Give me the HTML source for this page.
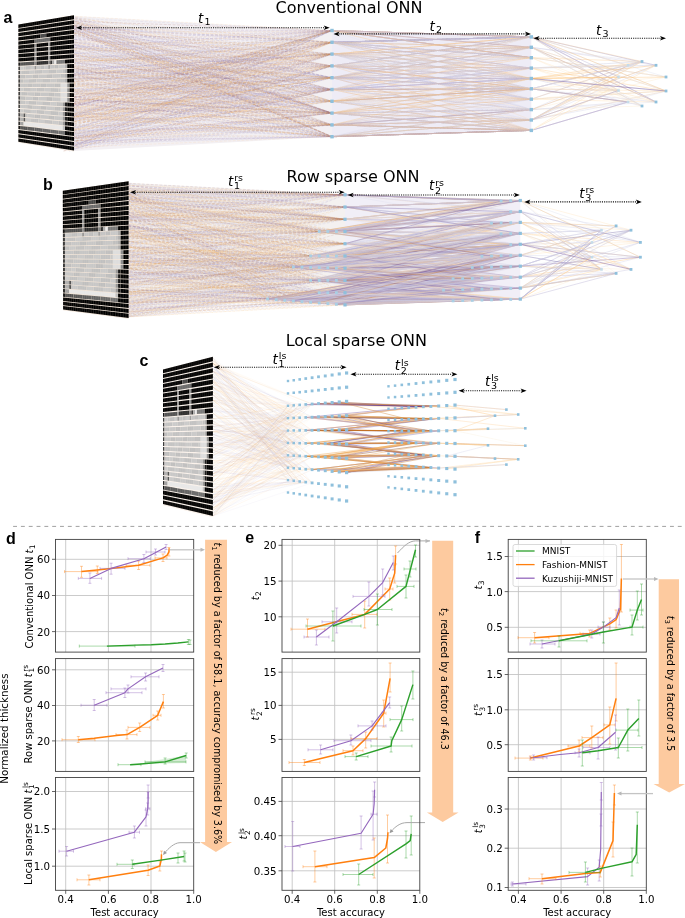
<!DOCTYPE html><html><head><meta charset="utf-8"><style>html,body{margin:0;padding:0;background:#fff;}svg{display:block}</style></head><body>
<svg width="685" height="918" viewBox="0 0 685 918" font-family="DejaVu Sans, sans-serif">
<rect width="685" height="918" fill="#fff"/>
<text x="3.5" y="22.6" font-family="Liberation Sans, sans-serif" font-weight="bold" font-size="16">a</text>
<text x="349" y="13.2" font-size="16" text-anchor="middle">Conventional ONN</text>
<polygon points="73.5,16 332,30.5 332,136.7 73.5,151" fill="#f3f0f3"/>
<polygon points="332,30.5 531.3,36.9 531.3,130.4 332,136.7" fill="#eeecf6"/>
<g stroke-width="0.55" fill="none" stroke-dasharray="3,1.4"><path d="M72.3 139.2L332 77.7M61.7 22.8L332 136.7M65.6 118.9L332 124.9M62.8 71.7L332 54.1M66 97L332 89.5M70 27.8L332 54.1M66.1 120.6L332 113.1M69.1 130.8L332 124.9M72.8 91.9L332 113.1M68.9 113.9L332 89.5M67.2 44.7L332 89.5M70.5 46.4L332 113.1M66.7 19.4L332 77.7M69.4 78.4L332 77.7M63.8 122.3L332 30.5M73.6 103.8L332 89.5M73.6 103.8L332 124.9M68.2 24.4L332 101.3M63.7 21.1L332 65.9M73.1 90.2L332 77.7M73.7 70L332 54.1M61.5 134.1L332 124.9M68.1 105.4L332 101.3M67 108.8L332 30.5M68.3 144.2L332 89.5M69.1 58.2L332 77.7" stroke="#7560a3" stroke-opacity="0.2"/><path d="M70 27.8L332 42.3M74 39.6L332 54.1" stroke="#40146a" stroke-opacity="0.2"/><path d="M67.1 58.2L332 136.7M71.1 32.9L332 42.3M60.1 112.2L332 124.9M70.6 91.9L332 42.3M65.3 132.4L332 136.7M70.9 86.9L332 89.5M61 139.2L332 113.1M62.1 68.3L332 77.7M60.3 41.3L332 89.5M65.1 49.8L332 54.1M63.2 81.8L332 30.5M60.5 64.9L332 42.3M61.1 39.6L332 65.9M63.3 83.5L332 124.9M64.2 32.9L332 30.5" stroke="#fdc278" stroke-opacity="0.2"/><path d="M66.8 36.2L332 124.9M62.7 91.9L332 113.1M62.2 145.9L332 30.5M63.5 110.5L332 30.5M62.2 61.6L332 30.5M70.9 86.9L332 30.5M69 124L332 30.5M72.1 117.2L332 136.7M65.9 26.1L332 136.7M70.6 102.1L332 101.3M70.3 115.6L332 54.1M63.1 34.6L332 136.7M70.6 127.4L332 113.1M63.5 110.5L332 89.5M61.5 134.1L332 42.3M66.1 120.6L332 54.1M65.4 17.7L332 65.9M63.1 132.4L332 42.3M66.7 19.4L332 42.3M64.2 75.1L332 54.1M73.5 53.1L332 54.1M65.5 125.7L332 136.7M71.4 31.2L332 54.1M61 139.2L332 77.7M65.2 48.1L332 30.5M60.8 59.9L332 77.7M64.2 75.1L332 65.9M69.6 118.9L332 42.3M72.4 46.4L332 136.7M67.1 58.2L332 124.9M60.5 64.9L332 42.3M65.2 26.1L332 42.3M69.9 24.4L332 113.1M62.6 90.2L332 30.5M61.2 51.4L332 77.7M64.2 32.9L332 30.5M62.6 49.8L332 113.1M62.8 70L332 136.7M72.8 78.4L332 65.9M66.3 43L332 89.5M73.7 32.9L332 124.9M73.7 34.6L332 42.3M73.7 32.9L332 113.1M62.8 70L332 77.7M72.4 66.6L332 42.3M66.9 135.8L332 77.7M73.7 34.6L332 42.3M70.3 27.8L332 89.5M73.1 90.2L332 101.3M72.4 61.6L332 113.1M60 120.6L332 136.7M70.1 130.8L332 124.9M72.8 78.4L332 77.7M61.7 22.8L332 89.5M68.8 85.2L332 77.7M72.1 117.2L332 42.3M68.8 85.2L332 42.3M67.6 105.4L332 101.3M69.3 151L332 65.9M62.6 48.1L332 42.3M67.1 58.2L332 124.9M63.2 81.8L332 42.3M69.4 29.5L332 113.1M60.2 137.5L332 65.9M65.9 26.1L332 42.3M71.3 93.6L332 54.1M71.1 32.9L332 30.5M69.8 117.2L332 30.5M71.6 135.8L332 30.5M68.3 144.2L332 113.1M67.8 22.8L332 113.1M68.3 144.2L332 136.7M63.5 140.9L332 42.3M72.4 61.6L332 124.9" stroke="#a69dc8" stroke-opacity="0.2"/><path d="M64.8 98.7L332 113.1M65.2 48.1L332 30.5M65 36.2L332 77.7M63.5 140.9L332 136.7M69.4 29.5L332 30.5M68.9 103.8L332 77.7M68.9 103.8L332 30.5M61.5 105.4L332 89.5M63.3 83.5L332 42.3" stroke="#542788" stroke-opacity="0.2"/><path d="M66.3 120.6L332 77.7M63.5 110.5L332 136.7M65.5 125.7L332 65.9M66.1 48.1L332 124.9M60.2 71.7L332 136.7M67.4 102.1L332 30.5M68.8 85.2L332 113.1M66.4 103.8L332 54.1M61.8 39.6L332 101.3M61.2 95.3L332 113.1M64.1 83.5L332 89.5M61.7 22.8L332 113.1M67.3 115.6L332 136.7M62.5 51.4L332 113.1M62.2 61.6L332 54.1M60 120.6L332 113.1M65.8 124L332 42.3M72.7 51.4L332 42.3" stroke="#e08214" stroke-opacity="0.2"/><path d="M60 120.6L332 89.5M72 29.5L332 65.9" stroke="#4a1d79" stroke-opacity="0.2"/><path d="M63.7 145.9L332 42.3M70 27.8L332 136.7M63.8 122.3L332 30.5M69.1 130.8L332 101.3M72.1 117.2L332 30.5M73.6 103.8L332 113.1M71 108.8L332 65.9M71.4 21.1L332 30.5M72.5 100.4L332 89.5M65 36.2L332 30.5M71.6 93.6L332 124.9M63.3 83.5L332 30.5M65.8 124L332 89.5M65.4 17.7L332 136.7M70.3 115.6L332 54.1M70.9 112.2L332 30.5M61.8 16L332 77.7M73.8 64.9L332 101.3M68.7 149.3L332 42.3M67.6 105.4L332 54.1M67.1 58.2L332 89.5M65 135.8L332 136.7M67.3 66.6L332 124.9M70.4 27.8L332 124.9M68.1 113.9L332 136.7M62.4 98.7L332 54.1M68.2 71.7L332 42.3M63.1 132.4L332 65.9M67.7 73.4L332 113.1M60.8 59.9L332 65.9M73.6 103.8L332 124.9M63.7 21.1L332 65.9M63.1 132.4L332 124.9M60.2 37.9L332 113.1M63.3 19.4L332 89.5M67.6 105.4L332 113.1M61.5 80.1L332 101.3M69.7 125.7L332 65.9M70.9 86.9L332 65.9M69.4 75.1L332 101.3M70.9 16L332 30.5M72.1 117.2L332 89.5M71.3 142.6L332 54.1M61 139.2L332 124.9M65.6 147.6L332 136.7M71.1 16L332 113.1M63.2 43L332 30.5M69.1 127.4L332 89.5M60.5 81.8L332 101.3M73.3 54.8L332 30.5M61.4 78.4L332 42.3M73.8 129.1L332 30.5M63.2 81.8L332 65.9M62.6 93.6L332 77.7M63.6 151L332 113.1M63.5 110.5L332 113.1M67 108.8L332 113.1M68.9 103.8L332 101.3" stroke="#fdb863" stroke-opacity="0.2"/><path d="M66.4 115.6L332 77.7M61.1 17.7L332 30.5M62.8 70L332 113.1M65.4 17.7L332 101.3M65.8 59.9L332 42.3M72.4 46.4L332 113.1M66 97L332 54.1M68 112.2L332 30.5M63.8 134.1L332 30.5M72.6 63.2L332 42.3M62.6 48.1L332 124.9M67.2 17.7L332 77.7M61.5 134.1L332 101.3M61.3 140.9L332 65.9M64.5 118.9L332 30.5M65.4 17.7L332 136.7M62.8 71.7L332 77.7M66.7 19.4L332 136.7M71.3 142.6L332 124.9M60.3 41.3L332 101.3M71.1 16L332 136.7M69.1 130.8L332 65.9M68.7 149.3L332 30.5M61.2 95.3L332 136.7M73.6 44.7L332 65.9M68.4 41.3L332 124.9M65 137.5L332 136.7M65.5 110.5L332 136.7M60.6 76.8L332 136.7M71.8 144.2L332 124.9M65.5 125.7L332 124.9M62.8 71.7L332 89.5M62.7 95.3L332 77.7M61.4 78.4L332 136.7M73.6 103.8L332 124.9M63.2 43L332 89.5M63.2 81.8L332 101.3M69.4 78.4L332 136.7M60.6 76.8L332 89.5M67 149.3L332 65.9M72.4 66.6L332 136.7M60.8 59.9L332 54.1" stroke="#8c81b6" stroke-opacity="0.2"/><path d="M72 29.5L332 113.1" stroke="#370a5a" stroke-opacity="0.2"/><path d="M65.2 48.1L332 65.9M63.8 134.1L332 136.7M65.7 130.8L332 30.5M72.8 78.4L332 113.1M69.3 151L332 30.5M66.9 63.2L332 113.1M67.8 22.8L332 54.1M62.9 56.5L332 54.1M71.3 142.6L332 30.5M68.9 113.9L332 65.9M61.7 22.8L332 77.7M65.9 34.6L332 77.7M61.2 95.3L332 124.9M65 137.5L332 65.9M63.2 81.8L332 65.9M73 127.4L332 89.5M70.9 112.2L332 136.7M66.1 120.6L332 89.5M61.4 78.4L332 89.5M68.9 56.5L332 65.9M70.9 16L332 113.1M69 124L332 136.7M64.7 80.1L332 136.7M72.8 44.7L332 101.3M63.6 151L332 30.5M63.1 34.6L332 54.1M65 135.8L332 89.5M60.5 64.9L332 101.3M73.7 32.9L332 77.7M68.8 64.9L332 101.3M72.6 63.2L332 101.3M65.9 26.1L332 42.3M61.1 39.6L332 77.7M71.3 142.6L332 77.7M67.3 115.6L332 54.1M66.6 107.1L332 113.1M62.9 54.8L332 77.7M69.6 118.9L332 101.3M71.4 31.2L332 113.1M66 70L332 124.9M62.2 61.6L332 89.5M65.2 48.1L332 113.1M63.3 83.5L332 89.5M68.9 53.1L332 136.7M73.6 44.7L332 89.5M60 120.6L332 136.7M62.7 95.3L332 77.7M62.7 91.9L332 65.9M73.5 53.1L332 124.9M65.8 147.6L332 54.1M73.2 73.4L332 113.1M65.7 95.3L332 124.9M66.4 103.8L332 89.5M71.3 73.4L332 30.5M60.4 85.2L332 101.3M66.4 103.8L332 30.5M63.2 137.5L332 77.7M69.7 125.7L332 30.5M69.8 151L332 54.1M72.3 139.2L332 101.3M66.6 107.1L332 30.5M67.7 73.4L332 89.5M70.2 24.4L332 89.5M63.5 110.5L332 136.7M61.2 95.3L332 42.3M62.8 71.7L332 77.7M61 139.2L332 89.5M61.1 17.7L332 89.5M67.7 73.4L332 30.5" stroke="#998fbf" stroke-opacity="0.2"/><path d="M66 97L332 77.7M63.2 43L332 77.7M62.5 51.4L332 77.7M72.3 139.2L332 113.1M70.3 90.2L332 42.3M64.8 98.7L332 113.1M73.7 34.6L332 77.7M65.8 147.6L332 89.5M69.4 75.1L332 136.7M71.1 16L332 89.5M60.3 41.3L332 113.1M66.4 115.6L332 77.7M70.3 90.2L332 30.5M63.1 34.6L332 77.7M68.8 85.2L332 65.9M73.2 129.1L332 54.1M70.9 16L332 89.5M67.4 102.1L332 30.5M67.7 88.6L332 54.1M60.3 41.3L332 65.9M63.2 137.5L332 89.5M66.3 43L332 42.3M67.1 58.2L332 89.5M72.5 100.4L332 77.7M61.1 39.6L332 89.5M65.8 147.6L332 89.5M73.7 70L332 101.3M72.9 21.1L332 124.9M62.6 49.8L332 113.1M66 70L332 113.1M67.7 88.6L332 101.3M72.1 117.2L332 124.9M62 66.6L332 65.9M63.8 122.3L332 65.9M72.3 139.2L332 113.1M65.9 100.4L332 136.7M68.2 71.7L332 77.7M65.5 110.5L332 89.5M63.5 140.9L332 77.7M72.7 51.4L332 77.7M69.1 130.8L332 89.5M60.1 112.2L332 30.5M67.7 73.4L332 89.5M69 75.1L332 101.3M69.5 113.9L332 113.1M73.3 54.8L332 89.5M64.2 32.9L332 89.5M70.9 112.2L332 89.5M61.1 17.7L332 136.7M72.1 117.2L332 77.7M63 108.8L332 89.5M67.3 66.6L332 30.5M71.3 142.6L332 77.7M64.2 75.1L332 101.3M74 144.2L332 136.7M61.2 95.3L332 30.5M62.2 61.6L332 30.5M65.9 100.4L332 113.1M67.8 22.8L332 101.3M73.6 44.7L332 136.7M63.4 81.8L332 30.5M60.2 100.4L332 113.1M65 36.2L332 65.9M69.1 58.2L332 42.3M67.2 44.7L332 30.5M63.1 34.6L332 77.7M62.8 70L332 30.5M65.5 110.5L332 101.3M71.8 132.4L332 65.9M63.2 147.6L332 65.9M73.5 53.1L332 65.9M69 75.1L332 113.1M69.5 113.9L332 42.3M71.8 144.2L332 124.9M63.2 43L332 30.5M62.6 93.6L332 101.3M67.3 66.6L332 54.1M63.5 140.9L332 89.5" stroke="#b2abd2" stroke-opacity="0.2"/><path d="M63.5 110.5L332 30.5" stroke="#8c4207" stroke-opacity="0.2"/><path d="M65.7 95.3L332 77.7M60.5 107.1L332 124.9M70.3 27.8L332 136.7M62.6 142.6L332 113.1M60.5 107.1L332 42.3M65.8 124L332 54.1M63.4 81.8L332 124.9M69.9 24.4L332 101.3M69.8 98.7L332 77.7M61.1 17.7L332 42.3M67.3 115.6L332 136.7M72.1 117.2L332 42.3M72.8 91.9L332 136.7M71.3 142.6L332 65.9M70.6 102.1L332 65.9M66.4 115.6L332 124.9" stroke="#d57811" stroke-opacity="0.2"/><path d="M67.3 115.6L332 42.3M73.7 32.9L332 113.1M65.4 17.7L332 113.1M73.7 34.6L332 113.1" stroke="#b35806" stroke-opacity="0.2"/><path d="M73 127.4L332 65.9M69.8 117.2L332 77.7M71.7 29.5L332 124.9M70.3 115.6L332 30.5M70 27.8L332 54.1M62.8 70L332 89.5M73.1 90.2L332 42.3M67.7 68.3L332 30.5M65.8 147.6L332 65.9M70.4 27.8L332 89.5M62.7 91.9L332 77.7M66.6 80.1L332 65.9M62.2 61.6L332 54.1" stroke="#ca6d0d" stroke-opacity="0.2"/><path d="M65.2 48.1L332 65.9M62.6 142.6L332 113.1M62.6 142.6L332 42.3M73.2 97L332 65.9M60.2 137.5L332 113.1M66.6 107.1L332 30.5M60.2 100.4L332 42.3M60.6 76.8L332 113.1M69.6 118.9L332 42.3M67.1 58.2L332 65.9M64.2 83.5L332 101.3M68.6 63.2L332 42.3M72.8 78.4L332 30.5M73.2 73.4L332 124.9M61.2 51.4L332 113.1M60.6 76.8L332 54.1M71.5 139.2L332 89.5M60.5 107.1L332 113.1M64.2 83.5L332 54.1M67 149.3L332 89.5M67.8 22.8L332 136.7M61.5 134.1L332 54.1M68.6 63.2L332 77.7M69.9 24.4L332 42.3M68.9 86.9L332 54.1M67.7 68.3L332 89.5M69.9 24.4L332 89.5M63.3 83.5L332 42.3M64.7 80.1L332 54.1M71.4 21.1L332 101.3M69.5 113.9L332 136.7" stroke="#e79028" stroke-opacity="0.2"/><path d="M72.8 85.2L332 77.7M65.5 124L332 136.7M70.3 27.8L332 124.9M69.4 29.5L332 42.3M69.8 98.7L332 65.9M71.8 22.8L332 77.7M68.3 144.2L332 42.3M65.6 118.9L332 30.5M69.3 151L332 65.9M71.4 21.1L332 113.1M65 122.3L332 113.1M62.4 98.7L332 77.7M62.2 145.9L332 65.9M60.2 100.4L332 42.3M60.8 59.9L332 136.7M65.6 26.1L332 136.7M68.6 63.2L332 113.1M72.8 91.9L332 42.3M62.7 88.6L332 124.9M61 49.8L332 136.7M62.6 142.6L332 30.5M72.8 78.4L332 42.3M60.5 64.9L332 124.9M64.2 75.1L332 65.9M67 134.1L332 54.1M66.1 48.1L332 124.9M60.2 71.7L332 30.5M70.4 27.8L332 89.5M61 139.2L332 65.9M64.5 118.9L332 136.7M68.8 64.9L332 136.7M71.3 73.4L332 124.9M63.4 140.9L332 101.3" stroke="#bcb7d8" stroke-opacity="0.2"/><path d="M71.7 129.1L332 54.1M67 149.3L332 30.5M60.6 76.8L332 30.5M67.3 66.6L332 113.1M62.2 61.6L332 89.5M71.3 142.6L332 136.7M61.8 39.6L332 89.5M65.7 95.3L332 136.7M65.8 147.6L332 89.5M69.4 29.5L332 136.7M63.2 137.5L332 113.1M60.6 76.8L332 54.1M61.7 22.8L332 65.9M71.4 21.1L332 30.5M65.1 107.1L332 54.1M63 108.8L332 42.3M73.2 73.4L332 65.9M61 139.2L332 113.1M69.8 98.7L332 42.3M68.2 24.4L332 113.1M65.3 132.4L332 89.5" stroke="#5f3a91" stroke-opacity="0.2"/><path d="M67.2 44.7L332 124.9M65 137.5L332 124.9" stroke="#a65107" stroke-opacity="0.2"/><path d="M73.2 97L332 65.9M68.3 144.2L332 113.1M60.2 137.5L332 54.1M71.7 145.9L332 65.9M71.6 135.8L332 124.9M74 39.6L332 30.5M70 27.8L332 113.1M63.6 151L332 89.5M63.2 147.6L332 124.9M67.7 88.6L332 89.5M62.9 54.8L332 65.9M60.2 100.4L332 136.7M66.4 115.6L332 101.3M69.2 61.6L332 89.5M71 108.8L332 113.1M66.3 43L332 113.1M62.9 54.8L332 30.5" stroke="#6a4d9a" stroke-opacity="0.2"/><path d="M62.7 95.3L332 42.3M69.4 29.5L332 136.7M60.5 97L332 42.3M70.3 115.6L332 101.3M73.7 70L332 54.1M69 75.1L332 113.1M65.6 26.1L332 77.7M61.7 22.8L332 77.7M71.4 54.8L332 136.7M61.4 78.4L332 77.7M67.7 68.3L332 113.1M60.8 59.9L332 77.7M68.9 86.9L332 136.7M67.7 73.4L332 124.9M66.1 48.1L332 54.1M65.3 132.4L332 124.9M61.2 51.4L332 30.5M65 135.8L332 89.5M72.3 139.2L332 54.1M67 149.3L332 124.9M62.8 70L332 54.1M61.3 140.9L332 136.7M65.6 118.9L332 30.5M61.7 22.8L332 113.1M65.5 110.5L332 113.1M66.8 36.2L332 113.1M70.6 91.9L332 77.7M70.6 127.4L332 30.5M72.3 139.2L332 124.9M69 75.1L332 54.1M71.4 31.2L332 65.9M62.4 98.7L332 113.1M65.6 147.6L332 113.1" stroke="#8073ac" stroke-opacity="0.2"/><path d="M63.6 151L332 77.7M65.7 95.3L332 65.9M64.9 102.1L332 101.3M71.5 139.2L332 101.3M62.2 145.9L332 124.9M63.8 122.3L332 89.5M64.2 83.5L332 77.7M64.8 98.7L332 101.3M68.9 53.1L332 77.7M73.7 32.9L332 65.9M63.8 134.1L332 124.9M69.6 118.9L332 77.7M64.9 102.1L332 54.1M65.7 130.8L332 101.3M71.6 135.8L332 42.3M61 49.8L332 42.3M65.8 124L332 65.9M60.8 59.9L332 54.1M70.2 24.4L332 54.1M63 108.8L332 136.7M63.3 19.4L332 65.9M72 29.5L332 136.7M71 108.8L332 124.9M71.3 73.4L332 54.1M72.1 117.2L332 77.7M63.3 83.5L332 54.1M62.6 49.8L332 30.5M73.2 97L332 42.3M65.8 147.6L332 42.3M71.7 129.1L332 101.3M61.8 39.6L332 54.1M65.9 100.4L332 113.1M62.6 90.2L332 30.5M69.2 61.6L332 42.3M65.3 132.4L332 124.9M71.3 73.4L332 136.7M70.6 91.9L332 77.7M68.8 64.9L332 136.7M66.6 80.1L332 42.3M70.6 56.5L332 77.7M73.6 44.7L332 42.3M67.8 22.8L332 136.7" stroke="#f6aa4f" stroke-opacity="0.2"/><path d="M62.4 98.7L332 113.1" stroke="#994a07" stroke-opacity="0.2"/><path d="M68.1 105.4L332 30.5M60.5 64.9L332 124.9M65.5 125.7L332 77.7M71.6 93.6L332 89.5" stroke="#be630a" stroke-opacity="0.2"/><path d="M69.1 58.2L332 77.7M73.1 90.2L332 124.9M62.6 43L332 101.3M69.1 130.8L332 101.3M67.7 88.6L332 124.9M64.1 83.5L332 113.1M65.5 110.5L332 54.1M70.3 90.2L332 136.7M60.5 97L332 113.1M64.5 118.9L332 77.7M64.9 102.1L332 77.7M70.6 127.4L332 30.5M62.9 56.5L332 54.1M67.6 105.4L332 124.9M73.7 32.9L332 113.1M67.8 22.8L332 42.3M67.3 66.6L332 77.7M66.4 115.6L332 65.9M70.9 16L332 65.9M60.5 107.1L332 101.3M71.3 73.4L332 89.5M73.2 129.1L332 89.5M60.5 64.9L332 101.3M70.3 90.2L332 65.9M65.4 122.3L332 113.1M66.4 115.6L332 30.5M73.8 64.9L332 113.1M71.8 22.8L332 101.3M65.2 48.1L332 54.1M65.8 124L332 54.1M62.9 54.8L332 77.7M66.3 43L332 42.3M60.2 71.7L332 65.9M63.4 140.9L332 124.9M62 66.6L332 101.3M63.5 140.9L332 89.5M63.8 134.1L332 54.1M71.4 31.2L332 136.7" stroke="#ee9d3c" stroke-opacity="0.2"/></g>
<g stroke-width="0.45" fill="none"><path d="M332 124.9L531.3 78.5M332 30.5L531.3 36.9M332 136.7L531.3 130.4M332 42.3L531.3 47.3M332 124.9L531.3 120M332 54.1L531.3 36.9M332 42.3L531.3 47.3M332 136.7L531.3 109.6M332 77.7L531.3 88.8M332 65.9L531.3 88.8M332 101.3L531.3 99.2M332 30.5L531.3 36.9" stroke="#fee0b6" stroke-opacity="0.4"/><path d="M332 42.3L531.3 36.9M332 30.5L531.3 57.7M332 124.9L531.3 109.6M332 42.3L531.3 47.3M332 136.7L531.3 130.4M332 30.5L531.3 57.7M332 89.5L531.3 78.5M332 77.7L531.3 88.8M332 77.7L531.3 47.3M332 42.3L531.3 78.5" stroke="#a69dc8" stroke-opacity="0.4"/><path d="M332 42.3L531.3 57.7M332 89.5L531.3 88.8M332 42.3L531.3 88.8M332 54.1L531.3 68.1M332 113.1L531.3 109.6M332 113.1L531.3 130.4M332 89.5L531.3 47.3M332 89.5L531.3 109.6M332 54.1L531.3 47.3M332 113.1L531.3 109.6M332 54.1L531.3 88.8M332 54.1L531.3 78.5M332 77.7L531.3 36.9M332 124.9L531.3 130.4M332 54.1L531.3 78.5M332 77.7L531.3 99.2M332 101.3L531.3 88.8M332 124.9L531.3 109.6M332 42.3L531.3 68.1M332 65.9L531.3 36.9M332 113.1L531.3 99.2M332 42.3L531.3 36.9M332 101.3L531.3 78.5M332 89.5L531.3 68.1M332 89.5L531.3 88.8M332 30.5L531.3 36.9M332 77.7L531.3 109.6M332 124.9L531.3 120M332 77.7L531.3 36.9M332 65.9L531.3 78.5M332 124.9L531.3 120M332 30.5L531.3 36.9M332 65.9L531.3 68.1M332 54.1L531.3 47.3M332 77.7L531.3 78.5M332 89.5L531.3 68.1M332 89.5L531.3 130.4M332 113.1L531.3 130.4M332 89.5L531.3 88.8M332 77.7L531.3 88.8M332 42.3L531.3 57.7M332 136.7L531.3 130.4M332 77.7L531.3 78.5M332 30.5L531.3 57.7M332 89.5L531.3 109.6M332 77.7L531.3 47.3M332 113.1L531.3 109.6M332 65.9L531.3 78.5" stroke="#bcb7d8" stroke-opacity="0.4"/><path d="M332 101.3L531.3 88.8" stroke="#2d004b" stroke-opacity="0.6"/><path d="M332 113.1L531.3 88.8" stroke="#ca6d0d" stroke-opacity="0.4"/><path d="M332 89.5L531.3 78.5M332 136.7L531.3 130.4M332 30.5L531.3 57.7M332 124.9L531.3 130.4" stroke="#5f3a91" stroke-opacity="0.6"/><path d="M332 42.3L531.3 57.7M332 54.1L531.3 36.9M332 42.3L531.3 36.9" stroke="#e79028" stroke-opacity="0.4"/><path d="M332 65.9L531.3 88.8M332 54.1L531.3 99.2M332 54.1L531.3 47.3M332 30.5L531.3 36.9M332 124.9L531.3 88.8M332 30.5L531.3 47.3M332 113.1L531.3 109.6M332 101.3L531.3 99.2M332 65.9L531.3 36.9M332 101.3L531.3 78.5M332 30.5L531.3 78.5M332 124.9L531.3 120M332 30.5L531.3 36.9M332 89.5L531.3 130.4" stroke="#fdb863" stroke-opacity="0.4"/><path d="M332 77.7L531.3 88.8M332 124.9L531.3 120" stroke="#998fbf" stroke-opacity="0.4"/><path d="M332 65.9L531.3 68.1M332 113.1L531.3 130.4M332 89.5L531.3 88.8M332 42.3L531.3 88.8M332 77.7L531.3 68.1M332 113.1L531.3 120M332 124.9L531.3 130.4M332 113.1L531.3 130.4M332 65.9L531.3 99.2M332 42.3L531.3 36.9M332 136.7L531.3 130.4M332 136.7L531.3 109.6M332 42.3L531.3 68.1M332 65.9L531.3 36.9M332 89.5L531.3 68.1M332 136.7L531.3 130.4M332 101.3L531.3 130.4M332 65.9L531.3 88.8M332 89.5L531.3 88.8M332 54.1L531.3 109.6M332 65.9L531.3 78.5M332 124.9L531.3 88.8M332 89.5L531.3 88.8M332 42.3L531.3 36.9M332 65.9L531.3 88.8M332 124.9L531.3 99.2M332 42.3L531.3 57.7M332 42.3L531.3 36.9M332 136.7L531.3 130.4M332 101.3L531.3 78.5M332 124.9L531.3 109.6M332 65.9L531.3 99.2" stroke="#b2abd2" stroke-opacity="0.4"/><path d="M332 77.7L531.3 78.5M332 124.9L531.3 109.6M332 42.3L531.3 36.9" stroke="#7560a3" stroke-opacity="0.6"/><path d="M332 89.5L531.3 120M332 113.1L531.3 130.4M332 124.9L531.3 130.4M332 65.9L531.3 68.1M332 30.5L531.3 57.7M332 65.9L531.3 109.6M332 42.3L531.3 88.8M332 113.1L531.3 78.5M332 101.3L531.3 78.5M332 113.1L531.3 78.5M332 113.1L531.3 109.6M332 54.1L531.3 68.1M332 54.1L531.3 68.1M332 136.7L531.3 130.4M332 136.7L531.3 120M332 77.7L531.3 36.9M332 77.7L531.3 36.9M332 101.3L531.3 109.6M332 113.1L531.3 99.2M332 101.3L531.3 78.5M332 42.3L531.3 36.9M332 30.5L531.3 57.7M332 124.9L531.3 120M332 101.3L531.3 120M332 89.5L531.3 88.8M332 42.3L531.3 78.5M332 77.7L531.3 47.3M332 65.9L531.3 36.9M332 77.7L531.3 78.5M332 89.5L531.3 109.6M332 136.7L531.3 120M332 136.7L531.3 130.4M332 136.7L531.3 109.6M332 89.5L531.3 47.3M332 54.1L531.3 88.8M332 89.5L531.3 99.2M332 136.7L531.3 130.4M332 65.9L531.3 57.7M332 54.1L531.3 36.9" stroke="#fed6a1" stroke-opacity="0.4"/><path d="M332 42.3L531.3 88.8M332 30.5L531.3 36.9M332 42.3L531.3 36.9M332 42.3L531.3 57.7M332 77.7L531.3 57.7M332 89.5L531.3 109.6M332 101.3L531.3 109.6M332 54.1L531.3 78.5M332 101.3L531.3 88.8M332 113.1L531.3 120M332 42.3L531.3 36.9M332 101.3L531.3 120M332 89.5L531.3 47.3M332 42.3L531.3 109.6M332 54.1L531.3 78.5M332 113.1L531.3 109.6M332 54.1L531.3 57.7M332 42.3L531.3 36.9M332 42.3L531.3 57.7M332 89.5L531.3 78.5M332 101.3L531.3 99.2M332 54.1L531.3 36.9M332 124.9L531.3 130.4M332 42.3L531.3 36.9M332 136.7L531.3 120M332 30.5L531.3 47.3M332 124.9L531.3 109.6M332 89.5L531.3 78.5M332 54.1L531.3 99.2M332 89.5L531.3 99.2M332 136.7L531.3 120M332 30.5L531.3 57.7M332 101.3L531.3 88.8M332 77.7L531.3 57.7M332 113.1L531.3 120M332 65.9L531.3 57.7M332 30.5L531.3 36.9M332 101.3L531.3 130.4M332 42.3L531.3 47.3M332 113.1L531.3 99.2M332 101.3L531.3 130.4M332 101.3L531.3 120M332 136.7L531.3 120M332 113.1L531.3 130.4M332 113.1L531.3 109.6M332 42.3L531.3 36.9M332 89.5L531.3 68.1M332 65.9L531.3 57.7M332 65.9L531.3 36.9M332 54.1L531.3 47.3M332 136.7L531.3 120M332 30.5L531.3 36.9M332 101.3L531.3 130.4M332 89.5L531.3 88.8M332 54.1L531.3 47.3M332 42.3L531.3 36.9M332 65.9L531.3 88.8M332 101.3L531.3 120M332 136.7L531.3 130.4M332 77.7L531.3 88.8M332 101.3L531.3 120M332 77.7L531.3 78.5M332 30.5L531.3 36.9M332 113.1L531.3 109.6M332 54.1L531.3 99.2M332 54.1L531.3 57.7M332 136.7L531.3 88.8M332 89.5L531.3 109.6M332 77.7L531.3 68.1M332 54.1L531.3 78.5" stroke="#cecee5" stroke-opacity="0.4"/><path d="M332 136.7L531.3 130.4" stroke="#542788" stroke-opacity="0.6"/><path d="M332 30.5L531.3 36.9M332 30.5L531.3 47.3M332 42.3L531.3 36.9" stroke="#6a4d9a" stroke-opacity="0.6"/><path d="M332 65.9L531.3 36.9" stroke="#8c81b6" stroke-opacity="0.4"/><path d="M332 89.5L531.3 88.8M332 30.5L531.3 36.9" stroke="#e08214" stroke-opacity="0.4"/><path d="M332 42.3L531.3 78.5M332 101.3L531.3 78.5M332 113.1L531.3 130.4M332 42.3L531.3 36.9M332 54.1L531.3 68.1M332 65.9L531.3 47.3M332 42.3L531.3 36.9M332 113.1L531.3 109.6M332 54.1L531.3 88.8M332 54.1L531.3 47.3M332 42.3L531.3 57.7M332 65.9L531.3 78.5M332 124.9L531.3 130.4M332 54.1L531.3 99.2M332 101.3L531.3 78.5M332 65.9L531.3 36.9M332 65.9L531.3 57.7M332 42.3L531.3 78.5M332 65.9L531.3 47.3M332 136.7L531.3 130.4M332 77.7L531.3 88.8M332 136.7L531.3 109.6M332 89.5L531.3 36.9M332 101.3L531.3 99.2M332 89.5L531.3 109.6M332 65.9L531.3 36.9M332 42.3L531.3 68.1M332 89.5L531.3 68.1M332 54.1L531.3 88.8M332 54.1L531.3 109.6M332 124.9L531.3 130.4M332 30.5L531.3 47.3M332 54.1L531.3 78.5M332 65.9L531.3 78.5M332 54.1L531.3 57.7M332 30.5L531.3 36.9M332 113.1L531.3 88.8M332 77.7L531.3 88.8M332 89.5L531.3 36.9M332 113.1L531.3 109.6M332 30.5L531.3 36.9M332 65.9L531.3 99.2M332 42.3L531.3 36.9M332 136.7L531.3 130.4M332 42.3L531.3 36.9M332 42.3L531.3 57.7M332 30.5L531.3 99.2M332 54.1L531.3 78.5" stroke="#d8daeb" stroke-opacity="0.4"/><path d="M332 77.7L531.3 130.4M332 101.3L531.3 68.1M332 136.7L531.3 120M332 54.1L531.3 47.3M332 77.7L531.3 47.3M332 113.1L531.3 120M332 124.9L531.3 78.5M332 113.1L531.3 78.5M332 42.3L531.3 78.5M332 65.9L531.3 130.4" stroke="#f6aa4f" stroke-opacity="0.4"/><path d="M332 30.5L531.3 36.9M332 136.7L531.3 109.6M332 113.1L531.3 88.8M332 42.3L531.3 120M332 54.1L531.3 57.7M332 54.1L531.3 47.3M332 101.3L531.3 130.4M332 42.3L531.3 68.1M332 30.5L531.3 36.9M332 77.7L531.3 88.8M332 89.5L531.3 99.2M332 42.3L531.3 47.3M332 65.9L531.3 68.1M332 113.1L531.3 120M332 124.9L531.3 99.2M332 124.9L531.3 130.4M332 89.5L531.3 36.9M332 54.1L531.3 68.1M332 101.3L531.3 88.8M332 113.1L531.3 99.2M332 77.7L531.3 57.7M332 113.1L531.3 68.1M332 124.9L531.3 120M332 113.1L531.3 130.4M332 89.5L531.3 57.7M332 101.3L531.3 78.5M332 77.7L531.3 99.2M332 54.1L531.3 57.7M332 54.1L531.3 36.9M332 124.9L531.3 130.4M332 101.3L531.3 88.8M332 30.5L531.3 57.7M332 30.5L531.3 47.3M332 77.7L531.3 99.2M332 89.5L531.3 99.2M332 89.5L531.3 130.4M332 65.9L531.3 78.5M332 89.5L531.3 99.2M332 42.3L531.3 47.3M332 113.1L531.3 130.4M332 54.1L531.3 78.5M332 30.5L531.3 78.5" stroke="#fecc8c" stroke-opacity="0.4"/><path d="M332 65.9L531.3 88.8M332 101.3L531.3 88.8M332 65.9L531.3 88.8M332 124.9L531.3 130.4M332 77.7L531.3 57.7M332 89.5L531.3 57.7M332 136.7L531.3 130.4M332 54.1L531.3 36.9M332 30.5L531.3 36.9M332 77.7L531.3 68.1M332 101.3L531.3 47.3M332 65.9L531.3 68.1M332 30.5L531.3 57.7M332 65.9L531.3 47.3M332 113.1L531.3 99.2M332 136.7L531.3 130.4M332 101.3L531.3 88.8M332 124.9L531.3 109.6M332 101.3L531.3 130.4M332 77.7L531.3 130.4M332 30.5L531.3 36.9M332 113.1L531.3 88.8M332 65.9L531.3 88.8" stroke="#fdc278" stroke-opacity="0.4"/><path d="M332 124.9L531.3 130.4M332 136.7L531.3 130.4" stroke="#ee9d3c" stroke-opacity="0.4"/><path d="M332 124.9L531.3 120M332 77.7L531.3 120M332 77.7L531.3 47.3M332 54.1L531.3 68.1M332 42.3L531.3 68.1M332 136.7L531.3 130.4M332 77.7L531.3 68.1M332 77.7L531.3 130.4M332 113.1L531.3 78.5M332 65.9L531.3 68.1M332 42.3L531.3 68.1M332 77.7L531.3 68.1M332 136.7L531.3 130.4M332 136.7L531.3 109.6M332 89.5L531.3 99.2M332 113.1L531.3 130.4M332 89.5L531.3 68.1M332 30.5L531.3 36.9M332 113.1L531.3 109.6M332 124.9L531.3 130.4M332 30.5L531.3 36.9M332 42.3L531.3 36.9M332 136.7L531.3 109.6M332 65.9L531.3 99.2M332 136.7L531.3 99.2M332 42.3L531.3 68.1M332 89.5L531.3 78.5M332 124.9L531.3 130.4M332 30.5L531.3 36.9M332 65.9L531.3 99.2M332 77.7L531.3 36.9M332 65.9L531.3 78.5M332 30.5L531.3 36.9M332 136.7L531.3 130.4M332 54.1L531.3 68.1M332 42.3L531.3 57.7M332 77.7L531.3 78.5M332 77.7L531.3 47.3M332 65.9L531.3 88.8M332 89.5L531.3 88.8M332 30.5L531.3 36.9M332 30.5L531.3 36.9M332 89.5L531.3 47.3M332 77.7L531.3 88.8M332 65.9L531.3 68.1M332 77.7L531.3 130.4M332 54.1L531.3 47.3M332 113.1L531.3 130.4M332 77.7L531.3 78.5" stroke="#c5c2de" stroke-opacity="0.4"/></g>
<g stroke-width="0.55" fill="none"><path d="M531.3 57.7L666 77M531.3 78.5L618.5 90.5M531.3 120L618.5 77M531.3 120L618.5 90.5M531.3 78.5L618.5 90.5M531.3 99.2L642 61.5" stroke="#fecc8c" stroke-opacity="0.6"/><path d="M531.3 130.4L628 102" stroke="#4a1d79" stroke-opacity="0.6"/><path d="M531.3 36.9L656 65.3" stroke="#8073ac" stroke-opacity="0.6"/><path d="M531.3 88.8L628 102" stroke="#e79028" stroke-opacity="0.6"/><path d="M531.3 36.9L656 102" stroke="#5f3a91" stroke-opacity="0.6"/><path d="M531.3 120L628 65.3M531.3 109.6L642 106M531.3 99.2L618.5 90.5M531.3 57.7L642 106M531.3 68.1L642 106M531.3 109.6L666 77M531.3 57.7L666 77M531.3 47.3L642 106M531.3 78.5L656 102" stroke="#fce6c6" stroke-opacity="0.6"/><path d="M531.3 120L656 65.3M531.3 47.3L642 61.5M531.3 47.3L656 102M531.3 120L628 65.3M531.3 109.6L642 61.5M531.3 68.1L656 65.3M531.3 88.8L628 102M531.3 120L618.5 77M531.3 47.3L666 91M531.3 120L666 91M531.3 120L628 102M531.3 88.8L628 65.3M531.3 120L642 61.5" stroke="#cecee5" stroke-opacity="0.6"/><path d="M531.3 36.9L642 61.5M531.3 120L642 61.5M531.3 68.1L656 102M531.3 88.8L666 91M531.3 47.3L666 91M531.3 99.2L666 91M531.3 130.4L618.5 77M531.3 99.2L656 102" stroke="#fed6a1" stroke-opacity="0.6"/><path d="M531.3 99.2L642 61.5M531.3 120L618.5 90.5M531.3 120L628 65.3" stroke="#bcb7d8" stroke-opacity="0.6"/><path d="M531.3 88.8L642 61.5M531.3 47.3L656 102M531.3 36.9L618.5 90.5" stroke="#b2abd2" stroke-opacity="0.6"/><path d="M531.3 88.8L628 102" stroke="#7560a3" stroke-opacity="0.6"/><path d="M531.3 68.1L628 65.3M531.3 88.8L618.5 90.5M531.3 47.3L656 65.3M531.3 88.8L642 61.5M531.3 36.9L628 65.3M531.3 78.5L642 106M531.3 109.6L628 102M531.3 88.8L656 102M531.3 47.3L642 106M531.3 88.8L628 102M531.3 88.8L642 61.5M531.3 109.6L656 65.3" stroke="#c5c2de" stroke-opacity="0.6"/><path d="M531.3 68.1L666 91M531.3 57.7L642 61.5M531.3 78.5L642 61.5M531.3 47.3L656 102M531.3 109.6L656 65.3" stroke="#fdc278" stroke-opacity="0.6"/><path d="M531.3 78.5L656 65.3" stroke="#f6aa4f" stroke-opacity="0.6"/><path d="M531.3 78.5L666 91" stroke="#998fbf" stroke-opacity="0.6"/><path d="M531.3 68.1L642 61.5M531.3 36.9L642 106M531.3 78.5L618.5 90.5M531.3 99.2L666 91M531.3 36.9L666 91M531.3 36.9L666 77M531.3 68.1L656 65.3M531.3 36.9L656 102M531.3 68.1L642 61.5M531.3 130.4L666 91M531.3 109.6L656 102M531.3 57.7L666 77M531.3 47.3L642 106" stroke="#d8daeb" stroke-opacity="0.6"/><path d="M531.3 130.4L656 65.3M531.3 47.3L642 106M531.3 88.8L642 61.5" stroke="#faecd6" stroke-opacity="0.6"/><path d="M531.3 36.9L628 65.3M531.3 78.5L618.5 77M531.3 36.9L618.5 90.5M531.3 78.5L628 65.3M531.3 57.7L618.5 90.5M531.3 88.8L618.5 90.5M531.3 88.8L666 77M531.3 68.1L628 65.3M531.3 130.4L656 65.3M531.3 120L642 61.5M531.3 99.2L666 91M531.3 120L666 91" stroke="#fee0b6" stroke-opacity="0.6"/><path d="M531.3 78.5L666 91" stroke="#6a4d9a" stroke-opacity="0.6"/><path d="M531.3 78.5L618.5 77M531.3 36.9L666 91M531.3 78.5L666 77" stroke="#fdb863" stroke-opacity="0.6"/><path d="M531.3 120L618.5 90.5M531.3 36.9L618.5 77" stroke="#a69dc8" stroke-opacity="0.6"/></g>
<rect x="330.3" y="28.8" width="3.4" height="3.4" fill="#8fc0dc"/>
<rect x="330.3" y="40.6" width="3.4" height="3.4" fill="#8fc0dc"/>
<rect x="330.3" y="52.4" width="3.4" height="3.4" fill="#8fc0dc"/>
<rect x="330.3" y="64.2" width="3.4" height="3.4" fill="#8fc0dc"/>
<rect x="330.3" y="76" width="3.4" height="3.4" fill="#8fc0dc"/>
<rect x="330.3" y="87.8" width="3.4" height="3.4" fill="#8fc0dc"/>
<rect x="330.3" y="99.6" width="3.4" height="3.4" fill="#8fc0dc"/>
<rect x="330.3" y="111.4" width="3.4" height="3.4" fill="#8fc0dc"/>
<rect x="330.3" y="123.2" width="3.4" height="3.4" fill="#8fc0dc"/>
<rect x="330.3" y="135" width="3.4" height="3.4" fill="#8fc0dc"/>
<rect x="529.6" y="35.2" width="3.4" height="3.4" fill="#8fc0dc"/>
<rect x="529.6" y="45.6" width="3.4" height="3.4" fill="#8fc0dc"/>
<rect x="529.6" y="56" width="3.4" height="3.4" fill="#8fc0dc"/>
<rect x="529.6" y="66.4" width="3.4" height="3.4" fill="#8fc0dc"/>
<rect x="529.6" y="76.8" width="3.4" height="3.4" fill="#8fc0dc"/>
<rect x="529.6" y="87.1" width="3.4" height="3.4" fill="#8fc0dc"/>
<rect x="529.6" y="97.5" width="3.4" height="3.4" fill="#8fc0dc"/>
<rect x="529.6" y="107.9" width="3.4" height="3.4" fill="#8fc0dc"/>
<rect x="529.6" y="118.3" width="3.4" height="3.4" fill="#8fc0dc"/>
<rect x="529.6" y="128.7" width="3.4" height="3.4" fill="#8fc0dc"/>
<rect x="640.6" y="60.1" width="2.8" height="2.8" fill="#8fc0dc"/>
<rect x="654.6" y="63.9" width="2.8" height="2.8" fill="#8fc0dc"/>
<rect x="664.6" y="75.6" width="2.8" height="2.8" fill="#8fc0dc"/>
<rect x="664.6" y="89.6" width="2.8" height="2.8" fill="#8fc0dc"/>
<rect x="654.6" y="100.6" width="2.8" height="2.8" fill="#8fc0dc"/>
<rect x="640.6" y="104.6" width="2.8" height="2.8" fill="#8fc0dc"/>
<rect x="626.7" y="100.7" width="2.6" height="2.6" fill="#c5dcea"/>
<rect x="617.2" y="89.2" width="2.6" height="2.6" fill="#c5dcea"/>
<rect x="617.2" y="75.7" width="2.6" height="2.6" fill="#c5dcea"/>
<rect x="626.7" y="64" width="2.6" height="2.6" fill="#c5dcea"/>
<polygon points="18.4,24.5 74,15.3 74,151.6 18.4,142.6" fill="#f5ebe1"/>
<polygon points="18.4,24.5 74,15.3 74,19.2 18.4,27.9" fill="#000000"/>
<polygon points="18.4,28.7 74,20.2 74,24.1 18.4,32.1" fill="#000000"/>
<polygon points="18.4,32.9 74,25 74,28.9 18.4,36.3" fill="#000000"/>
<polygon points="18.4,37.2 40.3,34.3 40.3,37.9 18.4,40.5" fill="#000000"/>
<polygon points="40.3,34.3 46.2,33.5 46.2,37.2 40.3,37.9" fill="#464646"/>
<polygon points="46.2,33.5 74,29.9 74,33.8 46.2,37.2" fill="#000000"/>
<polygon points="18.4,41.4 34.6,39.5 34.6,43 18.4,44.7" fill="#000000"/>
<polygon points="34.6,39.5 50.2,37.6 50.2,41.3 34.6,43" fill="#696969"/>
<polygon points="50.2,37.6 74,34.8 74,38.7 50.2,41.3" fill="#000000"/>
<polygon points="18.4,45.6 34.6,43.9 34.6,47.4 18.4,49" fill="#000000"/>
<polygon points="34.6,43.9 36.5,43.7 36.5,47.2 34.6,47.4" fill="#969696"/>
<polygon points="36.5,43.7 48.2,42.4 48.2,46.1 36.5,47.2" fill="#000000"/>
<polygon points="48.2,42.4 50.2,42.2 50.2,45.9 48.2,46.1" fill="#969696"/>
<polygon points="50.2,42.2 74,39.6 74,43.5 50.2,45.9" fill="#000000"/>
<polygon points="18.4,49.8 34.6,48.3 34.6,51.8 18.4,53.2" fill="#000000"/>
<polygon points="34.6,48.3 36.5,48.1 36.5,51.6 34.6,51.8" fill="#969696"/>
<polygon points="36.5,48.1 48.2,47 48.2,50.6 36.5,51.6" fill="#000000"/>
<polygon points="48.2,47 50.2,46.8 50.2,50.4 48.2,50.6" fill="#969696"/>
<polygon points="50.2,46.8 74,44.5 74,48.4 50.2,50.4" fill="#000000"/>
<polygon points="18.4,54 34.6,52.7 34.6,56.2 18.4,57.4" fill="#000000"/>
<polygon points="34.6,52.7 36.5,52.5 36.5,56.1 34.6,56.2" fill="#969696"/>
<polygon points="36.5,52.5 48.2,51.5 48.2,55.2 36.5,56.1" fill="#000000"/>
<polygon points="48.2,51.5 50.2,51.4 50.2,55 48.2,55.2" fill="#969696"/>
<polygon points="50.2,51.4 74,49.4 74,53.3 50.2,55" fill="#000000"/>
<polygon points="18.4,58.2 34.6,57.1 34.6,60.6 18.4,61.6" fill="#000000"/>
<polygon points="34.6,57.1 36.5,56.9 36.5,60.5 34.6,60.6" fill="#969696"/>
<polygon points="36.5,56.9 48.2,56.1 48.2,59.8 36.5,60.5" fill="#000000"/>
<polygon points="48.2,56.1 50.2,56 50.2,59.6 48.2,59.8" fill="#969696"/>
<polygon points="50.2,56 74,54.2 74,58.1 50.2,59.6" fill="#000000"/>
<polygon points="18.4,62.5 20.1,62.4 20.1,65.7 18.4,65.8" fill="#141414"/>
<polygon points="20.1,62.4 34.6,61.5 34.6,65 20.1,65.7" fill="#505050"/>
<polygon points="34.6,61.5 36.5,61.4 36.5,64.9 34.6,65" fill="#8c8c8c"/>
<polygon points="36.5,61.4 48.2,60.7 48.2,64.3 36.5,64.9" fill="#2d2d2d"/>
<polygon points="48.2,60.7 50.2,60.5 50.2,64.2 48.2,64.3" fill="#828282"/>
<polygon points="50.2,60.5 52.3,60.4 52.3,64.1 50.2,64.2" fill="#323232"/>
<polygon points="52.3,60.4 54.3,60.3 54.3,64 52.3,64.1" fill="#aaaaaa"/>
<polygon points="54.3,60.3 56.4,60.2 56.4,63.9 54.3,64" fill="#ebebeb"/>
<polygon points="56.4,60.2 65,59.7 65,63.5 56.4,63.9" fill="#787878"/>
<polygon points="65,59.7 74,59.1 74,63 65,63.5" fill="#000000"/>
<polygon points="18.4,66.7 20.1,66.6 20.1,70 18.4,70.1" fill="#3c3c3c"/>
<polygon points="20.1,66.6 23.6,66.4 23.6,69.8 20.1,70" fill="#cbcbcb"/>
<polygon points="23.6,66.4 25.4,66.3 25.4,69.8 23.6,69.8" fill="#c5c5c5"/>
<polygon points="25.4,66.3 30.9,66.1 30.9,69.6 25.4,69.8" fill="#bfbfbf"/>
<polygon points="30.9,66.1 34.6,65.9 34.6,69.4 30.9,69.6" fill="#c8c8c8"/>
<polygon points="34.6,65.9 36.5,65.8 36.5,69.3 34.6,69.4" fill="#969696"/>
<polygon points="36.5,65.8 40.3,65.6 40.3,69.2 36.5,69.3" fill="#c4c4c4"/>
<polygon points="40.3,65.6 44.2,65.4 44.2,69 40.3,69.2" fill="#bebebe"/>
<polygon points="44.2,65.4 48.2,65.2 48.2,68.9 44.2,69" fill="#c8c8c8"/>
<polygon points="48.2,65.2 50.2,65.1 50.2,68.8 48.2,68.9" fill="#a0a0a0"/>
<polygon points="50.2,65.1 54.3,64.9 54.3,68.6 50.2,68.8" fill="#c4c4c4"/>
<polygon points="54.3,64.9 58.6,64.7 58.6,68.5 54.3,68.6" fill="#bebebe"/>
<polygon points="58.6,64.7 65,64.4 65,68.2 58.6,68.5" fill="#c8c8c8"/>
<polygon points="65,64.4 67.2,64.3 67.2,68.1 65,68.2" fill="#afafaf"/>
<polygon points="67.2,64.3 74,64 74,67.9 67.2,68.1" fill="#000000"/>
<polygon points="18.4,70.9 20.1,70.8 20.1,74.2 18.4,74.3" fill="#3c3c3c"/>
<polygon points="20.1,70.8 21.9,70.8 21.9,74.2 20.1,74.2" fill="#c8c8c8"/>
<polygon points="21.9,70.8 29,70.5 29,74 21.9,74.2" fill="#c2c2c2"/>
<polygon points="29,70.5 34.6,70.3 34.6,73.8 29,74" fill="#cacaca"/>
<polygon points="34.6,70.3 42.2,70 42.2,73.6 34.6,73.8" fill="#c2c2c2"/>
<polygon points="42.2,70 48.2,69.8 48.2,73.5 42.2,73.6" fill="#cacaca"/>
<polygon points="48.2,69.8 56.4,69.5 56.4,73.2 48.2,73.5" fill="#c2c2c2"/>
<polygon points="56.4,69.5 62.8,69.3 62.8,73 56.4,73.2" fill="#cacaca"/>
<polygon points="62.8,69.3 65,69.2 65,73 62.8,73" fill="#c2c2c2"/>
<polygon points="65,69.2 67.2,69.1 67.2,72.9 65,73" fill="#afafaf"/>
<polygon points="67.2,69.1 74,68.8 74,72.7 67.2,72.9" fill="#000000"/>
<polygon points="18.4,75.1 20.1,75.1 20.1,78.5 18.4,78.5" fill="#3c3c3c"/>
<polygon points="20.1,75.1 25.4,74.9 25.4,78.4 20.1,78.5" fill="#c0c0c0"/>
<polygon points="25.4,74.9 32.7,74.8 32.7,78.3 25.4,78.4" fill="#c7c7c7"/>
<polygon points="32.7,74.8 38.4,74.6 38.4,78.2 32.7,78.3" fill="#bfbfbf"/>
<polygon points="38.4,74.6 46.2,74.4 46.2,78 38.4,78.2" fill="#c7c7c7"/>
<polygon points="46.2,74.4 52.3,74.3 52.3,78 46.2,78" fill="#bfbfbf"/>
<polygon points="52.3,74.3 60.7,74 60.7,77.8 52.3,78" fill="#c7c7c7"/>
<polygon points="60.7,74 65,73.9 65,77.8 60.7,77.8" fill="#bfbfbf"/>
<polygon points="65,73.9 67.2,73.9 67.2,77.7 65,77.8" fill="#afafaf"/>
<polygon points="67.2,73.9 74,73.7 74,77.6 67.2,77.7" fill="#000000"/>
<polygon points="18.4,79.3 20.1,79.3 20.1,82.7 18.4,82.7" fill="#3c3c3c"/>
<polygon points="20.1,79.3 23.6,79.3 23.6,82.7 20.1,82.7" fill="#bebebe"/>
<polygon points="23.6,79.3 29,79.2 29,82.7 23.6,82.7" fill="#c9c9c9"/>
<polygon points="29,79.2 36.5,79.1 36.5,82.6 29,82.7" fill="#c2c2c2"/>
<polygon points="36.5,79.1 42.2,79 42.2,82.6 36.5,82.6" fill="#c9c9c9"/>
<polygon points="42.2,79 50.2,78.9 50.2,82.6 42.2,82.6" fill="#c2c2c2"/>
<polygon points="50.2,78.9 56.4,78.8 56.4,82.5 50.2,82.6" fill="#c9c9c9"/>
<polygon points="56.4,78.8 65,78.7 65,82.5 56.4,82.5" fill="#c2c2c2"/>
<polygon points="65,78.7 67.2,78.7 67.2,82.5 65,82.5" fill="#afafaf"/>
<polygon points="67.2,78.7 74,78.6 74,82.5 67.2,82.5" fill="#000000"/>
<polygon points="18.4,83.5 20.1,83.5 20.1,86.9 18.4,86.9" fill="#3c3c3c"/>
<polygon points="20.1,83.5 27.2,83.5 27.2,87 20.1,86.9" fill="#c6c6c6"/>
<polygon points="27.2,83.5 32.7,83.5 32.7,87 27.2,87" fill="#c0c0c0"/>
<polygon points="32.7,83.5 40.3,83.5 40.3,87.1 32.7,87" fill="#c6c6c6"/>
<polygon points="40.3,83.5 46.2,83.5 46.2,87.1 40.3,87.1" fill="#c0c0c0"/>
<polygon points="46.2,83.5 54.3,83.5 54.3,87.2 46.2,87.1" fill="#c6c6c6"/>
<polygon points="54.3,83.5 60.7,83.5 60.7,87.2 54.3,87.2" fill="#c0c0c0"/>
<polygon points="60.7,83.5 67.2,83.5 67.2,87.3 60.7,87.2" fill="#dedede"/>
<polygon points="67.2,83.5 69.5,83.5 69.5,87.3 67.2,87.3" fill="#8c8c8c"/>
<polygon points="69.5,83.5 74,83.4 74,87.3 69.5,87.3" fill="#000000"/>
<polygon points="18.4,87.8 20.1,87.8 20.1,91.2 18.4,91.1" fill="#3c3c3c"/>
<polygon points="20.1,87.8 23.6,87.8 23.6,91.2 20.1,91.2" fill="#cbcbcb"/>
<polygon points="23.6,87.8 30.9,87.9 30.9,91.4 23.6,91.2" fill="#c3c3c3"/>
<polygon points="30.9,87.9 36.5,87.9 36.5,91.5 30.9,91.4" fill="#c9c9c9"/>
<polygon points="36.5,87.9 44.2,88 44.2,91.6 36.5,91.5" fill="#c3c3c3"/>
<polygon points="44.2,88 50.2,88.1 50.2,91.8 44.2,91.6" fill="#c9c9c9"/>
<polygon points="50.2,88.1 58.6,88.2 58.6,91.9 50.2,91.8" fill="#c3c3c3"/>
<polygon points="58.6,88.2 60.7,88.2 60.7,92 58.6,91.9" fill="#c9c9c9"/>
<polygon points="60.7,88.2 67.2,88.3 67.2,92.1 60.7,92" fill="#dedede"/>
<polygon points="67.2,88.3 69.5,88.3 69.5,92.1 67.2,92.1" fill="#8c8c8c"/>
<polygon points="69.5,88.3 74,88.3 74,92.2 69.5,92.1" fill="#000000"/>
<polygon points="18.4,92 20.1,92 20.1,95.4 18.4,95.4" fill="#3c3c3c"/>
<polygon points="20.1,92 21.9,92.1 21.9,95.5 20.1,95.4" fill="#c7c7c7"/>
<polygon points="21.9,92.1 27.2,92.2 27.2,95.6 21.9,95.5" fill="#c0c0c0"/>
<polygon points="27.2,92.2 34.6,92.3 34.6,95.9 27.2,95.6" fill="#c6c6c6"/>
<polygon points="34.6,92.3 40.3,92.5 40.3,96 34.6,95.9" fill="#c0c0c0"/>
<polygon points="40.3,92.5 48.2,92.6 48.2,96.3 40.3,96" fill="#c6c6c6"/>
<polygon points="48.2,92.6 54.3,92.8 54.3,96.5 48.2,96.3" fill="#c0c0c0"/>
<polygon points="54.3,92.8 60.7,92.9 60.7,96.7 54.3,96.5" fill="#c6c6c6"/>
<polygon points="60.7,92.9 67.2,93 67.2,96.9 60.7,96.7" fill="#dedede"/>
<polygon points="67.2,93 69.5,93.1 69.5,96.9 67.2,96.9" fill="#8c8c8c"/>
<polygon points="69.5,93.1 74,93.2 74,97.1 69.5,96.9" fill="#000000"/>
<polygon points="18.4,96.2 20.1,96.3 20.1,99.7 18.4,99.6" fill="#3c3c3c"/>
<polygon points="20.1,96.3 25.4,96.4 25.4,99.9 20.1,99.7" fill="#bfbfbf"/>
<polygon points="25.4,96.4 32.7,96.7 32.7,100.2 25.4,99.9" fill="#c8c8c8"/>
<polygon points="32.7,96.7 38.4,96.9 38.4,100.4 32.7,100.2" fill="#bfbfbf"/>
<polygon points="38.4,96.9 46.2,97.1 46.2,100.8 38.4,100.4" fill="#c8c8c8"/>
<polygon points="46.2,97.1 52.3,97.3 52.3,101 46.2,100.8" fill="#bebebe"/>
<polygon points="52.3,97.3 60.7,97.6 60.7,101.4 52.3,101" fill="#c8c8c8"/>
<polygon points="60.7,97.6 67.2,97.8 67.2,101.7 60.7,101.4" fill="#dedede"/>
<polygon points="67.2,97.8 69.5,97.9 69.5,101.8 67.2,101.7" fill="#8c8c8c"/>
<polygon points="69.5,97.9 74,98.1 74,101.9 69.5,101.8" fill="#000000"/>
<polygon points="18.4,100.4 20.1,100.5 20.1,103.9 18.4,103.8" fill="#3c3c3c"/>
<polygon points="20.1,100.5 21.9,100.6 21.9,104 20.1,103.9" fill="#bfbfbf"/>
<polygon points="21.9,100.6 25.4,100.7 25.4,104.2 21.9,104" fill="#c5c5c5"/>
<polygon points="25.4,100.7 29,100.9 29,104.4 25.4,104.2" fill="#cbcbcb"/>
<polygon points="29,100.9 36.5,101.2 36.5,104.8 29,104.4" fill="#c1c1c1"/>
<polygon points="36.5,101.2 42.2,101.5 42.2,105.1 36.5,104.8" fill="#cacaca"/>
<polygon points="42.2,101.5 50.2,101.9 50.2,105.5 42.2,105.1" fill="#c1c1c1"/>
<polygon points="50.2,101.9 56.4,102.1 56.4,105.9 50.2,105.5" fill="#cacaca"/>
<polygon points="56.4,102.1 62.8,102.4 62.8,106.2 56.4,105.9" fill="#c1c1c1"/>
<polygon points="62.8,102.4 65,102.5 65,106.3 62.8,106.2" fill="#969696"/>
<polygon points="65,102.5 67.2,102.6 67.2,106.4 65,106.3" fill="#191919"/>
<polygon points="67.2,102.6 74,102.9 74,106.8 67.2,106.4" fill="#000000"/>
<polygon points="18.4,104.6 20.1,104.7 20.1,108.1 18.4,108" fill="#3c3c3c"/>
<polygon points="20.1,104.7 27.2,105.1 27.2,108.6 20.1,108.1" fill="#c8c8c8"/>
<polygon points="27.2,105.1 32.7,105.5 32.7,109 27.2,108.6" fill="#bfbfbf"/>
<polygon points="32.7,105.5 40.3,105.9 40.3,109.5 32.7,109" fill="#c8c8c8"/>
<polygon points="40.3,105.9 46.2,106.2 46.2,109.8 40.3,109.5" fill="#bfbfbf"/>
<polygon points="46.2,106.2 54.3,106.7 54.3,110.4 46.2,109.8" fill="#c8c8c8"/>
<polygon points="54.3,106.7 60.7,107 60.7,110.8 54.3,110.4" fill="#bfbfbf"/>
<polygon points="60.7,107 62.8,107.2 62.8,110.9 60.7,110.8" fill="#c8c8c8"/>
<polygon points="62.8,107.2 65,107.3 65,111.1 62.8,110.9" fill="#969696"/>
<polygon points="65,107.3 67.2,107.4 67.2,111.2 65,111.1" fill="#191919"/>
<polygon points="67.2,107.4 74,107.8 74,111.7 67.2,111.2" fill="#000000"/>
<polygon points="18.4,108.9 20.1,109 20.1,112.4 18.4,112.2" fill="#3c3c3c"/>
<polygon points="20.1,109 23.6,109.2 23.6,112.6 20.1,112.4" fill="#cbcbcb"/>
<polygon points="23.6,109.2 30.9,109.7 30.9,113.2 23.6,112.6" fill="#c2c2c2"/>
<polygon points="30.9,109.7 36.5,110.1 36.5,113.6 30.9,113.2" fill="#cacaca"/>
<polygon points="36.5,110.1 44.2,110.6 44.2,114.2 36.5,113.6" fill="#c2c2c2"/>
<polygon points="44.2,110.6 50.2,111 50.2,114.7 44.2,114.2" fill="#cacaca"/>
<polygon points="50.2,111 58.6,111.6 58.6,115.4 50.2,114.7" fill="#c1c1c1"/>
<polygon points="58.6,111.6 62.8,111.9 62.8,115.7 58.6,115.4" fill="#cacaca"/>
<polygon points="62.8,111.9 65,112 65,115.9 62.8,115.7" fill="#969696"/>
<polygon points="65,112 67.2,112.2 67.2,116 65,115.9" fill="#191919"/>
<polygon points="67.2,112.2 74,112.7 74,116.6 67.2,116" fill="#000000"/>
<polygon points="18.4,113.1 20.1,113.2 20.1,116.6 18.4,116.4" fill="#3c3c3c"/>
<polygon points="20.1,113.2 23.6,113.5 23.6,116.9 20.1,116.6" fill="#afafaf"/>
<polygon points="23.6,113.5 25.4,113.6 25.4,117.1 23.6,116.9" fill="#505050"/>
<polygon points="25.4,113.6 27.2,113.8 27.2,117.2 25.4,117.1" fill="#c1c1c1"/>
<polygon points="27.2,113.8 34.6,114.4 34.6,117.9 27.2,117.2" fill="#c7c7c7"/>
<polygon points="34.6,114.4 40.3,114.8 40.3,118.4 34.6,117.9" fill="#bfbfbf"/>
<polygon points="40.3,114.8 48.2,115.5 48.2,119.1 40.3,118.4" fill="#c7c7c7"/>
<polygon points="48.2,115.5 54.3,116 54.3,119.7 48.2,119.1" fill="#bfbfbf"/>
<polygon points="54.3,116 62.8,116.6 62.8,120.4 54.3,119.7" fill="#c7c7c7"/>
<polygon points="62.8,116.6 65,116.8 65,120.6 62.8,120.4" fill="#969696"/>
<polygon points="65,116.8 67.2,117 67.2,120.8 65,120.6" fill="#191919"/>
<polygon points="67.2,117 74,117.5 74,121.4 67.2,120.8" fill="#000000"/>
<polygon points="18.4,117.3 20.1,117.5 20.1,120.8 18.4,120.7" fill="#3c3c3c"/>
<polygon points="20.1,117.5 23.6,117.8 23.6,121.2 20.1,120.8" fill="#afafaf"/>
<polygon points="23.6,117.8 25.4,117.9 25.4,121.4 23.6,121.2" fill="#505050"/>
<polygon points="25.4,117.9 30.9,118.4 30.9,121.9 25.4,121.4" fill="#c9c9c9"/>
<polygon points="30.9,118.4 38.4,119.1 38.4,122.7 30.9,121.9" fill="#c2c2c2"/>
<polygon points="38.4,119.1 44.2,119.7 44.2,123.3 38.4,122.7" fill="#cacaca"/>
<polygon points="44.2,119.7 52.3,120.4 52.3,124.1 44.2,123.3" fill="#c2c2c2"/>
<polygon points="52.3,120.4 58.6,121 58.6,124.7 52.3,124.1" fill="#cacaca"/>
<polygon points="58.6,121 62.8,121.4 62.8,125.2 58.6,124.7" fill="#c2c2c2"/>
<polygon points="62.8,121.4 65,121.6 65,125.4 62.8,125.2" fill="#969696"/>
<polygon points="65,121.6 67.2,121.8 67.2,125.6 65,125.4" fill="#191919"/>
<polygon points="67.2,121.8 74,122.4 74,126.3 67.2,125.6" fill="#000000"/>
<polygon points="18.4,121.5 20.1,121.7 20.1,125.1 18.4,124.9" fill="#282828"/>
<polygon points="20.1,121.7 23.6,122.1 23.6,125.5 20.1,125.1" fill="#a0a0a0"/>
<polygon points="23.6,122.1 62.8,126.1 62.8,129.9 23.6,125.5" fill="#e8e8e8"/>
<polygon points="62.8,126.1 65,126.3 65,130.1 62.8,129.9" fill="#bebebe"/>
<polygon points="65,126.3 74,127.3 74,131.2 65,130.1" fill="#000000"/>
<polygon points="18.4,125.7 20.1,125.9 20.1,129.3 18.4,129.1" fill="#0f0f0f"/>
<polygon points="20.1,125.9 27.2,126.7 27.2,130.2 20.1,129.3" fill="#505050"/>
<polygon points="27.2,126.7 34.6,127.6 34.6,131.1 27.2,130.2" fill="#565656"/>
<polygon points="34.6,127.6 42.2,128.5 42.2,132.1 34.6,131.1" fill="#5c5c5c"/>
<polygon points="42.2,128.5 50.2,129.4 50.2,133.1 42.2,132.1" fill="#636363"/>
<polygon points="50.2,129.4 58.6,130.4 58.6,134.1 50.2,133.1" fill="#696969"/>
<polygon points="58.6,130.4 65,131.1 65,134.9 58.6,134.1" fill="#6f6f6f"/>
<polygon points="65,131.1 74,132.1 74,136 65,134.9" fill="#000000"/>
<polygon points="18.4,129.9 74,137 74,140.9 18.4,133.3" fill="#000000"/>
<polygon points="18.4,134.2 74,141.9 74,145.8 18.4,137.5" fill="#000000"/>
<polygon points="18.4,138.4 74,146.7 74,150.6 18.4,141.8" fill="#000000"/>
<path d="M20.1 24.2L20.1 142.9M21.9 23.9L21.9 143.2M23.6 23.6L23.6 143.4M25.4 23.3L25.4 143.7M27.2 23L27.2 144M29 22.7L29 144.3M30.9 22.4L30.9 144.6M32.7 22.1L32.7 144.9M34.6 21.8L34.6 145.2M36.5 21.5L36.5 145.5M38.4 21.2L38.4 145.8M40.3 20.9L40.3 146.1M42.2 20.6L42.2 146.5M44.2 20.2L44.2 146.8M46.2 19.9L46.2 147.1M48.2 19.6L48.2 147.4M50.2 19.2L50.2 147.8M52.3 18.9L52.3 148.1M54.3 18.6L54.3 148.4M56.4 18.2L56.4 148.8M58.6 17.9L58.6 149.1M60.7 17.5L60.7 149.4M62.8 17.1L62.8 149.8M65 16.8L65 150.1M67.2 16.4L67.2 150.5M69.5 16.1L69.5 150.9M71.7 15.7L71.7 151.2" stroke="#f5ebe1" stroke-opacity="0.25" stroke-width="0.4"/>
<line x1="81" y1="27.8" x2="324.7" y2="27.8" stroke="#111" stroke-width="1.1" stroke-dasharray="1.1,1.1"/><path d="M76 27.8L82 25.5L80.5 27.8L82 30.1Z" fill="#000"/><path d="M329.7 27.8L323.7 25.5L325.2 27.8L323.7 30.1Z" fill="#000"/>
<text x="198" y="22.9" font-size="13.5" font-style="italic">t</text><text x="204.6" y="25.3" font-size="9.5">1</text>
<line x1="338.5" y1="33.9" x2="526" y2="33.9" stroke="#111" stroke-width="1.1" stroke-dasharray="1.1,1.1"/><path d="M333.5 33.9L339.5 31.6L338 33.9L339.5 36.2Z" fill="#000"/><path d="M531 33.9L525 31.6L526.5 33.9L525 36.2Z" fill="#000"/>
<text x="429.5" y="30.6" font-size="13.5" font-style="italic">t</text><text x="436.1" y="33" font-size="9.5">2</text>
<line x1="538.5" y1="38.3" x2="661" y2="38.3" stroke="#111" stroke-width="1.1" stroke-dasharray="1.1,1.1"/><path d="M533.5 38.3L539.5 36L538 38.3L539.5 40.6Z" fill="#000"/><path d="M666 38.3L660 36L661.5 38.3L660 40.6Z" fill="#000"/>
<text x="596" y="34.5" font-size="13.5" font-style="italic">t</text><text x="602.6" y="36.9" font-size="9.5">3</text>
<text x="43" y="189.8" font-family="Liberation Sans, sans-serif" font-weight="bold" font-size="16">b</text>
<text x="353" y="181.9" font-size="16" text-anchor="middle">Row sparse ONN</text>
<polygon points="128.5,183 345,194.8 345,304.9 269,299 128.5,317" fill="#f4f1f0"/>
<polygon points="345,194.8 520.3,200.5 520.3,299.1 345,304.9" fill="#f1eff7"/>
<g stroke-width="0.55" fill="none" stroke-dasharray="3,1.4"><path d="M122.8 291.9L319.2 280.4M123.3 229.9L345 207M122.5 231.6L310.6 256M120.5 280.1L336.4 268M122.2 203.1L336.4 231.5M127 231.6L302 301.6M125.9 226.6L345 243.7M118.5 201.4L345 219.3M121.6 290.2L345 207M118 201.4L345 219.3M122.8 305.3L310.6 280.4M128.3 260.1L319.2 256M121.1 296.9L302 301.6M128.2 248.3L319.2 256M117.3 312L336.4 292.7M118 300.2L284.8 300.3M118.4 231.6L336.4 256M127.9 189.7L302 267.2M117.9 231.6L336.4 280.4M128 229.9L319.2 231.5M120.3 315.3L310.6 280.4M126.6 211.5L336.4 231.5M123.8 183L345 194.8M115.9 276.8L319.2 256M120.6 261.7L345 256M115.4 253.3L310.6 256M120.5 295.2L310.6 280.4M118.6 218.2L345 207M124.1 255L345 243.7M117.3 283.5L293.4 267M117.9 310.3L284.8 300.3M128 268.4L267.6 299M121.9 306.9L302 267.2M116.7 206.4L327.8 256M124.4 246.7L345 243.7M122 283.5L327.8 292.7M126.8 251.7L345 243.7M126.1 211.5L345 207M123.6 228.2L319.2 280.4M119.9 223.2L345 231.5M128.6 295.2L345 256M118.2 184.7L345 194.8M126.1 255L336.4 268M116.7 308.6L345 280.4M126.4 263.4L302 301.6" stroke="#f6aa4f" stroke-opacity="0.2"/><path d="M121.9 218.2L310.6 256" stroke="#7f3b08" stroke-opacity="0.2"/><path d="M118.1 196.4L336.4 231.5M127 214.8L327.8 231.5M125.7 191.4L345 194.8M119 281.8L345 243.7M121.1 266.8L284.8 300.3M121.2 236.6L345 231.5M125 250L276.2 299.7M128.2 317L345 304.9M120.9 300.2L336.4 304.2M116.6 310.3L345 304.9M126.5 188L345 194.8M125.1 258.4L284.8 300.3M126.6 245L293.4 301M117.3 283.5L345 268.2M122.8 288.5L284.8 300.3M119.4 194.7L327.8 231.5M115.6 234.9L345 219.3M118.3 285.2L336.4 256M115.7 303.6L327.8 267.8M117.4 296.9L327.8 267.8M120.1 248.3L319.2 256" stroke="#fdc278" stroke-opacity="0.2"/><path d="M127.6 224.9L336.4 256M121.9 246.7L336.4 268M126.4 293.6L293.4 301M120.4 229.9L310.6 256M118.5 239.9L336.4 231.5M119.9 270.1L345 280.4M118.6 278.5L336.4 256M116.4 206.4L319.2 231.5M123.1 308.6L276.2 299.7M125.6 266.8L293.4 301M120.2 295.2L336.4 280.4M124.7 280.1L336.4 280.4M128.5 265.1L345 280.4M116.3 263.4L345 268.2M124.8 186.3L345 219.3M123.4 224.9L345 256M121.7 250L302 301.6M125.4 317L319.2 302.9M122.3 266.8L345 243.7M123.7 188L345 194.8M128.5 243.3L345 243.7M117 306.9L327.8 256M118.9 265.1L345 243.7M122.9 241.6L345 243.7M117.9 213.2L327.8 267.8M125.3 199.8L336.4 280.4M118.9 186.3L284.8 300.3M115.3 186.3L319.2 267.6M115 306.9L319.2 280.4M115.4 260.1L345 268.2M127.5 229.9L345 243.7M115.7 184.7L345 194.8M126.5 199.8L345 231.5M126.1 251.7L310.6 256M123.7 291.9L345 280.4M127.2 263.4L336.4 256M127.9 251.7L336.4 256M117.6 276.8L336.4 280.4M125.4 194.7L345 243.7M115.1 198.1L327.8 231.5M127.1 218.2L345 207M121 270.1L284.8 300.3M124.6 296.9L327.8 292.7M114.9 260.1L345 243.7M124.5 245L345 243.7M118.1 312L327.8 231.5M117 223.2L319.2 231.5M126.3 241.6L327.8 231.5M125.3 218.2L319.2 267.6M124.6 218.2L345 231.5M125.4 261.7L302 301.6M125.1 231.6L345 219.3M126.5 189.7L345 219.3M126.8 245L319.2 231.5M117.4 226.6L284.8 300.3M115.6 312L336.4 268M128 209.8L345 194.8M118.7 191.4L310.6 267.4M123.4 255L345 194.8" stroke="#fdb863" stroke-opacity="0.2"/><path d="M118.4 268.4L319.2 267.6M119.9 275.1L336.4 256M122.3 298.6L293.4 267M125.1 280.1L336.4 231.5M127.6 194.7L345 219.3M120.6 275.1L327.8 280.4M122.6 214.8L276.2 299.7M117.8 276.8L319.2 280.4M126.7 234.9L336.4 231.5M125.3 228.2L345 243.7M127.2 239.9L293.4 301M127.2 301.9L310.6 267.4M123.9 306.9L310.6 280.4M127.4 199.8L327.8 231.5M121.8 266.8L345 304.9M122.6 239.9L319.2 302.9M118.1 199.8L345 219.3M124.4 315.3L310.6 302.3M126.4 261.7L319.2 267.6M118.7 275.1L336.4 304.2M115.5 209.8L345 194.8M116.1 268.4L345 219.3M121.9 273.4L319.2 280.4M116.3 199.8L345 194.8M125.2 193.1L345 194.8M125.8 236.6L327.8 231.5M125.5 273.4L319.2 280.4M117.6 193.1L345 219.3M116.9 305.3L284.8 300.3M120.7 268.4L319.2 256M120.4 188L345 194.8M123.2 275.1L345 268.2M120.9 245L345 207M119.2 213.2L310.6 280.4M119.4 303.6L336.4 280.4M117.1 228.2L319.2 231.5M126.8 204.8L327.8 231.5M125 308.6L327.8 267.8M126.5 238.3L345 207M127.9 303.6L336.4 280.4M126.9 255L345 219.3M124.7 275.1L319.2 267.6M117.8 280.1L336.4 256M127.1 194.7L345 194.8M128.5 291.9L293.4 301M121.2 224.9L345 268.2" stroke="#8c81b6" stroke-opacity="0.2"/><path d="M119.6 246.7L345 256M117.9 241.6L345 243.7M126.8 199.8L345 219.3M126.6 191.4L345 219.3M117.2 236.6L345 243.7M126.9 203.1L319.2 231.5M116 204.8L310.6 256M119.1 256.7L336.4 231.5M118.7 261.7L327.8 256M127.4 305.3L302 267.2M128.5 241.6L345 219.3M122.5 204.8L345 194.8M127.5 266.8L345 243.7M115.6 293.6L336.4 268M119.1 224.9L302 301.6M116.1 291.9L327.8 292.7M127.9 233.2L345 207M124.9 312L302 301.6M123.6 193.1L267.6 299" stroke="#d57811" stroke-opacity="0.2"/><path d="M124.9 231.6L336.4 256M116.8 270.1L319.2 292.7M125.5 201.4L327.8 231.5M115 224.9L345 243.7M118.2 199.8L345 219.3M115.8 209.8L345 256M116.5 243.3L293.4 267M116.2 196.4L345 194.8M123.5 317L310.6 302.3M120.5 271.8L319.2 280.4M125.8 291.9L267.6 299" stroke="#5f3a91" stroke-opacity="0.2"/><path d="M117.7 255L336.4 256M124.1 203.1L345 207M125 199.8L345 207M122.7 243.3L319.2 292.7M127.8 276.8L345 268.2M116.1 317L336.4 268M125.9 208.1L345 219.3M119.8 239.9L319.2 267.6M121.4 256.7L319.2 292.7M115 209.8L284.8 300.3M124.2 251.7L319.2 267.6M123.9 224.9L345 280.4M116 290.2L345 256M121.1 198.1L345 207M117.6 312L319.2 292.7M125.4 196.4L345 219.3M120.9 290.2L327.8 292.7M120.8 317L336.4 304.2M123.4 236.6L345 231.5M127.8 226.6L345 219.3M126.3 258.4L327.8 292.7M117 188L345 194.8M117.8 268.4L345 280.4M115.9 271.8L319.2 256M123.4 224.9L327.8 267.8M122.4 199.8L345 219.3M115.5 243.3L319.2 280.4M128.4 214.8L345 219.3M126.6 291.9L345 292.7M119 251.7L345 243.7M121.1 271.8L319.2 280.4M125.2 226.6L302 301.6M115.3 233.2L345 219.3M123.4 286.9L319.2 292.7M125.5 193.1L345 243.7M114.8 248.3L345 243.7M118.1 317L302 301.6M117.9 233.2L327.8 267.8M115.5 281.8L336.4 280.4M120.9 270.1L302 301.6M121.6 206.4L345 194.8M123.7 203.1L345 231.5M125.7 285.2L302 301.6M125.3 245L345 207M126.7 268.4L327.8 292.7M118.9 248.3L345 243.7M122.1 189.7L345 194.8M126.5 216.5L345 231.5M121.9 261.7L345 243.7M117.4 288.5L336.4 304.2M125.6 218.2L345 194.8M123.1 239.9L345 219.3M124.6 285.2L345 243.7M126.9 203.1L345 194.8M123 211.5L345 194.8" stroke="#998fbf" stroke-opacity="0.2"/><path d="M116.7 258.4L319.2 231.5M123.9 189.7L302 267.2M118.1 310.3L293.4 301M120.9 204.8L336.4 231.5M116.3 306.9L327.8 292.7M117.5 248.3L327.8 303.6M123 218.2L345 194.8M126 313.6L345 268.2M122 300.2L319.2 280.4M124.8 276.8L336.4 268M117 241.6L327.8 231.5M121.1 201.4L345 194.8M125.5 228.2L345 207M123.4 253.3L327.8 231.5M114.8 295.2L319.2 302.9M122.8 258.4L310.6 280.4M121.9 293.6L276.2 299.7M127.8 189.7L345 219.3M123.6 263.4L319.2 256M117.2 193.1L345 207M116.6 233.2L345 243.7M126.8 313.6L327.8 303.6M126.2 223.2L345 292.7M121.7 308.6L327.8 280.4M117.5 189.7L345 207M122.3 189.7L336.4 268M117.4 275.1L345 280.4M123.4 280.1L327.8 256M121.1 218.2L345 219.3M127.6 293.6L336.4 280.4M127.9 306.9L319.2 302.9M116.1 199.8L345 219.3M114.9 236.6L345 219.3M122.2 246.7L345 243.7M126.8 216.5L345 243.7M121.5 283.5L345 280.4M119.7 280.1L345 292.7M119.3 293.6L327.8 292.7M115.5 214.8L345 231.5M121.5 283.5L345 292.7M127.4 298.6L319.2 292.7M114.7 188L345 194.8M120.9 241.6L345 231.5M124.8 231.6L319.2 302.9M115.3 293.6L319.2 292.7M117.3 300.2L293.4 301M125.8 301.9L310.6 280.4M123.4 301.9L327.8 280.4M122.6 300.2L293.4 301M119.1 273.4L336.4 268M126.7 256.7L336.4 231.5M114.8 266.8L327.8 256M126.5 216.5L302 301.6M115.8 226.6L302 301.6M118.4 276.8L336.4 256M121.1 214.8L310.6 280.4M114.8 317L345 280.4M126.4 243.3L302 267.2M122.1 283.5L345 280.4M127.9 218.2L336.4 231.5M117.2 204.8L276.2 299.7M125.8 228.2L345 231.5M124.9 219.8L345 207M125.6 276.8L345 268.2M122 201.4L310.6 267.4M118.2 198.1L319.2 231.5M128.5 228.2L319.2 267.6M124.1 198.1L345 194.8M123.6 265.1L310.6 280.4M123.1 226.6L345 194.8M123 308.6L302 301.6M117.3 278.5L319.2 231.5M120.3 193.1L336.4 231.5M124.2 265.1L345 194.8M115.1 285.2L319.2 280.4M115.1 301.9L293.4 301M115.5 194.7L284.8 300.3M124.8 194.7L319.2 280.4M125.2 223.2L327.8 280.4M114.9 183L345 219.3" stroke="#b2abd2" stroke-opacity="0.2"/><path d="M125 219.8L327.8 231.5M119.8 206.4L345 219.3M119.7 238.3L345 219.3M127.5 312L302 301.6M122.3 211.5L345 256M123.8 250L327.8 267.8M126.9 256.7L319.2 231.5M126.8 214.8L345 207M117.4 211.5L336.4 231.5M119.6 231.6L345 268.2M124.4 193.1L345 219.3M123.9 219.8L345 219.3" stroke="#be630a" stroke-opacity="0.2"/><path d="M118.5 189.7L345 194.8M115 193.1L345 194.8M123.1 241.6L345 243.7M122.7 308.6L345 304.9M116.4 305.3L336.4 256M123.3 278.5L336.4 280.4M115.6 183L345 194.8M118.8 253.3L319.2 280.4M114.7 209.8L345 219.3M123.1 198.1L327.8 231.5M123.9 258.4L284.8 300.3M126.2 256.7L319.2 280.4M118.3 224.9L345 219.3M122.2 250L319.2 256M119.7 186.3L319.2 231.5M128.3 295.2L345 243.7M122.1 251.7L310.6 256M115.1 193.1L345 207M123.7 226.6L345 243.7M124 253.3L345 280.4M126.3 193.1L345 207M121.2 183L345 207M123.6 211.5L310.6 256M117.6 278.5L345 243.7M128.5 283.5L336.4 256M115.9 265.1L336.4 268M117.3 203.1L310.6 256M124 238.3L345 231.5M127.9 209.8L319.2 256M117.1 231.6L345 243.7M122.7 301.9L319.2 267.6M124.1 306.9L345 304.9M120.8 255L319.2 256M120.1 308.6L336.4 256M125.2 228.2L345 243.7M121.9 283.5L336.4 280.4M125.4 303.6L319.2 292.7M119.2 251.7L319.2 267.6M123.4 250L310.6 302.3M119.8 278.5L319.2 302.9M122.2 303.6L319.2 256M118 283.5L336.4 268M117.4 218.2L345 194.8M126.6 286.9L327.8 231.5M114.8 214.8L345 194.8M121.7 270.1L345 292.7M120 306.9L345 268.2M116.5 298.6L336.4 280.4M116.4 273.4L310.6 256M125.9 250L327.8 231.5M115 263.4L319.2 280.4M124.8 298.6L327.8 280.4M120.3 280.1L345 268.2M115.9 236.6L345 231.5M127 193.1L345 207M125 278.5L345 292.7M116.1 298.6L345 304.9M126.8 218.2L345 219.3M128.2 199.8L345 219.3M122.3 213.2L345 194.8M117.9 216.5L345 243.7" stroke="#a69dc8" stroke-opacity="0.2"/><path d="M116.6 245L345 243.7M125.2 296.9L319.2 267.6M126.3 310.3L327.8 292.7M124.1 281.8L345 243.7M122.8 271.8L310.6 256M115.5 251.7L327.8 231.5M121.7 278.5L276.2 299.7M115.7 266.8L284.8 300.3M118.4 211.5L327.8 280.4M116.6 261.7L302 267.2M114.9 310.3L327.8 280.4M122 253.3L345 243.7M115.6 250L345 280.4M125.4 285.2L345 194.8M125.8 191.4L345 194.8M122.1 270.1L327.8 303.6M128.6 226.6L345 243.7M118.2 283.5L302 267.2M128 310.3L310.6 280.4" stroke="#bcb7d8" stroke-opacity="0.2"/><path d="M126.9 313.6L302 301.6M127.5 288.5L345 304.9" stroke="#40146a" stroke-opacity="0.2"/><path d="M118.8 234.9L319.2 267.6M124.5 268.4L336.4 256M128 285.2L293.4 267" stroke="#a65107" stroke-opacity="0.2"/><path d="M118.7 191.4L345 194.8M124.1 291.9L345 280.4" stroke="#994a07" stroke-opacity="0.2"/><path d="M122.6 266.8L336.4 231.5M123.9 256.7L327.8 267.8M114.8 211.5L345 219.3M117.8 268.4L310.6 280.4M120.1 216.5L267.6 299M120.2 204.8L345 243.7M120.3 229.9L336.4 231.5M116.6 243.3L327.8 303.6M120.2 199.8L345 243.7M126.5 238.3L345 243.7M126.8 293.6L345 280.4M117.3 271.8L345 243.7" stroke="#ca6d0d" stroke-opacity="0.2"/><path d="M127.4 278.5L345 280.4M125.1 317L310.6 280.4M123.6 251.7L327.8 256M126.5 243.3L319.2 231.5M115.4 261.7L327.8 267.8M117 193.1L345 256M126 308.6L319.2 302.9M123.4 255L327.8 280.4M120.2 223.2L327.8 280.4M118.5 239.9L345 219.3M125.6 231.6L319.2 231.5M125.6 253.3L319.2 302.9M122.2 288.5L336.4 256M125.2 261.7L336.4 292.7M123.4 209.8L336.4 304.2M116.3 193.1L345 194.8M126.6 241.6L310.6 267.4M120 258.4L267.6 299M123.7 265.1L302 267.2M127.8 290.2L327.8 292.7M116.6 295.2L327.8 292.7" stroke="#7560a3" stroke-opacity="0.2"/><path d="M122.5 239.9L327.8 267.8M117.5 280.1L336.4 231.5M116.8 186.3L302 301.6M125.3 219.8L345 243.7M124.3 315.3L319.2 302.9M126.7 317L345 304.9M122.6 286.9L336.4 231.5M128.5 209.8L319.2 231.5M123.9 313.6L345 304.9M115.2 193.1L345 219.3M117.4 266.8L327.8 280.4M123.3 260.1L327.8 280.4M123.5 251.7L345 231.5M122.5 312L327.8 292.7M121.7 276.8L319.2 292.7M122.9 198.1L319.2 231.5M121.5 293.6L336.4 304.2M127.5 245L345 219.3M115.3 199.8L345 194.8M115.5 303.6L345 292.7M115 300.2L319.2 267.6M125.6 188L345 219.3M114.9 273.4L327.8 267.8M117.3 313.6L336.4 292.7M118.2 298.6L327.8 303.6M128.5 194.7L345 194.8M126.2 209.8L345 256M124 214.8L345 219.3M121.5 221.5L345 219.3M116 216.5L345 207M122.6 218.2L345 194.8M125.7 291.9L327.8 292.7M126.5 293.6L327.8 256M120.2 223.2L267.6 299M122 233.2L319.2 280.4M127.5 184.7L345 219.3M128.3 286.9L345 256M122 224.9L319.2 231.5" stroke="#e79028" stroke-opacity="0.2"/><path d="M127.7 186.3L345 194.8M125.2 198.1L345 194.8M127.1 256.7L336.4 268" stroke="#4a1d79" stroke-opacity="0.2"/><path d="M126.2 246.7L345 280.4M116.9 216.5L345 219.3M124 246.7L345 256M121.9 191.4L345 292.7M118.6 273.4L302 267.2M128.4 290.2L327.8 256M120.8 275.1L319.2 267.6" stroke="#b35806" stroke-opacity="0.2"/><path d="M128 226.6L319.2 292.7M122.8 199.8L319.2 231.5M125.1 221.5L345 219.3M128.3 270.1L345 280.4M126 223.2L345 207M124.5 183L345 194.8M124.2 276.8L336.4 256M121.2 214.8L319.2 231.5M124.5 298.6L345 231.5M125.4 228.2L327.8 292.7M115.6 278.5L336.4 292.7M122.9 306.9L336.4 292.7M123.1 256.7L327.8 256M120.9 221.5L345 243.7M126.8 204.8L336.4 231.5M116 260.1L345 268.2M127.2 253.3L336.4 268M117.8 276.8L319.2 302.9M121 198.1L345 219.3M119.6 270.1L319.2 231.5M115.7 290.2L327.8 231.5M125.2 208.1L345 231.5M117.1 198.1L345 207M126.8 216.5L284.8 300.3M123.3 188L345 207M125 209.8L345 194.8M118.1 305.3L327.8 256M114.7 183L345 207M119.8 288.5L284.8 300.3M119.1 231.6L345 194.8M125.8 258.4L310.6 267.4M114.6 256.7L327.8 267.8" stroke="#8073ac" stroke-opacity="0.2"/><path d="M128 258.4L293.4 267M116.4 188L293.4 301M124.9 198.1L327.8 231.5M119.4 275.1L345 207M122.2 191.4L345 207M122.8 203.1L302 301.6M115.4 201.4L345 207M122.5 194.7L345 231.5M117.1 239.9L319.2 231.5M114.8 201.4L319.2 256M117 229.9L345 243.7M126.5 206.4L310.6 302.3M121.7 234.9L345 194.8M122.3 265.1L310.6 256M115 236.6L319.2 231.5M120.2 305.3L336.4 268M125 246.7L336.4 268M125.1 228.2L345 194.8M121 214.8L345 219.3M124.5 283.5L336.4 292.7M121.2 198.1L345 219.3M124.4 293.6L319.2 256M121.2 268.4L310.6 267.4M118.5 263.4L345 268.2M115.8 280.1L327.8 292.7M117.1 258.4L345 243.7" stroke="#e08214" stroke-opacity="0.2"/><path d="M118.6 191.4L345 194.8M124.2 295.2L319.2 267.6M126.9 234.9L293.4 267M117.1 265.1L276.2 299.7M115.4 301.9L319.2 302.9M123.4 260.1L310.6 302.3M117.2 234.9L345 243.7M125.8 204.8L345 194.8M120.6 317L345 280.4M127.6 241.6L345 268.2M125.9 266.8L310.6 256M123.6 193.1L310.6 267.4M119.4 308.6L345 292.7M123 234.9L345 219.3M115.3 189.7L345 194.8M124.3 300.2L345 292.7M122.1 317L293.4 301M117.7 196.4L345 207M122.4 286.9L310.6 267.4M120.7 275.1L327.8 303.6M116.1 271.8L327.8 231.5M115.4 233.2L327.8 280.4M120 204.8L345 219.3M124.4 293.6L319.2 280.4M115.2 213.2L345 219.3M121.5 265.1L293.4 267M120.7 298.6L345 268.2M124.1 298.6L319.2 292.7M118.1 233.2L336.4 256M125.5 204.8L336.4 292.7M116.7 189.7L345 207M120 223.2L345 304.9M116 241.6L345 304.9M117.3 285.2L293.4 267M118.8 301.9L327.8 303.6M120.8 221.5L345 207M121.7 288.5L345 280.4M124.4 251.7L345 219.3M123.5 265.1L310.6 256M122.6 260.1L345 280.4M128.3 255L345 243.7M119.7 224.9L345 219.3M128.2 241.6L319.2 267.6M121.9 196.4L336.4 231.5M117.9 228.2L327.8 231.5M128.3 261.7L345 243.7M127.4 189.7L345 194.8M121.9 246.7L319.2 256M123 196.4L267.6 299M118.6 291.9L327.8 267.8M118.9 250L327.8 256M124.5 295.2L345 231.5" stroke="#ee9d3c" stroke-opacity="0.2"/><path d="M124.2 224.9L310.6 256" stroke="#2d004b" stroke-opacity="0.2"/><path d="M120.5 188L293.4 301M116.2 209.8L319.2 292.7M123.9 278.5L345 194.8M125 219.8L345 219.3M121.2 261.7L345 256M121.1 280.1L336.4 268M124.9 221.5L345 207M116.2 253.3L345 207M118.9 216.5L345 194.8M122.7 301.9L293.4 301M124 218.2L345 207M127.3 303.6L345 292.7M119.7 196.4L345 219.3M117.7 189.7L345 194.8" stroke="#6a4d9a" stroke-opacity="0.2"/><path d="M118.5 184.7L345 207M123.8 306.9L327.8 280.4M116 221.5L302 267.2M126.8 213.2L345 194.8M121.6 295.2L267.6 299M128.5 312L327.8 292.7M120.1 213.2L336.4 268M127.4 310.3L327.8 292.7" stroke="#542788" stroke-opacity="0.2"/></g>
<g stroke-width="0.45" fill="none"><path d="M345 256L510.7 244.6M310.6 280.4L510.7 277.4M267.6 299L510.7 255.5M327.8 280.4L491.5 267M345 231.5L510.7 244.6M345 243.7L520.3 244.3M319.2 231.5L520.3 233.4M336.4 292.7L510.7 255.5M327.8 256L481.9 267.2M345 256L520.3 244.3M293.4 267L510.7 277.4" stroke="#e79028" stroke-opacity="0.5"/><path d="M310.6 302.3L510.7 266.5M345 231.5L510.7 200.8M310.6 256L491.5 256M336.4 268L520.3 222.4M345 194.8L510.7 200.8M319.2 280.4L472.3 289.4M327.8 292.7L491.5 299.9M345 292.7L520.3 277.2M345 207L520.3 200.5M345 256L520.3 211.5M345 280.4L462.7 289.6M302 267.2L510.7 277.4M345 207L510.7 200.8M336.4 304.2L491.5 299.9M284.8 300.3L472.3 278.4M319.2 231.5L501.1 222.9M319.2 267.6L481.9 289.1M310.6 280.4L481.9 267.2M319.2 280.4L510.7 299.4M336.4 304.2L491.5 299.9M336.4 231.5L510.7 233.6" stroke="#fdb863" stroke-opacity="0.5"/><path d="M336.4 292.7L501.1 277.7M336.4 256L491.5 256M345 304.9L520.3 299.1M345 280.4L510.7 288.4M327.8 231.5L520.3 200.5M310.6 267.4L491.5 223.2M327.8 292.7L510.7 244.6M310.6 267.4L510.7 222.7M267.6 299L520.3 299.1M345 280.4L472.3 289.4M345 231.5L520.3 244.3M327.8 267.8L491.5 277.9M336.4 280.4L520.3 244.3M310.6 302.3L510.7 299.4M336.4 256L510.7 233.6M345 292.7L510.7 255.5M302 267.2L481.9 256.3M345 194.8L520.3 200.5M336.4 256L510.7 244.6M319.2 231.5L501.1 255.8M345 231.5L510.7 222.7M267.6 299L472.3 278.4M319.2 302.9L501.1 255.8M345 280.4L462.7 278.7M319.2 231.5L501.1 201M267.6 299L510.7 288.4M267.6 299L510.7 299.4M336.4 280.4L501.1 233.9M284.8 300.3L501.1 299.6M345 219.3L520.3 211.5" stroke="#a69dc8" stroke-opacity="0.6"/><path d="M336.4 256L510.7 233.6M345 268.2L520.3 233.4M327.8 267.8L520.3 266.2M310.6 267.4L472.3 267.5M319.2 231.5L520.3 200.5M345 268.2L520.3 244.3M336.4 268L520.3 244.3M327.8 280.4L510.7 244.6M319.2 280.4L520.3 299.1M345 304.9L501.1 277.7M345 280.4L501.1 288.6M345 304.9L501.1 299.6M327.8 267.8L520.3 222.4M293.4 301L510.7 255.5M327.8 231.5L501.1 201M336.4 280.4L520.3 266.2M336.4 231.5L510.7 222.7M302 267.2L520.3 244.3M345 219.3L520.3 200.5M327.8 292.7L481.9 300.1M336.4 280.4L491.5 267M345 194.8L501.1 201M345 231.5L510.7 211.7M345 207L510.7 200.8M345 280.4L501.1 255.8" stroke="#f6aa4f" stroke-opacity="0.5"/><path d="M345 304.9L510.7 299.4M345 207L501.1 222.9M310.6 256L520.3 244.3M302 301.6L472.3 267.5M336.4 268L491.5 288.9M336.4 304.2L501.1 288.6" stroke="#8073ac" stroke-opacity="0.6"/><path d="M293.4 267L520.3 233.4M327.8 256L510.7 255.5M336.4 231.5L520.3 211.5M345 243.7L520.3 211.5M336.4 268L520.3 222.4M345 304.9L510.7 277.4M310.6 256L481.9 267.2M319.2 280.4L510.7 244.6M336.4 268L481.9 278.2M336.4 268L510.7 277.4M319.2 292.7L501.1 266.7M310.6 256L472.3 267.5M310.6 302.3L472.3 300.4M310.6 280.4L520.3 266.2M319.2 302.9L462.7 300.6M293.4 301L481.9 300.1M310.6 267.4L491.5 267M345 268.2L510.7 255.5M336.4 268L481.9 289.1M327.8 267.8L462.7 289.6M327.8 280.4L501.1 277.7M302 267.2L472.3 267.5M345 268.2L510.7 233.6M336.4 304.2L520.3 299.1M345 268.2L491.5 288.9M310.6 302.3L491.5 267M345 280.4L491.5 277.9M345 243.7L491.5 223.2M302 267.2L501.1 277.7M345 280.4L520.3 288.1M327.8 292.7L510.7 288.4M319.2 280.4L481.9 278.2M319.2 292.7L472.3 289.4M345 219.3L510.7 200.8M319.2 292.7L501.1 299.6M319.2 256L501.1 233.9M327.8 303.6L501.1 255.8M327.8 256L520.3 244.3M293.4 301L491.5 277.9M336.4 292.7L501.1 255.8M310.6 302.3L501.1 299.6M310.6 256L510.7 233.6M319.2 280.4L501.1 233.9M336.4 231.5L481.9 256.3M310.6 280.4L520.3 233.4M345 268.2L520.3 266.2M327.8 303.6L510.7 266.5M327.8 303.6L453.1 289.9M345 243.7L501.1 233.9M310.6 280.4L520.3 244.3M319.2 292.7L510.7 244.6M336.4 292.7L481.9 267.2M319.2 292.7L520.3 266.2M310.6 302.3L472.3 300.4M319.2 302.9L453.1 300.9M302 267.2L501.1 222.9M345 268.2L520.3 255.3M319.2 302.9L520.3 266.2M336.4 268L520.3 233.4M345 292.7L491.5 256M336.4 304.2L453.1 300.9M267.6 299L501.1 266.7M310.6 256L491.5 267M284.8 300.3L481.9 267.2M345 207L510.7 222.7M327.8 292.7L501.1 255.8M319.2 256L491.5 267M345 194.8L501.1 201M336.4 256L501.1 266.7M345 268.2L491.5 223.2M319.2 267.6L510.7 244.6M319.2 267.6L453.1 278.9M327.8 267.8L481.9 289.1M345 219.3L510.7 222.7M345 292.7L481.9 267.2M327.8 267.8L501.1 233.9M267.6 299L472.3 300.4M310.6 302.3L510.7 299.4M345 304.9L520.3 266.2M302 301.6L510.7 266.5M293.4 267L510.7 233.6M336.4 256L472.3 267.5M327.8 303.6L453.1 278.9M319.2 292.7L453.1 278.9M345 207L520.3 211.5M310.6 267.4L510.7 244.6M310.6 267.4L520.3 233.4M345 268.2L481.9 267.2M293.4 267L520.3 255.3M310.6 302.3L501.1 266.7M345 207L520.3 233.4M345 304.9L462.7 300.6M319.2 280.4L510.7 288.4M319.2 256L510.7 233.6M327.8 280.4L472.3 289.4M345 256L510.7 211.7M345 268.2L520.3 233.4M345 268.2L510.7 244.6M336.4 304.2L462.7 278.7M345 219.3L510.7 200.8M345 268.2L520.3 244.3M319.2 231.5L520.3 211.5M293.4 267L510.7 255.5M310.6 267.4L501.1 233.9M336.4 304.2L481.9 278.2M336.4 231.5L520.3 233.4M336.4 231.5L510.7 255.5M327.8 267.8L520.3 233.4M336.4 280.4L491.5 277.9M345 194.8L520.3 211.5M319.2 302.9L510.7 255.5M319.2 302.9L510.7 299.4" stroke="#cecee5" stroke-opacity="0.6"/><path d="M319.2 280.4L501.1 299.6" stroke="#2d004b" stroke-opacity="0.5"/><path d="M345 194.8L520.3 200.5M345 256L520.3 222.4M284.8 300.3L510.7 255.5M345 231.5L501.1 201M336.4 280.4L510.7 244.6M319.2 292.7L491.5 299.9M267.6 299L491.5 256M345 256L472.3 267.5M319.2 267.6L520.3 277.2M327.8 256L520.3 233.4M345 268.2L520.3 266.2M336.4 304.2L472.3 300.4M345 268.2L510.7 233.6M276.2 299.7L481.9 289.1M336.4 304.2L472.3 278.4M345 194.8L501.1 201M345 243.7L481.9 267.2M302 301.6L491.5 299.9M336.4 231.5L491.5 256M336.4 268L520.3 244.3M345 268.2L443.5 290.1M345 304.9L462.7 289.6M336.4 280.4L520.3 255.3M293.4 301L491.5 267M345 304.9L510.7 299.4M293.4 267L520.3 222.4M336.4 231.5L520.3 211.5M319.2 280.4L510.7 244.6M302 267.2L510.7 255.5M336.4 292.7L510.7 244.6M327.8 231.5L520.3 200.5M293.4 267L520.3 277.2M336.4 268L472.3 289.4M267.6 299L501.1 255.8M345 194.8L520.3 200.5" stroke="#fdc278" stroke-opacity="0.5"/><path d="M310.6 302.3L481.9 300.1M276.2 299.7L481.9 256.3M319.2 280.4L481.9 267.2M345 256L472.3 267.5M284.8 300.3L462.7 300.6M345 207L520.3 233.4M336.4 304.2L520.3 299.1M310.6 256L520.3 244.3M293.4 301L472.3 278.4M310.6 256L520.3 222.4M336.4 292.7L520.3 266.2M336.4 280.4L481.9 256.3M310.6 256L520.3 211.5M293.4 267L520.3 244.3M336.4 256L501.1 233.9" stroke="#8073ac" stroke-opacity="0.5"/><path d="M345 292.7L520.3 299.1M345 268.2L520.3 255.3M327.8 280.4L453.1 289.9M319.2 302.9L491.5 256M319.2 302.9L491.5 299.9M336.4 292.7L501.1 299.6M319.2 302.9L510.7 299.4M310.6 267.4L510.7 288.4M345 194.8L520.3 200.5M327.8 231.5L520.3 233.4M302 301.6L501.1 255.8M345 231.5L520.3 233.4M319.2 280.4L472.3 300.4M327.8 256L520.3 244.3M336.4 292.7L510.7 288.4M319.2 256L510.7 244.6M336.4 280.4L510.7 244.6M345 194.8L510.7 200.8M345 304.9L510.7 299.4" stroke="#998fbf" stroke-opacity="0.6"/><path d="M345 268.2L481.9 256.3M345 304.9L520.3 255.3M345 304.9L510.7 255.5M345 304.9L472.3 289.4M319.2 292.7L453.1 300.9M345 304.9L462.7 300.6M293.4 267L481.9 278.2M327.8 303.6L510.7 255.5M276.2 299.7L510.7 266.5M336.4 268L510.7 266.5M319.2 280.4L510.7 233.6M345 280.4L462.7 300.6M345 194.8L501.1 201M345 219.3L520.3 222.4M310.6 302.3L501.1 288.6M327.8 231.5L520.3 211.5M327.8 292.7L472.3 278.4M345 207L510.7 200.8M319.2 302.9L501.1 299.6M336.4 268L510.7 233.6M293.4 301L453.1 300.9M327.8 256L510.7 211.7M327.8 280.4L453.1 289.9M319.2 256L520.3 211.5M327.8 231.5L520.3 200.5" stroke="#7560a3" stroke-opacity="0.5"/><path d="M336.4 280.4L501.1 299.6M302 267.2L520.3 233.4M327.8 267.8L510.7 233.6" stroke="#370a5a" stroke-opacity="0.5"/><path d="M310.6 302.3L481.9 300.1M336.4 231.5L510.7 200.8M345 256L491.5 223.2M336.4 304.2L481.9 267.2M319.2 292.7L501.1 299.6M336.4 304.2L510.7 299.4M327.8 267.8L481.9 289.1M310.6 302.3L510.7 266.5M293.4 301L520.3 255.3M336.4 268L481.9 256.3M319.2 267.6L510.7 244.6M319.2 231.5L510.7 222.7M319.2 292.7L520.3 255.3M327.8 292.7L520.3 299.1M302 267.2L520.3 233.4M345 194.8L501.1 222.9M327.8 231.5L520.3 200.5M345 219.3L491.5 223.2M293.4 301L472.3 267.5M336.4 256L510.7 255.5M319.2 292.7L510.7 266.5M345 292.7L481.9 300.1M267.6 299L462.7 289.6M276.2 299.7L481.9 267.2M310.6 280.4L510.7 244.6M345 292.7L481.9 289.1M310.6 256L520.3 211.5M284.8 300.3L510.7 255.5M310.6 256L520.3 255.3M345 207L510.7 200.8M345 194.8L510.7 200.8M327.8 280.4L510.7 277.4M310.6 267.4L510.7 222.7M327.8 256L510.7 222.7M293.4 267L501.1 255.8M327.8 256L472.3 278.4M284.8 300.3L481.9 300.1M284.8 300.3L481.9 300.1M302 301.6L501.1 299.6M345 219.3L510.7 211.7M319.2 267.6L510.7 233.6M319.2 280.4L520.3 277.2M319.2 302.9L481.9 278.2M327.8 231.5L491.5 223.2M293.4 301L510.7 299.4M336.4 280.4L501.1 233.9M336.4 292.7L510.7 299.4M327.8 280.4L491.5 277.9M336.4 280.4L510.7 233.6M310.6 280.4L462.7 278.7M327.8 267.8L453.1 278.9M310.6 302.3L510.7 255.5M310.6 280.4L510.7 255.5M345 304.9L501.1 266.7M276.2 299.7L520.3 266.2M327.8 256L520.3 277.2M336.4 304.2L520.3 288.1M319.2 256L510.7 222.7M310.6 256L510.7 244.6M327.8 231.5L520.3 244.3M336.4 256L510.7 233.6M336.4 268L510.7 288.4M327.8 280.4L472.3 267.5M267.6 299L481.9 300.1M310.6 256L510.7 233.6M319.2 231.5L501.1 233.9M345 280.4L510.7 233.6M319.2 267.6L510.7 244.6M345 243.7L520.3 255.3M319.2 267.6L481.9 289.1M327.8 303.6L472.3 289.4M302 267.2L472.3 267.5M345 219.3L520.3 244.3M327.8 292.7L481.9 300.1M345 243.7L510.7 244.6M336.4 304.2L481.9 256.3M327.8 231.5L510.7 222.7M319.2 267.6L462.7 289.6M267.6 299L520.3 255.3M327.8 256L520.3 211.5M310.6 280.4L491.5 277.9M336.4 304.2L443.5 290.1M327.8 280.4L491.5 267M319.2 292.7L510.7 266.5M327.8 231.5L520.3 244.3M310.6 280.4L491.5 299.9M319.2 292.7L481.9 300.1M327.8 280.4L462.7 278.7M293.4 301L453.1 300.9M310.6 302.3L472.3 300.4M345 268.2L520.3 222.4M345 231.5L501.1 201M336.4 231.5L501.1 222.9M327.8 267.8L501.1 266.7M319.2 256L510.7 233.6M284.8 300.3L510.7 266.5M319.2 256L520.3 266.2M345 304.9L501.1 255.8M310.6 280.4L453.1 300.9M345 207L510.7 200.8M327.8 280.4L501.1 233.9M345 292.7L491.5 256M319.2 302.9L491.5 256M345 194.8L520.3 200.5M336.4 304.2L481.9 300.1M302 267.2L472.3 267.5M345 207L510.7 200.8M284.8 300.3L481.9 278.2M345 256L510.7 211.7M319.2 256L510.7 233.6M302 301.6L491.5 267M319.2 231.5L520.3 233.4M327.8 231.5L520.3 244.3M336.4 268L510.7 244.6M345 219.3L520.3 233.4M319.2 256L501.1 233.9M284.8 300.3L520.3 299.1M345 231.5L510.7 200.8M327.8 231.5L510.7 200.8M319.2 280.4L520.3 233.4M319.2 302.9L501.1 299.6M310.6 280.4L510.7 266.5M293.4 301L491.5 277.9M345 231.5L520.3 200.5M345 268.2L491.5 288.9M345 280.4L462.7 278.7M310.6 302.3L501.1 299.6M293.4 301L481.9 267.2M319.2 256L481.9 278.2M319.2 256L520.3 233.4M345 292.7L481.9 267.2M319.2 267.6L520.3 222.4M336.4 231.5L520.3 244.3M293.4 301L510.7 266.5M345 268.2L443.5 290.1M345 207L510.7 200.8M310.6 256L510.7 255.5M319.2 280.4L501.1 266.7M345 268.2L462.7 278.7M336.4 231.5L501.1 201M310.6 302.3L491.5 256M327.8 303.6L481.9 300.1M345 207L520.3 233.4M336.4 268L491.5 267M310.6 280.4L510.7 299.4M345 219.3L520.3 200.5M319.2 292.7L453.1 289.9M336.4 256L501.1 255.8M327.8 256L520.3 277.2M345 231.5L510.7 244.6M336.4 292.7L481.9 300.1M284.8 300.3L510.7 299.4M310.6 256L520.3 222.4" stroke="#d8daeb" stroke-opacity="0.6"/><path d="M327.8 231.5L501.1 222.9M310.6 256L491.5 256M345 243.7L520.3 200.5M284.8 300.3L501.1 299.6M345 292.7L491.5 288.9M327.8 267.8L481.9 256.3M345 292.7L520.3 299.1M319.2 280.4L491.5 267M336.4 268L472.3 267.5M327.8 303.6L510.7 266.5M327.8 256L501.1 277.7M327.8 267.8L520.3 222.4M345 292.7L510.7 244.6M310.6 256L510.7 211.7M336.4 256L481.9 278.2M336.4 268L510.7 277.4M327.8 267.8L453.1 289.9M345 268.2L501.1 233.9M336.4 231.5L520.3 255.3M336.4 256L510.7 211.7M336.4 268L501.1 288.6M319.2 302.9L481.9 267.2M302 267.2L520.3 255.3M302 267.2L501.1 233.9M319.2 280.4L520.3 255.3M310.6 302.3L510.7 255.5M319.2 256L481.9 267.2M327.8 292.7L491.5 256M310.6 256L510.7 211.7M319.2 256L491.5 256M293.4 301L481.9 278.2M319.2 256L520.3 277.2M345 280.4L520.3 299.1M327.8 280.4L481.9 256.3M284.8 300.3L481.9 267.2M345 219.3L520.3 233.4M336.4 268L520.3 266.2M345 268.2L501.1 255.8M336.4 256L520.3 222.4M345 231.5L520.3 244.3M345 207L510.7 200.8M345 231.5L510.7 233.6M293.4 267L472.3 278.4M267.6 299L501.1 299.6M345 292.7L501.1 255.8M293.4 267L501.1 277.7M345 256L510.7 211.7M302 267.2L481.9 289.1M302 267.2L472.3 289.4M319.2 267.6L501.1 222.9M302 301.6L481.9 267.2M336.4 304.2L520.3 255.3M345 194.8L510.7 211.7" stroke="#fee0b6" stroke-opacity="0.5"/><path d="M319.2 267.6L520.3 266.2M302 267.2L510.7 266.5M336.4 256L510.7 244.6M327.8 292.7L510.7 277.4M319.2 231.5L501.1 201M336.4 304.2L472.3 300.4M345 280.4L453.1 278.9M310.6 302.3L462.7 289.6" stroke="#e08214" stroke-opacity="0.5"/><path d="M319.2 302.9L491.5 267" stroke="#2d004b" stroke-opacity="0.5"/><path d="M319.2 302.9L472.3 278.4M310.6 267.4L491.5 277.9M310.6 256L510.7 222.7M336.4 231.5L510.7 255.5M284.8 300.3L501.1 299.6M319.2 302.9L520.3 288.1M276.2 299.7L520.3 255.3M276.2 299.7L510.7 288.4M319.2 256L481.9 256.3" stroke="#8c81b6" stroke-opacity="0.6"/><path d="M302 267.2L510.7 255.5M345 268.2L491.5 256M336.4 292.7L491.5 288.9M310.6 267.4L501.1 222.9M319.2 267.6L520.3 233.4M336.4 256L520.3 255.3M345 207L510.7 200.8" stroke="#40146a" stroke-opacity="0.5"/><path d="M310.6 280.4L472.3 278.4M319.2 292.7L462.7 278.7" stroke="#7560a3" stroke-opacity="0.6"/><path d="M319.2 256L462.7 278.7M293.4 301L472.3 289.4M345 304.9L491.5 299.9M293.4 267L491.5 277.9M336.4 280.4L510.7 244.6M345 243.7L481.9 267.2M276.2 299.7L481.9 256.3M327.8 231.5L510.7 211.7M345 304.9L453.1 300.9M319.2 231.5L501.1 233.9M345 219.3L501.1 201M345 304.9L472.3 300.4M336.4 256L491.5 223.2M310.6 256L501.1 255.8M336.4 268L472.3 278.4M310.6 267.4L510.7 244.6M327.8 292.7L501.1 255.8M345 231.5L520.3 200.5M302 267.2L462.7 289.6M327.8 267.8L462.7 278.7M276.2 299.7L481.9 278.2M327.8 280.4L510.7 233.6M327.8 231.5L510.7 211.7M345 207L520.3 200.5M319.2 302.9L520.3 255.3M345 219.3L520.3 211.5M327.8 267.8L501.1 222.9M327.8 256L510.7 244.6M327.8 303.6L501.1 255.8M293.4 267L520.3 233.4M293.4 301L472.3 300.4M345 194.8L510.7 200.8M336.4 304.2L491.5 299.9M319.2 280.4L491.5 288.9M327.8 280.4L510.7 244.6M310.6 256L520.3 233.4M345 219.3L520.3 233.4M336.4 256L491.5 277.9M302 267.2L501.1 266.7M319.2 292.7L520.3 255.3M336.4 231.5L510.7 211.7M345 207L501.1 233.9M345 207L501.1 233.9M345 280.4L520.3 255.3M345 231.5L520.3 200.5M319.2 231.5L520.3 255.3M310.6 256L491.5 277.9M319.2 302.9L481.9 300.1M293.4 301L510.7 255.5M319.2 231.5L520.3 244.3" stroke="#fed6a1" stroke-opacity="0.5"/><path d="M310.6 302.3L510.7 299.4" stroke="#be630a" stroke-opacity="0.5"/><path d="M336.4 231.5L510.7 222.7M336.4 304.2L501.1 299.6M327.8 231.5L520.3 211.5M293.4 301L520.3 288.1M319.2 292.7L491.5 267M319.2 292.7L472.3 300.4M345 256L520.3 277.2M276.2 299.7L472.3 289.4M336.4 256L520.3 211.5M310.6 302.3L481.9 278.2M293.4 301L510.7 288.4M319.2 256L520.3 233.4M327.8 267.8L491.5 288.9M327.8 303.6L481.9 300.1M327.8 292.7L520.3 244.3M284.8 300.3L462.7 300.6" stroke="#542788" stroke-opacity="0.5"/><path d="M327.8 267.8L520.3 244.3M310.6 280.4L520.3 233.4M267.6 299L481.9 267.2M345 219.3L510.7 200.8M336.4 231.5L510.7 244.6M302 267.2L501.1 222.9M310.6 267.4L510.7 266.5M319.2 302.9L443.5 290.1M327.8 231.5L510.7 222.7M293.4 301L462.7 300.6M310.6 267.4L491.5 223.2" stroke="#ee9d3c" stroke-opacity="0.5"/><path d="M319.2 302.9L462.7 278.7M345 231.5L520.3 211.5M310.6 267.4L520.3 244.3M327.8 267.8L520.3 244.3M319.2 280.4L501.1 233.9M267.6 299L520.3 277.2M336.4 268L510.7 244.6M345 256L462.7 278.7M293.4 267L520.3 244.3M319.2 231.5L520.3 255.3M345 280.4L501.1 277.7M319.2 231.5L520.3 211.5M293.4 267L453.1 289.9M310.6 302.3L491.5 256M284.8 300.3L472.3 300.4M284.8 300.3L510.7 299.4M336.4 231.5L520.3 211.5M293.4 267L510.7 233.6M327.8 256L510.7 233.6M327.8 231.5L520.3 200.5M327.8 231.5L520.3 222.4M345 243.7L520.3 222.4M345 207L501.1 222.9M310.6 256L481.9 267.2M327.8 231.5L501.1 233.9M327.8 280.4L510.7 233.6M310.6 302.3L510.7 266.5M310.6 256L501.1 266.7M345 268.2L501.1 266.7M345 256L472.3 278.4M336.4 268L520.3 266.2M310.6 302.3L510.7 255.5M327.8 280.4L501.1 266.7M319.2 267.6L520.3 266.2M319.2 302.9L481.9 267.2M267.6 299L453.1 300.9M345 243.7L520.3 200.5M293.4 301L481.9 300.1M310.6 256L520.3 211.5M327.8 267.8L510.7 277.4M319.2 292.7L520.3 255.3M327.8 256L520.3 244.3M336.4 256L510.7 211.7M336.4 292.7L481.9 300.1M336.4 268L491.5 223.2M310.6 267.4L520.3 222.4M336.4 292.7L481.9 289.1M293.4 301L462.7 300.6M302 301.6L520.3 255.3M293.4 301L462.7 278.7M310.6 280.4L501.1 233.9M327.8 303.6L510.7 288.4M336.4 268L481.9 256.3M327.8 280.4L520.3 233.4M302 301.6L462.7 300.6M310.6 267.4L520.3 222.4M345 231.5L520.3 244.3M310.6 280.4L520.3 233.4M319.2 231.5L510.7 211.7M345 304.9L481.9 300.1M327.8 303.6L510.7 255.5M310.6 267.4L501.1 288.6M345 304.9L501.1 277.7M345 231.5L501.1 233.9M336.4 304.2L481.9 267.2M336.4 280.4L481.9 267.2M319.2 292.7L462.7 300.6M267.6 299L510.7 299.4M327.8 267.8L491.5 277.9M267.6 299L481.9 300.1M302 301.6L462.7 278.7M345 207L510.7 211.7M319.2 280.4L510.7 244.6M310.6 256L510.7 244.6M336.4 231.5L520.3 200.5M327.8 267.8L501.1 222.9M345 304.9L501.1 288.6M319.2 302.9L510.7 266.5M345 243.7L520.3 266.2M327.8 267.8L520.3 266.2M319.2 292.7L453.1 300.9M319.2 302.9L462.7 300.6M276.2 299.7L462.7 289.6M336.4 304.2L472.3 300.4" stroke="#bcb7d8" stroke-opacity="0.6"/><path d="M284.8 300.3L510.7 288.4M267.6 299L481.9 267.2M345 292.7L520.3 244.3M345 194.8L501.1 201M276.2 299.7L510.7 299.4M336.4 268L491.5 288.9M336.4 268L520.3 244.3M284.8 300.3L501.1 299.6M345 304.9L481.9 256.3M336.4 280.4L520.3 233.4M345 243.7L501.1 201M345 256L520.3 244.3M276.2 299.7L491.5 299.9M345 256L510.7 211.7M345 231.5L491.5 223.2M345 280.4L462.7 300.6M345 219.3L510.7 200.8M336.4 256L510.7 233.6M327.8 303.6L491.5 288.9M336.4 304.2L453.1 278.9M336.4 292.7L491.5 277.9M319.2 267.6L520.3 266.2M293.4 301L472.3 300.4M345 280.4L520.3 244.3M336.4 231.5L510.7 200.8M293.4 267L491.5 256M310.6 256L501.1 222.9M284.8 300.3L481.9 300.1M310.6 280.4L520.3 244.3M336.4 304.2L501.1 266.7M293.4 267L501.1 222.9M293.4 267L520.3 255.3M327.8 292.7L491.5 299.9M293.4 267L491.5 256M345 268.2L501.1 222.9M336.4 304.2L491.5 256M319.2 280.4L501.1 277.7M336.4 256L510.7 277.4M319.2 292.7L453.1 300.9M310.6 267.4L481.9 256.3M336.4 256L510.7 211.7" stroke="#b2abd2" stroke-opacity="0.6"/><path d="M302 301.6L491.5 299.9M327.8 292.7L520.3 266.2M327.8 303.6L453.1 300.9M302 267.2L520.3 288.1M345 268.2L520.3 266.2M310.6 302.3L453.1 278.9M302 301.6L462.7 300.6M284.8 300.3L501.1 255.8M310.6 302.3L481.9 256.3M336.4 256L491.5 277.9M319.2 267.6L481.9 267.2M284.8 300.3L501.1 255.8M345 280.4L501.1 288.6M336.4 231.5L520.3 200.5" stroke="#5f3a91" stroke-opacity="0.5"/><path d="M310.6 280.4L491.5 256M327.8 292.7L501.1 288.6M336.4 256L491.5 267M327.8 231.5L510.7 244.6M336.4 304.2L520.3 288.1M319.2 292.7L520.3 244.3M336.4 231.5L510.7 200.8M345 292.7L501.1 299.6M310.6 302.3L453.1 289.9M336.4 292.7L520.3 266.2M327.8 292.7L501.1 299.6M336.4 292.7L510.7 299.4M293.4 267L491.5 223.2M319.2 231.5L510.7 200.8M293.4 301L472.3 289.4M319.2 256L510.7 222.7M345 292.7L510.7 288.4M276.2 299.7L501.1 255.8M345 219.3L501.1 201M336.4 292.7L510.7 299.4M345 268.2L520.3 222.4M276.2 299.7L481.9 289.1M327.8 256L510.7 244.6M276.2 299.7L462.7 289.6M327.8 280.4L520.3 299.1M327.8 256L510.7 244.6M327.8 267.8L501.1 255.8M345 268.2L491.5 256M327.8 256L510.7 222.7M327.8 292.7L501.1 299.6M267.6 299L472.3 267.5M345 292.7L520.3 299.1M345 219.3L520.3 211.5M319.2 256L510.7 222.7M327.8 256L501.1 222.9M267.6 299L481.9 300.1M336.4 231.5L510.7 200.8M327.8 256L520.3 211.5M302 301.6L481.9 300.1M336.4 268L472.3 278.4" stroke="#fecc8c" stroke-opacity="0.5"/><path d="M336.4 304.2L520.3 255.3M327.8 231.5L510.7 222.7M319.2 267.6L462.7 278.7M345 231.5L491.5 256M267.6 299L510.7 255.5M345 280.4L520.3 266.2M336.4 280.4L491.5 277.9M293.4 301L520.3 277.2" stroke="#4a1d79" stroke-opacity="0.5"/><path d="M276.2 299.7L510.7 266.5M284.8 300.3L453.1 278.9M336.4 280.4L510.7 255.5M336.4 292.7L501.1 255.8M319.2 256L501.1 233.9M327.8 256L520.3 277.2M336.4 280.4L462.7 278.7M293.4 301L491.5 288.9M284.8 300.3L481.9 256.3M302 301.6L501.1 266.7M293.4 267L520.3 244.3M319.2 292.7L510.7 299.4M345 268.2L501.1 233.9M319.2 231.5L520.3 233.4M336.4 280.4L481.9 256.3M336.4 268L491.5 223.2M302 301.6L491.5 299.9M327.8 303.6L453.1 278.9M345 207L501.1 201M345 243.7L520.3 222.4M336.4 256L510.7 211.7M310.6 267.4L520.3 255.3M310.6 267.4L501.1 255.8M310.6 256L501.1 255.8M293.4 301L472.3 300.4M310.6 267.4L481.9 289.1M336.4 231.5L510.7 200.8M336.4 304.2L453.1 300.9M345 280.4L510.7 288.4M327.8 303.6L453.1 289.9M310.6 267.4L501.1 233.9M345 304.9L462.7 300.6M336.4 256L491.5 223.2M345 219.3L510.7 200.8M345 231.5L501.1 233.9M319.2 267.6L510.7 222.7M345 256L481.9 256.3M345 207L501.1 201M327.8 303.6L501.1 255.8M336.4 231.5L491.5 223.2M310.6 302.3L520.3 299.1M327.8 256L520.3 211.5M345 219.3L520.3 211.5M293.4 267L491.5 277.9M310.6 256L520.3 255.3M345 292.7L481.9 289.1M276.2 299.7L453.1 300.9" stroke="#e0e1ee" stroke-opacity="0.6"/><path d="M319.2 280.4L491.5 256M310.6 267.4L510.7 255.5M345 194.8L510.7 200.8M293.4 267L501.1 277.7M310.6 280.4L462.7 278.7M310.6 302.3L491.5 256M336.4 304.2L491.5 299.9M310.6 267.4L491.5 277.9M319.2 302.9L472.3 267.5M345 243.7L520.3 233.4M319.2 292.7L510.7 277.4M310.6 267.4L491.5 223.2M327.8 303.6L491.5 288.9M310.6 302.3L520.3 299.1M302 301.6L481.9 289.1M267.6 299L510.7 288.4M319.2 267.6L491.5 267M310.6 302.3L510.7 299.4M302 267.2L520.3 244.3M327.8 280.4L510.7 299.4M336.4 292.7L472.3 278.4M345 280.4L520.3 244.3M345 207L510.7 233.6M327.8 280.4L491.5 299.9M319.2 256L462.7 278.7M327.8 292.7L472.3 289.4M319.2 231.5L520.3 255.3M319.2 267.6L501.1 233.9M302 267.2L520.3 255.3M345 268.2L501.1 233.9M293.4 301L481.9 256.3M319.2 256L510.7 211.7M293.4 301L453.1 289.9M319.2 231.5L491.5 256M336.4 292.7L462.7 289.6M345 243.7L520.3 233.4M336.4 292.7L501.1 288.6M345 207L501.1 201M319.2 280.4L510.7 255.5M345 194.8L520.3 200.5M267.6 299L481.9 267.2M345 292.7L462.7 300.6M276.2 299.7L520.3 277.2M319.2 292.7L491.5 299.9M336.4 280.4L501.1 299.6M327.8 231.5L520.3 200.5M267.6 299L510.7 255.5M284.8 300.3L472.3 278.4M310.6 302.3L510.7 255.5M345 219.3L520.3 200.5M327.8 267.8L510.7 277.4M345 231.5L520.3 211.5M293.4 267L501.1 255.8M302 267.2L510.7 244.6M345 231.5L520.3 211.5M319.2 292.7L453.1 278.9M310.6 256L501.1 233.9M319.2 231.5L510.7 211.7M284.8 300.3L472.3 300.4M319.2 292.7L520.3 299.1M319.2 256L520.3 266.2M284.8 300.3L472.3 278.4M345 243.7L510.7 200.8M327.8 303.6L453.1 278.9M319.2 231.5L520.3 244.3M327.8 303.6L510.7 288.4M310.6 280.4L510.7 233.6M310.6 256L481.9 267.2M345 280.4L481.9 300.1M336.4 231.5L520.3 211.5M345 292.7L501.1 288.6M327.8 303.6L501.1 255.8M345 280.4L520.3 233.4M319.2 280.4L501.1 233.9M345 231.5L510.7 211.7M345 256L491.5 223.2M345 243.7L510.7 244.6M327.8 280.4L510.7 299.4M327.8 292.7L501.1 266.7M327.8 292.7L472.3 278.4M284.8 300.3L510.7 277.4M345 194.8L510.7 200.8M327.8 303.6L510.7 255.5M336.4 280.4L520.3 266.2M284.8 300.3L520.3 277.2M345 194.8L520.3 211.5M336.4 256L510.7 222.7M336.4 304.2L501.1 266.7M319.2 256L501.1 277.7M345 256L481.9 256.3M319.2 292.7L520.3 244.3M345 304.9L481.9 278.2M276.2 299.7L481.9 278.2M336.4 292.7L462.7 300.6M293.4 267L520.3 266.2M319.2 302.9L491.5 299.9M327.8 280.4L491.5 277.9M319.2 267.6L472.3 278.4M327.8 292.7L510.7 288.4M284.8 300.3L472.3 267.5M327.8 303.6L453.1 300.9M345 280.4L462.7 289.6M336.4 292.7L501.1 277.7M302 267.2L520.3 233.4M345 219.3L501.1 222.9M284.8 300.3L501.1 299.6M336.4 268L453.1 278.9M327.8 267.8L501.1 255.8M302 267.2L520.3 233.4M319.2 256L510.7 222.7" stroke="#c5c2de" stroke-opacity="0.6"/><path d="M327.8 280.4L481.9 267.2M327.8 292.7L520.3 288.1M345 207L520.3 233.4M293.4 267L462.7 289.6M310.6 280.4L501.1 266.7M336.4 304.2L481.9 289.1M345 256L481.9 278.2M345 280.4L501.1 233.9M345 243.7L491.5 256M345 243.7L501.1 201M345 207L510.7 211.7M345 194.8L510.7 200.8M345 231.5L520.3 200.5M336.4 304.2L453.1 289.9M310.6 280.4L501.1 299.6M267.6 299L520.3 299.1M293.4 267L520.3 244.3M293.4 301L510.7 255.5M345 280.4L481.9 289.1" stroke="#6a4d9a" stroke-opacity="0.5"/><path d="M345 280.4L501.1 266.7M319.2 302.9L501.1 255.8M336.4 280.4L472.3 278.4" stroke="#ca6d0d" stroke-opacity="0.5"/><path d="M319.2 256L501.1 222.9M345 243.7L501.1 233.9M319.2 302.9L501.1 288.6M327.8 303.6L481.9 300.1M345 243.7L472.3 267.5M302 267.2L453.1 289.9M336.4 268L491.5 277.9M327.8 256L481.9 267.2M319.2 302.9L481.9 289.1M319.2 280.4L501.1 233.9M284.8 300.3L491.5 267M327.8 267.8L501.1 255.8M345 268.2L491.5 223.2M336.4 268L443.5 290.1M336.4 292.7L481.9 300.1M327.8 303.6L481.9 300.1M319.2 267.6L481.9 256.3M319.2 302.9L462.7 278.7" stroke="#fce6c6" stroke-opacity="0.5"/><path d="M319.2 231.5L501.1 255.8M327.8 267.8L472.3 278.4" stroke="#d57811" stroke-opacity="0.5"/></g>
<g stroke-width="0.55" fill="none"><path d="M520.3 299.1L592 242.4" stroke="#7560a3" stroke-opacity="0.6"/><path d="M520.3 255.3L601.5 230.2M520.3 277.2L640.4 257.2M520.3 288.1L616.1 273.4" stroke="#fdb863" stroke-opacity="0.6"/><path d="M520.3 244.3L640.4 257.2M520.3 277.2L601.5 269.4M520.3 288.1L616.1 273.4M520.3 233.4L640.4 242.4" stroke="#fecc8c" stroke-opacity="0.6"/><path d="M520.3 211.5L640.4 242.4M520.3 266.2L631 230.2M520.3 266.2L601.5 269.4M520.3 288.1L640.4 242.4M520.3 244.3L592 242.4M520.3 266.2L631 230.2M520.3 288.1L592 257.2M520.3 200.5L601.5 269.4M520.3 233.4L631 269.4M520.3 288.1L640.4 257.2M520.3 299.1L601.5 230.2M520.3 266.2L592 242.4M520.3 255.3L640.4 257.2M520.3 222.4L601.5 230.2M520.3 211.5L631 230.2M520.3 211.5L631 269.4M520.3 222.4L640.4 242.4M520.3 255.3L601.5 269.4M520.3 222.4L592 257.2M520.3 277.2L601.5 269.4M520.3 244.3L601.5 230.2M520.3 255.3L631 230.2" stroke="#cecee5" stroke-opacity="0.6"/><path d="M520.3 244.3L616.1 273.4M520.3 288.1L631 230.2M520.3 200.5L616.1 273.4M520.3 288.1L616.1 225.9M520.3 244.3L601.5 269.4M520.3 288.1L616.1 273.4" stroke="#faecd6" stroke-opacity="0.6"/><path d="M520.3 222.4L616.1 225.9M520.3 233.4L601.5 230.2M520.3 244.3L631 230.2M520.3 277.2L592 257.2M520.3 244.3L640.4 257.2M520.3 200.5L640.4 257.2M520.3 288.1L616.1 273.4M520.3 200.5L640.4 242.4" stroke="#d8daeb" stroke-opacity="0.6"/><path d="M520.3 299.1L616.1 273.4M520.3 277.2L616.1 225.9" stroke="#a69dc8" stroke-opacity="0.6"/><path d="M520.3 244.3L640.4 242.4M520.3 255.3L601.5 230.2M520.3 233.4L592 242.4M520.3 288.1L601.5 269.4M520.3 288.1L592 257.2M520.3 233.4L592 242.4M520.3 299.1L601.5 269.4M520.3 266.2L631 269.4" stroke="#fce6c6" stroke-opacity="0.6"/><path d="M520.3 288.1L616.1 273.4M520.3 299.1L601.5 230.2M520.3 288.1L631 269.4M520.3 233.4L601.5 230.2M520.3 211.5L601.5 269.4M520.3 266.2L616.1 273.4M520.3 244.3L592 257.2M520.3 266.2L592 257.2M520.3 211.5L601.5 269.4M520.3 277.2L640.4 242.4M520.3 288.1L592 242.4" stroke="#bcb7d8" stroke-opacity="0.6"/><path d="M520.3 244.3L631 230.2M520.3 255.3L601.5 269.4" stroke="#8073ac" stroke-opacity="0.6"/><path d="M520.3 266.2L640.4 257.2" stroke="#6a4d9a" stroke-opacity="0.6"/><path d="M520.3 266.2L601.5 269.4M520.3 222.4L631 269.4M520.3 233.4L631 269.4M520.3 299.1L592 257.2M520.3 288.1L616.1 225.9M520.3 288.1L601.5 269.4" stroke="#fed6a1" stroke-opacity="0.6"/><path d="M520.3 244.3L640.4 257.2M520.3 299.1L592 242.4M520.3 277.2L616.1 273.4" stroke="#b2abd2" stroke-opacity="0.6"/><path d="M520.3 233.4L601.5 269.4M520.3 222.4L631 230.2M520.3 277.2L592 257.2M520.3 255.3L640.4 242.4M520.3 200.5L631 230.2M520.3 211.5L601.5 269.4M520.3 222.4L631 269.4" stroke="#fee0b6" stroke-opacity="0.6"/><path d="M520.3 244.3L631 269.4" stroke="#4a1d79" stroke-opacity="0.6"/><path d="M520.3 211.5L640.4 242.4M520.3 277.2L631 230.2" stroke="#998fbf" stroke-opacity="0.6"/><path d="M520.3 200.5L640.4 257.2M520.3 299.1L592 257.2M520.3 222.4L616.1 225.9M520.3 222.4L601.5 269.4" stroke="#fdc278" stroke-opacity="0.6"/><path d="M520.3 288.1L631 230.2M520.3 255.3L601.5 230.2M520.3 266.2L592 242.4M520.3 266.2L631 230.2M520.3 211.5L592 257.2M520.3 244.3L601.5 230.2M520.3 299.1L601.5 230.2M520.3 299.1L592 242.4M520.3 277.2L592 257.2" stroke="#c5c2de" stroke-opacity="0.6"/></g>
<rect x="343.4" y="193.2" width="3.2" height="3.2" fill="#8fc0dc"/>
<rect x="343.4" y="205.4" width="3.2" height="3.2" fill="#8fc0dc"/>
<rect x="343.4" y="217.7" width="3.2" height="3.2" fill="#8fc0dc"/>
<rect x="343.4" y="229.9" width="3.2" height="3.2" fill="#8fc0dc"/>
<rect x="343.4" y="242.1" width="3.2" height="3.2" fill="#8fc0dc"/>
<rect x="343.4" y="254.4" width="3.2" height="3.2" fill="#8fc0dc"/>
<rect x="343.4" y="266.6" width="3.2" height="3.2" fill="#8fc0dc"/>
<rect x="343.4" y="278.8" width="3.2" height="3.2" fill="#8fc0dc"/>
<rect x="343.4" y="291.1" width="3.2" height="3.2" fill="#8fc0dc"/>
<rect x="343.4" y="303.3" width="3.2" height="3.2" fill="#8fc0dc"/>
<rect x="335" y="230.1" width="2.8" height="2.8" fill="#a9cfe4"/>
<rect x="326.4" y="230.1" width="2.8" height="2.8" fill="#a9cfe4"/>
<rect x="317.8" y="230.1" width="2.8" height="2.8" fill="#a9cfe4"/>
<rect x="335" y="254.6" width="2.8" height="2.8" fill="#a9cfe4"/>
<rect x="326.4" y="254.6" width="2.8" height="2.8" fill="#a9cfe4"/>
<rect x="317.8" y="254.6" width="2.8" height="2.8" fill="#a9cfe4"/>
<rect x="309.2" y="254.6" width="2.8" height="2.8" fill="#a9cfe4"/>
<rect x="335" y="266.6" width="2.8" height="2.8" fill="#a9cfe4"/>
<rect x="326.4" y="266.4" width="2.8" height="2.8" fill="#a9cfe4"/>
<rect x="317.8" y="266.2" width="2.8" height="2.8" fill="#a9cfe4"/>
<rect x="309.2" y="266" width="2.8" height="2.8" fill="#a9cfe4"/>
<rect x="300.6" y="265.8" width="2.8" height="2.8" fill="#a9cfe4"/>
<rect x="292" y="265.6" width="2.8" height="2.8" fill="#a9cfe4"/>
<rect x="335" y="279" width="2.8" height="2.8" fill="#a9cfe4"/>
<rect x="326.4" y="279" width="2.8" height="2.8" fill="#a9cfe4"/>
<rect x="317.8" y="279" width="2.8" height="2.8" fill="#a9cfe4"/>
<rect x="309.2" y="279" width="2.8" height="2.8" fill="#a9cfe4"/>
<rect x="335" y="291.3" width="2.8" height="2.8" fill="#a9cfe4"/>
<rect x="326.4" y="291.3" width="2.8" height="2.8" fill="#a9cfe4"/>
<rect x="317.8" y="291.3" width="2.8" height="2.8" fill="#a9cfe4"/>
<rect x="335" y="302.9" width="2.8" height="2.8" fill="#a9cfe4"/>
<rect x="326.4" y="302.2" width="2.8" height="2.8" fill="#a9cfe4"/>
<rect x="317.8" y="301.6" width="2.8" height="2.8" fill="#a9cfe4"/>
<rect x="309.2" y="300.9" width="2.8" height="2.8" fill="#a9cfe4"/>
<rect x="300.6" y="300.2" width="2.8" height="2.8" fill="#a9cfe4"/>
<rect x="292" y="299.6" width="2.8" height="2.8" fill="#a9cfe4"/>
<rect x="283.4" y="298.9" width="2.8" height="2.8" fill="#a9cfe4"/>
<rect x="274.8" y="298.3" width="2.8" height="2.8" fill="#a9cfe4"/>
<rect x="266.2" y="297.6" width="2.8" height="2.8" fill="#a9cfe4"/>
<rect x="518.7" y="198.9" width="3.2" height="3.2" fill="#8fc0dc"/>
<rect x="518.7" y="209.9" width="3.2" height="3.2" fill="#8fc0dc"/>
<rect x="518.7" y="220.8" width="3.2" height="3.2" fill="#8fc0dc"/>
<rect x="518.7" y="231.8" width="3.2" height="3.2" fill="#8fc0dc"/>
<rect x="518.7" y="242.7" width="3.2" height="3.2" fill="#8fc0dc"/>
<rect x="518.7" y="253.7" width="3.2" height="3.2" fill="#8fc0dc"/>
<rect x="518.7" y="264.6" width="3.2" height="3.2" fill="#8fc0dc"/>
<rect x="518.7" y="275.6" width="3.2" height="3.2" fill="#8fc0dc"/>
<rect x="518.7" y="286.5" width="3.2" height="3.2" fill="#8fc0dc"/>
<rect x="518.7" y="297.5" width="3.2" height="3.2" fill="#8fc0dc"/>
<rect x="509.3" y="199.3" width="2.8" height="2.8" fill="#a9cfe4"/>
<rect x="499.7" y="199.6" width="2.8" height="2.8" fill="#a9cfe4"/>
<rect x="509.3" y="210.3" width="2.8" height="2.8" fill="#a9cfe4"/>
<rect x="509.3" y="221.3" width="2.8" height="2.8" fill="#a9cfe4"/>
<rect x="499.7" y="221.5" width="2.8" height="2.8" fill="#a9cfe4"/>
<rect x="490.1" y="221.8" width="2.8" height="2.8" fill="#a9cfe4"/>
<rect x="509.3" y="232.2" width="2.8" height="2.8" fill="#a9cfe4"/>
<rect x="499.7" y="232.5" width="2.8" height="2.8" fill="#a9cfe4"/>
<rect x="509.3" y="243.2" width="2.8" height="2.8" fill="#a9cfe4"/>
<rect x="509.3" y="254.1" width="2.8" height="2.8" fill="#a9cfe4"/>
<rect x="499.7" y="254.4" width="2.8" height="2.8" fill="#a9cfe4"/>
<rect x="490.1" y="254.6" width="2.8" height="2.8" fill="#a9cfe4"/>
<rect x="480.5" y="254.9" width="2.8" height="2.8" fill="#a9cfe4"/>
<rect x="509.3" y="265.1" width="2.8" height="2.8" fill="#a9cfe4"/>
<rect x="499.7" y="265.3" width="2.8" height="2.8" fill="#a9cfe4"/>
<rect x="490.1" y="265.6" width="2.8" height="2.8" fill="#a9cfe4"/>
<rect x="480.5" y="265.8" width="2.8" height="2.8" fill="#a9cfe4"/>
<rect x="470.9" y="266.1" width="2.8" height="2.8" fill="#a9cfe4"/>
<rect x="509.3" y="276" width="2.8" height="2.8" fill="#a9cfe4"/>
<rect x="499.7" y="276.3" width="2.8" height="2.8" fill="#a9cfe4"/>
<rect x="490.1" y="276.5" width="2.8" height="2.8" fill="#a9cfe4"/>
<rect x="480.5" y="276.8" width="2.8" height="2.8" fill="#a9cfe4"/>
<rect x="470.9" y="277" width="2.8" height="2.8" fill="#a9cfe4"/>
<rect x="461.3" y="277.3" width="2.8" height="2.8" fill="#a9cfe4"/>
<rect x="451.7" y="277.5" width="2.8" height="2.8" fill="#a9cfe4"/>
<rect x="509.3" y="287" width="2.8" height="2.8" fill="#a9cfe4"/>
<rect x="499.7" y="287.2" width="2.8" height="2.8" fill="#a9cfe4"/>
<rect x="490.1" y="287.5" width="2.8" height="2.8" fill="#a9cfe4"/>
<rect x="480.5" y="287.7" width="2.8" height="2.8" fill="#a9cfe4"/>
<rect x="470.9" y="288" width="2.8" height="2.8" fill="#a9cfe4"/>
<rect x="461.3" y="288.2" width="2.8" height="2.8" fill="#a9cfe4"/>
<rect x="451.7" y="288.5" width="2.8" height="2.8" fill="#a9cfe4"/>
<rect x="442.1" y="288.7" width="2.8" height="2.8" fill="#a9cfe4"/>
<rect x="509.3" y="298" width="2.8" height="2.8" fill="#a9cfe4"/>
<rect x="499.7" y="298.2" width="2.8" height="2.8" fill="#a9cfe4"/>
<rect x="490.1" y="298.5" width="2.8" height="2.8" fill="#a9cfe4"/>
<rect x="480.5" y="298.7" width="2.8" height="2.8" fill="#a9cfe4"/>
<rect x="470.9" y="299" width="2.8" height="2.8" fill="#a9cfe4"/>
<rect x="461.3" y="299.2" width="2.8" height="2.8" fill="#a9cfe4"/>
<rect x="451.7" y="299.5" width="2.8" height="2.8" fill="#a9cfe4"/>
<rect x="614.7" y="224.5" width="2.8" height="2.8" fill="#8fc0dc"/>
<rect x="629.6" y="228.8" width="2.8" height="2.8" fill="#8fc0dc"/>
<rect x="639" y="241" width="2.8" height="2.8" fill="#8fc0dc"/>
<rect x="639" y="255.8" width="2.8" height="2.8" fill="#8fc0dc"/>
<rect x="629.6" y="268" width="2.8" height="2.8" fill="#8fc0dc"/>
<rect x="614.7" y="272" width="2.8" height="2.8" fill="#8fc0dc"/>
<rect x="600.2" y="268.1" width="2.6" height="2.6" fill="#c5dcea"/>
<rect x="590.7" y="255.9" width="2.6" height="2.6" fill="#c5dcea"/>
<rect x="590.7" y="241.1" width="2.6" height="2.6" fill="#c5dcea"/>
<rect x="600.2" y="228.9" width="2.6" height="2.6" fill="#c5dcea"/>
<polygon points="62.8,190.8 128.6,181.2 128.6,318.7 63.1,310.2" fill="#f3e6da"/>
<polygon points="62.8,190.8 128.6,181.2 128.6,185.3 62.8,194.4" fill="#000000"/>
<polygon points="62.8,195.1 128.6,186.1 128.6,190.3 62.8,198.7" fill="#000000"/>
<polygon points="62.8,199.4 128.6,191.1 128.6,195.2 62.8,203" fill="#000000"/>
<polygon points="62.8,203.6 88.8,200.6 88.8,204.4 62.8,207.2" fill="#000000"/>
<polygon points="88.8,200.6 95.7,199.8 95.7,203.7 88.8,204.4" fill="#464646"/>
<polygon points="95.7,199.8 128.6,196 128.6,200.1 95.7,203.7" fill="#000000"/>
<polygon points="62.8,207.9 82,205.9 82,209.6 62.9,211.5" fill="#000000"/>
<polygon points="82,205.9 100.5,203.9 100.5,207.8 82,209.6" fill="#696969"/>
<polygon points="100.5,203.9 128.6,200.9 128.6,205.1 100.5,207.8" fill="#000000"/>
<polygon points="62.9,212.2 82,210.4 82,214.1 62.9,215.8" fill="#000000"/>
<polygon points="82,210.4 84.2,210.1 84.3,213.9 82,214.1" fill="#969696"/>
<polygon points="84.2,210.1 98.1,208.8 98.1,212.7 84.3,213.9" fill="#000000"/>
<polygon points="98.1,208.8 100.5,208.6 100.5,212.5 98.1,212.7" fill="#969696"/>
<polygon points="100.5,208.6 128.6,205.9 128.6,210 100.5,212.5" fill="#000000"/>
<polygon points="62.9,216.5 82,214.8 82,218.6 62.9,220.1" fill="#000000"/>
<polygon points="82,214.8 84.3,214.6 84.3,218.4 82,218.6" fill="#969696"/>
<polygon points="84.3,214.6 98.1,213.4 98.1,217.3 84.3,218.4" fill="#000000"/>
<polygon points="98.1,213.4 100.5,213.2 100.5,217.1 98.1,217.3" fill="#969696"/>
<polygon points="100.5,213.2 128.6,210.8 128.6,214.9 100.5,217.1" fill="#000000"/>
<polygon points="62.9,220.8 82,219.3 82,223 62.9,224.3" fill="#000000"/>
<polygon points="82,219.3 84.3,219.1 84.3,222.9 82,223" fill="#969696"/>
<polygon points="84.3,219.1 98.1,218 98.1,221.9 84.3,222.9" fill="#000000"/>
<polygon points="98.1,218 100.5,217.9 100.5,221.8 98.1,221.9" fill="#969696"/>
<polygon points="100.5,217.9 128.6,215.7 128.6,219.8 100.5,221.8" fill="#000000"/>
<polygon points="62.9,225 82,223.7 82,227.5 62.9,228.6" fill="#000000"/>
<polygon points="82,223.7 84.3,223.6 84.3,227.4 82,227.5" fill="#969696"/>
<polygon points="84.3,223.6 98.1,222.7 98.1,226.6 84.3,227.4" fill="#000000"/>
<polygon points="98.1,222.7 100.5,222.5 100.5,226.4 98.1,226.6" fill="#969696"/>
<polygon points="100.5,222.5 128.6,220.6 128.6,224.8 100.5,226.4" fill="#000000"/>
<polygon points="62.9,229.3 64.9,229.2 65,232.8 62.9,232.9" fill="#141414"/>
<polygon points="64.9,229.2 82,228.2 82.1,232 65,232.8" fill="#505050"/>
<polygon points="82,228.2 84.3,228.1 84.3,231.8 82.1,232" fill="#8c8c8c"/>
<polygon points="84.3,228.1 98.1,227.3 98.2,231.2 84.3,231.8" fill="#2d2d2d"/>
<polygon points="98.1,227.3 100.5,227.2 100.5,231.1 98.2,231.2" fill="#828282"/>
<polygon points="100.5,227.2 103,227 103,230.9 100.5,231.1" fill="#323232"/>
<polygon points="103,227 105.4,226.9 105.4,230.8 103,230.9" fill="#aaaaaa"/>
<polygon points="105.4,226.9 107.9,226.7 107.9,230.7 105.4,230.8" fill="#ebebeb"/>
<polygon points="107.9,226.7 118,226.2 118,230.2 107.9,230.7" fill="#787878"/>
<polygon points="118,226.2 128.6,225.6 128.6,229.7 118,230.2" fill="#000000"/>
<polygon points="62.9,233.6 65,233.5 65,237.1 62.9,237.2" fill="#3c3c3c"/>
<polygon points="65,233.5 69.1,233.3 69.1,236.9 65,237.1" fill="#cbcbcb"/>
<polygon points="69.1,233.3 71.2,233.2 71.2,236.8 69.1,236.9" fill="#c5c5c5"/>
<polygon points="71.2,233.2 77.7,232.9 77.7,236.6 71.2,236.8" fill="#bfbfbf"/>
<polygon points="77.7,232.9 82.1,232.7 82.1,236.4 77.7,236.6" fill="#c8c8c8"/>
<polygon points="82.1,232.7 84.3,232.6 84.3,236.3 82.1,236.4" fill="#969696"/>
<polygon points="84.3,232.6 88.8,232.3 88.8,236.1 84.3,236.3" fill="#c4c4c4"/>
<polygon points="88.8,232.3 93.4,232.1 93.4,236 88.8,236.1" fill="#bebebe"/>
<polygon points="93.4,232.1 98.2,231.9 98.2,235.8 93.4,236" fill="#c8c8c8"/>
<polygon points="98.2,231.9 100.5,231.8 100.6,235.7 98.2,235.8" fill="#a0a0a0"/>
<polygon points="100.5,231.8 105.4,231.6 105.4,235.5 100.6,235.7" fill="#c4c4c4"/>
<polygon points="105.4,231.6 110.4,231.3 110.4,235.3 105.4,235.5" fill="#bebebe"/>
<polygon points="110.4,231.3 118,231 118,235 110.4,235.3" fill="#c8c8c8"/>
<polygon points="118,231 120.6,230.8 120.6,234.9 118,235" fill="#afafaf"/>
<polygon points="120.6,230.8 128.6,230.5 128.6,234.6 120.6,234.9" fill="#000000"/>
<polygon points="62.9,237.8 65,237.8 65,241.4 62.9,241.4" fill="#3c3c3c"/>
<polygon points="65,237.8 67,237.7 67,241.3 65,241.4" fill="#c8c8c8"/>
<polygon points="67,237.7 75.5,237.4 75.5,241.1 67,241.3" fill="#c2c2c2"/>
<polygon points="75.5,237.4 82.1,237.1 82.1,240.9 75.5,241.1" fill="#cacaca"/>
<polygon points="82.1,237.1 91.1,236.8 91.1,240.6 82.1,240.9" fill="#c2c2c2"/>
<polygon points="91.1,236.8 98.2,236.5 98.2,240.4 91.1,240.6" fill="#cacaca"/>
<polygon points="98.2,236.5 107.9,236.2 107.9,240.1 98.2,240.4" fill="#c2c2c2"/>
<polygon points="107.9,236.2 115.4,235.9 115.5,239.9 107.9,240.1" fill="#cacaca"/>
<polygon points="115.4,235.9 118,235.8 118,239.8 115.5,239.9" fill="#c2c2c2"/>
<polygon points="118,235.8 120.6,235.7 120.6,239.8 118,239.8" fill="#afafaf"/>
<polygon points="120.6,235.7 128.6,235.4 128.6,239.5 120.6,239.8" fill="#000000"/>
<polygon points="62.9,242.1 65,242 65,245.6 62.9,245.7" fill="#3c3c3c"/>
<polygon points="65,242 71.2,241.9 71.2,245.5 65,245.6" fill="#c0c0c0"/>
<polygon points="71.2,241.9 79.9,241.6 79.9,245.4 71.2,245.5" fill="#c7c7c7"/>
<polygon points="79.9,241.6 86.6,241.5 86.6,245.2 79.9,245.4" fill="#bfbfbf"/>
<polygon points="86.6,241.5 95.8,241.2 95.8,245.1 86.6,245.2" fill="#c7c7c7"/>
<polygon points="95.8,241.2 103,241 103,244.9 95.8,245.1" fill="#bfbfbf"/>
<polygon points="103,241 112.9,240.7 112.9,244.7 103,244.9" fill="#c7c7c7"/>
<polygon points="112.9,240.7 118,240.6 118,244.6 112.9,244.7" fill="#bfbfbf"/>
<polygon points="118,240.6 120.6,240.5 120.6,244.6 118,244.6" fill="#afafaf"/>
<polygon points="120.6,240.5 128.6,240.3 128.6,244.4 120.6,244.6" fill="#000000"/>
<polygon points="62.9,246.4 65,246.3 65,249.9 62.9,250" fill="#3c3c3c"/>
<polygon points="65,246.3 69.1,246.3 69.1,249.9 65,249.9" fill="#bebebe"/>
<polygon points="69.1,246.3 75.5,246.2 75.5,249.8 69.1,249.9" fill="#c9c9c9"/>
<polygon points="75.5,246.2 84.3,246 84.3,249.8 75.5,249.8" fill="#c2c2c2"/>
<polygon points="84.3,246 91.1,245.9 91.1,249.7 84.3,249.8" fill="#c9c9c9"/>
<polygon points="91.1,245.9 100.6,245.7 100.6,249.6 91.1,249.7" fill="#c2c2c2"/>
<polygon points="100.6,245.7 107.9,245.6 107.9,249.5 100.6,249.6" fill="#c9c9c9"/>
<polygon points="107.9,245.6 118,245.4 118,249.4 107.9,249.5" fill="#c2c2c2"/>
<polygon points="118,245.4 120.6,245.4 120.6,249.4 118,249.4" fill="#afafaf"/>
<polygon points="120.6,245.4 128.6,245.2 128.6,249.3 120.6,249.4" fill="#000000"/>
<polygon points="63,250.6 65,250.6 65,254.2 63,254.2" fill="#3c3c3c"/>
<polygon points="65,250.6 73.4,250.6 73.4,254.2 65,254.2" fill="#c6c6c6"/>
<polygon points="73.4,250.6 79.9,250.5 79.9,254.2 73.4,254.2" fill="#c0c0c0"/>
<polygon points="79.9,250.5 88.8,250.4 88.8,254.2 79.9,254.2" fill="#c6c6c6"/>
<polygon points="88.8,250.4 95.8,250.4 95.8,254.2 88.8,254.2" fill="#c0c0c0"/>
<polygon points="95.8,250.4 105.4,250.3 105.4,254.2 95.8,254.2" fill="#c6c6c6"/>
<polygon points="105.4,250.3 112.9,250.3 112.9,254.2 105.4,254.2" fill="#c0c0c0"/>
<polygon points="112.9,250.3 120.6,250.2 120.6,254.3 112.9,254.2" fill="#dedede"/>
<polygon points="120.6,250.2 123.3,250.2 123.3,254.3 120.6,254.3" fill="#8c8c8c"/>
<polygon points="123.3,250.2 128.6,250.1 128.6,254.3 123.3,254.3" fill="#000000"/>
<polygon points="63,254.9 65,254.9 65,258.5 63,258.5" fill="#3c3c3c"/>
<polygon points="65,254.9 69.2,254.9 69.2,258.5 65,258.5" fill="#cbcbcb"/>
<polygon points="69.2,254.9 77.7,254.9 77.7,258.6 69.2,258.5" fill="#c3c3c3"/>
<polygon points="77.7,254.9 84.3,254.9 84.3,258.7 77.7,258.6" fill="#c9c9c9"/>
<polygon points="84.3,254.9 93.5,255 93.5,258.8 84.3,258.7" fill="#c3c3c3"/>
<polygon points="93.5,255 100.6,255 100.6,258.9 93.5,258.8" fill="#c9c9c9"/>
<polygon points="100.6,255 110.4,255 110.4,259 100.6,258.9" fill="#c3c3c3"/>
<polygon points="110.4,255 112.9,255 112.9,259 110.4,259" fill="#c9c9c9"/>
<polygon points="112.9,255 120.6,255 120.6,259.1 112.9,259" fill="#dedede"/>
<polygon points="120.6,255 123.3,255 123.3,259.1 120.6,259.1" fill="#8c8c8c"/>
<polygon points="123.3,255 128.6,255 128.6,259.2 123.3,259.1" fill="#000000"/>
<polygon points="63,259.2 65,259.2 65,262.8 63,262.7" fill="#3c3c3c"/>
<polygon points="65,259.2 67.1,259.2 67.1,262.8 65,262.8" fill="#c7c7c7"/>
<polygon points="67.1,259.2 73.4,259.3 73.4,263 67.1,262.8" fill="#c0c0c0"/>
<polygon points="73.4,259.3 82.1,259.4 82.1,263.1 73.4,263" fill="#c6c6c6"/>
<polygon points="82.1,259.4 88.9,259.5 88.9,263.3 82.1,263.1" fill="#c0c0c0"/>
<polygon points="88.9,259.5 98.2,259.6 98.2,263.5 88.9,263.3" fill="#c6c6c6"/>
<polygon points="98.2,259.6 105.4,259.7 105.4,263.6 98.2,263.5" fill="#c0c0c0"/>
<polygon points="105.4,259.7 112.9,259.8 112.9,263.8 105.4,263.6" fill="#c6c6c6"/>
<polygon points="112.9,259.8 120.6,259.9 120.6,263.9 112.9,263.8" fill="#dedede"/>
<polygon points="120.6,259.9 123.3,259.9 123.3,264 120.6,263.9" fill="#8c8c8c"/>
<polygon points="123.3,259.9 128.6,259.9 128.6,264.1 123.3,264" fill="#000000"/>
<polygon points="63,263.4 65,263.5 65,267.1 63,267" fill="#3c3c3c"/>
<polygon points="65,263.5 71.3,263.6 71.3,267.3 65,267.1" fill="#bfbfbf"/>
<polygon points="71.3,263.6 79.9,263.8 79.9,267.5 71.3,267.3" fill="#c8c8c8"/>
<polygon points="79.9,263.8 86.6,263.9 86.6,267.7 79.9,267.5" fill="#bfbfbf"/>
<polygon points="86.6,263.9 95.8,264.1 95.8,268 86.6,267.7" fill="#c8c8c8"/>
<polygon points="95.8,264.1 103,264.3 103,268.2 95.8,268" fill="#bebebe"/>
<polygon points="103,264.3 112.9,264.5 112.9,268.5 103,268.2" fill="#c8c8c8"/>
<polygon points="112.9,264.5 120.6,264.7 120.6,268.7 112.9,268.5" fill="#dedede"/>
<polygon points="120.6,264.7 123.3,264.7 123.3,268.8 120.6,268.7" fill="#8c8c8c"/>
<polygon points="123.3,264.7 128.6,264.9 128.6,269 123.3,268.8" fill="#000000"/>
<polygon points="63,267.7 65,267.7 65,271.3 63,271.3" fill="#3c3c3c"/>
<polygon points="65,267.7 67.1,267.8 67.1,271.4 65,271.3" fill="#bfbfbf"/>
<polygon points="67.1,267.8 71.3,267.9 71.3,271.6 67.1,271.4" fill="#c5c5c5"/>
<polygon points="71.3,267.9 75.6,268.1 75.6,271.8 71.3,271.6" fill="#cbcbcb"/>
<polygon points="75.6,268.1 84.3,268.4 84.4,272.1 75.6,271.8" fill="#c1c1c1"/>
<polygon points="84.3,268.4 91.2,268.6 91.2,272.4 84.4,272.1" fill="#cacaca"/>
<polygon points="91.2,268.6 100.6,268.9 100.6,272.8 91.2,272.4" fill="#c1c1c1"/>
<polygon points="100.6,268.9 107.9,269.1 107.9,273.1 100.6,272.8" fill="#cacaca"/>
<polygon points="107.9,269.1 115.5,269.3 115.5,273.4 107.9,273.1" fill="#c1c1c1"/>
<polygon points="115.5,269.3 118,269.4 118,273.5 115.5,273.4" fill="#969696"/>
<polygon points="118,269.4 120.6,269.5 120.6,273.6 118,273.5" fill="#191919"/>
<polygon points="120.6,269.5 128.6,269.8 128.6,273.9 120.6,273.6" fill="#000000"/>
<polygon points="63,271.9 65,272 65.1,275.6 63,275.5" fill="#3c3c3c"/>
<polygon points="65,272 73.4,272.4 73.4,276 65.1,275.6" fill="#c8c8c8"/>
<polygon points="73.4,272.4 79.9,272.6 79.9,276.4 73.4,276" fill="#bfbfbf"/>
<polygon points="79.9,272.6 88.9,273 88.9,276.8 79.9,276.4" fill="#c8c8c8"/>
<polygon points="88.9,273 95.8,273.3 95.8,277.1 88.9,276.8" fill="#bfbfbf"/>
<polygon points="95.8,273.3 105.4,273.7 105.5,277.6 95.8,277.1" fill="#c8c8c8"/>
<polygon points="105.4,273.7 112.9,274 112.9,278 105.5,277.6" fill="#bfbfbf"/>
<polygon points="112.9,274 115.5,274.1 115.5,278.1 112.9,278" fill="#c8c8c8"/>
<polygon points="115.5,274.1 118,274.2 118,278.3 115.5,278.1" fill="#969696"/>
<polygon points="118,274.2 120.6,274.3 120.6,278.4 118,278.3" fill="#191919"/>
<polygon points="120.6,274.3 128.6,274.7 128.6,278.8 120.6,278.4" fill="#000000"/>
<polygon points="63,276.2 65.1,276.3 65.1,279.9 63,279.8" fill="#3c3c3c"/>
<polygon points="65.1,276.3 69.2,276.5 69.2,280.1 65.1,279.9" fill="#cbcbcb"/>
<polygon points="69.2,276.5 77.7,277 77.7,280.6 69.2,280.1" fill="#c2c2c2"/>
<polygon points="77.7,277 84.4,277.3 84.4,281 77.7,280.6" fill="#cacaca"/>
<polygon points="84.4,277.3 93.5,277.8 93.5,281.6 84.4,281" fill="#c2c2c2"/>
<polygon points="93.5,277.8 100.6,278.1 100.6,282 93.5,281.6" fill="#cacaca"/>
<polygon points="100.6,278.1 110.4,278.6 110.4,282.6 100.6,282" fill="#c1c1c1"/>
<polygon points="110.4,278.6 115.5,278.9 115.5,282.9 110.4,282.6" fill="#cacaca"/>
<polygon points="115.5,278.9 118,279 118,283 115.5,282.9" fill="#969696"/>
<polygon points="118,279 120.6,279.2 120.6,283.2 118,283" fill="#191919"/>
<polygon points="120.6,279.2 128.6,279.6 128.6,283.7 120.6,283.2" fill="#000000"/>
<polygon points="63,280.5 65.1,280.6 65.1,284.2 63,284" fill="#3c3c3c"/>
<polygon points="65.1,280.6 69.2,280.8 69.2,284.5 65.1,284.2" fill="#afafaf"/>
<polygon points="69.2,280.8 71.3,281 71.3,284.6 69.2,284.5" fill="#505050"/>
<polygon points="71.3,281 73.4,281.1 73.4,284.7 71.3,284.6" fill="#c1c1c1"/>
<polygon points="73.4,281.1 82.1,281.6 82.1,285.4 73.4,284.7" fill="#c7c7c7"/>
<polygon points="82.1,281.6 88.9,282 88.9,285.8 82.1,285.4" fill="#bfbfbf"/>
<polygon points="88.9,282 98.2,282.6 98.2,286.5 88.9,285.8" fill="#c7c7c7"/>
<polygon points="98.2,282.6 105.5,283 105.5,287 98.2,286.5" fill="#bfbfbf"/>
<polygon points="105.5,283 115.5,283.7 115.5,287.7 105.5,287" fill="#c7c7c7"/>
<polygon points="115.5,283.7 118,283.8 118,287.8 115.5,287.7" fill="#969696"/>
<polygon points="118,283.8 120.6,284 120.6,288 118,287.8" fill="#191919"/>
<polygon points="120.6,284 128.6,284.5 128.6,288.6 120.6,288" fill="#000000"/>
<polygon points="63,284.7 65.1,284.9 65.1,288.4 63,288.3" fill="#3c3c3c"/>
<polygon points="65.1,284.9 69.2,285.1 69.2,288.8 65.1,288.4" fill="#afafaf"/>
<polygon points="69.2,285.1 71.3,285.3 71.3,288.9 69.2,288.8" fill="#505050"/>
<polygon points="71.3,285.3 77.8,285.8 77.8,289.4 71.3,288.9" fill="#c9c9c9"/>
<polygon points="77.8,285.8 86.6,286.4 86.6,290.1 77.8,289.4" fill="#c2c2c2"/>
<polygon points="86.6,286.4 93.5,286.9 93.5,290.7 86.6,290.1" fill="#cacaca"/>
<polygon points="93.5,286.9 103,287.5 103,291.4 93.5,290.7" fill="#c2c2c2"/>
<polygon points="103,287.5 110.4,288.1 110.4,292 103,291.4" fill="#cacaca"/>
<polygon points="110.4,288.1 115.5,288.4 115.5,292.4 110.4,292" fill="#c2c2c2"/>
<polygon points="115.5,288.4 118,288.6 118,292.6 115.5,292.4" fill="#969696"/>
<polygon points="118,288.6 120.6,288.8 120.6,292.8 118,292.6" fill="#191919"/>
<polygon points="120.6,288.8 128.6,289.4 128.6,293.5 120.6,292.8" fill="#000000"/>
<polygon points="63,289 65.1,289.1 65.1,292.7 63.1,292.5" fill="#282828"/>
<polygon points="65.1,289.1 69.2,289.5 69.2,293.1 65.1,292.7" fill="#a0a0a0"/>
<polygon points="69.2,289.5 115.5,293.2 115.5,297.2 69.2,293.1" fill="#e8e8e8"/>
<polygon points="115.5,293.2 118,293.4 118,297.4 115.5,297.2" fill="#bebebe"/>
<polygon points="118,293.4 128.6,294.3 128.6,298.4 118,297.4" fill="#000000"/>
<polygon points="63.1,293.2 65.1,293.4 65.1,297 63.1,296.8" fill="#0f0f0f"/>
<polygon points="65.1,293.4 73.5,294.2 73.5,297.8 65.1,297" fill="#505050"/>
<polygon points="73.5,294.2 82.2,294.9 82.2,298.7 73.5,297.8" fill="#565656"/>
<polygon points="82.2,294.9 91.2,295.8 91.2,299.6 82.2,298.7" fill="#5c5c5c"/>
<polygon points="91.2,295.8 100.6,296.6 100.6,300.5 91.2,299.6" fill="#636363"/>
<polygon points="100.6,296.6 110.4,297.5 110.4,301.5 100.6,300.5" fill="#696969"/>
<polygon points="110.4,297.5 118,298.2 118,302.2 110.4,301.5" fill="#6f6f6f"/>
<polygon points="118,298.2 128.6,299.1 128.6,303.3 118,302.2" fill="#000000"/>
<polygon points="63.1,297.5 128.6,304 128.6,308.1 63.1,301" fill="#000000"/>
<polygon points="63.1,301.7 128.6,308.9 128.6,313 63.1,305.3" fill="#000000"/>
<polygon points="63.1,306 128.6,313.8 128.6,317.9 63.1,309.5" fill="#000000"/>
<path d="M64.8 190.5L65.1 310.5M66.9 190.2L67.2 310.7M69 189.9L69.3 311M71.1 189.6L71.4 311.3M73.2 189.3L73.5 311.6M75.4 189L75.6 311.8M77.6 188.6L77.8 312.1M79.8 188.3L80 312.4M82 188L82.2 312.7M84.2 187.7L84.4 313M86.5 187.3L86.7 313.3M88.7 187L88.9 313.6M91.1 186.7L91.2 313.9M93.4 186.3L93.5 314.2M95.7 186L95.9 314.5M98.1 185.6L98.3 314.8M100.5 185.3L100.6 315.1M102.9 184.9L103.1 315.4M105.4 184.6L105.5 315.7M107.8 184.2L107.9 316M110.3 183.9L110.4 316.3M112.9 183.5L112.9 316.7M115.4 183.1L115.5 317M118 182.7L118.1 317.3M120.6 182.4L120.7 317.7M123.2 182L123.3 318M125.9 181.6L125.9 318.4" stroke="#f3e6da" stroke-opacity="0.3" stroke-width="0.45"/>
<line x1="135" y1="192.2" x2="339.7" y2="192.2" stroke="#111" stroke-width="1.1" stroke-dasharray="1.1,1.1"/><path d="M130 192.2L136 189.9L134.5 192.2L136 194.5Z" fill="#000"/><path d="M344.7 192.2L338.7 189.9L340.2 192.2L338.7 194.5Z" fill="#000"/>
<text x="228" y="185.8" font-size="13.5" font-style="italic">t</text><text x="234.2" y="181" font-size="9.5">rs</text><text x="234" y="189.1" font-size="9.5">1</text>
<line x1="352.6" y1="195" x2="514.8" y2="195" stroke="#111" stroke-width="1.1" stroke-dasharray="1.1,1.1"/><path d="M347.6 195L353.6 192.7L352.1 195L353.6 197.3Z" fill="#000"/><path d="M519.8 195L513.8 192.7L515.3 195L513.8 197.3Z" fill="#000"/>
<text x="429" y="190.4" font-size="13.5" font-style="italic">t</text><text x="435.2" y="185.6" font-size="9.5">rs</text><text x="435" y="193.7" font-size="9.5">2</text>
<line x1="529.3" y1="201.9" x2="636.8" y2="201.9" stroke="#111" stroke-width="1.1" stroke-dasharray="1.1,1.1"/><path d="M524.3 201.9L530.3 199.6L528.8 201.9L530.3 204.2Z" fill="#000"/><path d="M641.8 201.9L635.8 199.6L637.3 201.9L635.8 204.2Z" fill="#000"/>
<text x="579.2" y="197.8" font-size="13.5" font-style="italic">t</text><text x="585.4" y="193" font-size="9.5">rs</text><text x="585.2" y="201.1" font-size="9.5">3</text>
<text x="139.6" y="365.5" font-family="Liberation Sans, sans-serif" font-weight="bold" font-size="16">c</text>
<text x="356.3" y="346" font-size="16" text-anchor="middle">Local sparse ONN</text>
<g stroke-width="0.4" fill="none"><path d="M212.9 410.7L293.8 468.2M212.9 397.5L305.8 430.4M212.9 365.9L312.1 417.1M212.9 426.5L299.7 404.9M212.9 458.1L305.8 482.1M212.9 381.7L299.7 443.2M212.9 471.2L312.1 417.1M212.9 418.6L299.7 417.7M212.9 371.2L312.1 482.8M212.9 437L312.1 404M212.9 494.9L293.8 455.6M212.9 402.8L299.7 455.9M212.9 400.1L305.8 430.4M212.9 452.8L288 430.6M212.9 431.7L299.7 430.4M212.9 358L312.1 482.8M212.9 468.6L312.1 482.8M212.9 394.9L305.8 469.2M212.9 468.6L299.7 455.9M212.9 481.8L293.8 455.6M212.9 463.3L299.7 455.9M212.9 466L312.1 417.1M212.9 429.1L305.8 456.2M212.9 423.8L305.8 404.5M212.9 413.3L305.8 404.5M212.9 484.4L305.8 482.1M212.9 458.1L305.8 417.4M212.9 421.2L299.7 468.7M212.9 400.1L312.1 443.4M212.9 463.3L299.7 430.4" stroke="#d8daeb" stroke-opacity="0.2"/><path d="M212.9 423.8L288 442.9M212.9 381.7L299.7 481.4M212.9 497.6L299.7 417.7M212.9 466L288 430.6M212.9 460.7L288 480.1M212.9 400.1L312.1 482.8M212.9 473.9L299.7 430.4M212.9 500.2L312.1 404M212.9 481.8L305.8 456.2M212.9 476.5L305.8 443.3M212.9 500.2L293.8 417.9M212.9 368.5L312.1 469.7M212.9 502.8L299.7 468.7" stroke="#f6aa4f" stroke-opacity="0.2"/><path d="M212.9 502.8L299.7 430.4M212.9 500.2L299.7 481.4M212.9 439.6L288 442.9M212.9 489.7L293.8 468.2M212.9 494.9L299.7 455.9M212.9 387L293.8 455.6M212.9 455.4L312.1 456.6M212.9 434.4L293.8 468.2M212.9 410.7L305.8 417.4M212.9 376.4L293.8 468.2M212.9 510.7L288 467.7M212.9 466L299.7 430.4M212.9 437L299.7 430.4M212.9 418.6L288 418.2M212.9 387L288 467.7M212.9 400.1L299.7 468.7M212.9 500.2L288 405.8M212.9 368.5L299.7 430.4M212.9 365.9L312.1 417.1M212.9 450.2L299.7 481.4M212.9 502.8L299.7 468.7M212.9 431.7L288 442.9M212.9 408L299.7 481.4M212.9 413.3L288 480.1M212.9 423.8L312.1 443.4M212.9 368.5L299.7 430.4M212.9 516L293.8 417.9M212.9 502.8L305.8 482.1M212.9 376.4L288 430.6M212.9 373.8L293.8 468.2M212.9 452.8L312.1 404M212.9 365.9L293.8 455.6M212.9 379.1L288 467.7M212.9 455.4L312.1 404M212.9 516L293.8 417.9M212.9 368.5L299.7 443.2M212.9 426.5L288 430.6M212.9 358L293.8 455.6M212.9 384.3L312.1 469.7M212.9 379.1L312.1 430.3M212.9 513.4L312.1 404M212.9 434.4L288 455.3M212.9 384.3L305.8 443.3M212.9 439.6L293.8 468.2M212.9 379.1L293.8 417.9M212.9 473.9L293.8 443.1M212.9 434.4L288 405.8M212.9 365.9L288 455.3M212.9 394.9L299.7 455.9M212.9 387L288 480.1M212.9 402.8L288 455.3M212.9 358L293.8 417.9M212.9 365.9L288 442.9M212.9 418.6L288 442.9M212.9 502.8L288 405.8M212.9 434.4L305.8 417.4M212.9 505.5L305.8 430.4M212.9 434.4L293.8 443.1" stroke="#c5c2de" stroke-opacity="0.2"/><path d="M212.9 492.3L293.8 405.4M212.9 510.7L299.7 417.7M212.9 381.7L299.7 404.9M212.9 492.3L305.8 482.1M212.9 426.5L288 418.2M212.9 379.1L293.8 480.8M212.9 473.9L312.1 430.3M212.9 508.1L299.7 455.9" stroke="#ee9d3c" stroke-opacity="0.2"/><path d="M212.9 371.2L305.8 443.3" stroke="#ca6d0d" stroke-opacity="0.2"/><path d="M212.9 363.3L299.7 417.7M212.9 421.2L288 467.7M212.9 516L305.8 404.5M212.9 415.9L299.7 430.4M212.9 481.8L299.7 417.7M212.9 397.5L312.1 456.6M212.9 413.3L293.8 455.6M212.9 494.9L299.7 468.7M212.9 363.3L293.8 430.5M212.9 497.6L288 405.8M212.9 363.3L312.1 443.4M212.9 450.2L288 442.9M212.9 410.7L299.7 481.4M212.9 384.3L312.1 417.1M212.9 429.1L299.7 468.7M212.9 418.6L293.8 417.9M212.9 444.9L305.8 430.4M212.9 381.7L312.1 417.1M212.9 444.9L312.1 430.3M212.9 439.6L312.1 404M212.9 444.9L305.8 456.2M212.9 476.5L305.8 430.4M212.9 397.5L288 405.8M212.9 508.1L312.1 456.6M212.9 471.2L293.8 443.1M212.9 384.3L293.8 405.4M212.9 497.6L293.8 455.6M212.9 360.6L293.8 443.1M212.9 410.7L299.7 404.9M212.9 387L312.1 443.4M212.9 379.1L293.8 443.1M212.9 431.7L293.8 430.5M212.9 434.4L299.7 455.9M212.9 455.4L299.7 404.9M212.9 439.6L288 430.6M212.9 516L288 442.9M212.9 371.2L288 480.1M212.9 460.7L312.1 456.6M212.9 497.6L305.8 417.4M212.9 463.3L299.7 430.4M212.9 516L305.8 404.5M212.9 431.7L312.1 430.3M212.9 492.3L299.7 430.4M212.9 481.8L288 405.8M212.9 363.3L305.8 404.5M212.9 397.5L305.8 430.4M212.9 510.7L288 430.6M212.9 466L299.7 455.9M212.9 452.8L288 418.2M212.9 431.7L305.8 417.4M212.9 516L288 467.7M212.9 405.4L312.1 430.3M212.9 442.3L293.8 468.2M212.9 487L305.8 443.3" stroke="#fed6a1" stroke-opacity="0.2"/><path d="M212.9 450.2L299.7 468.7M212.9 389.6L288 467.7M212.9 365.9L293.8 468.2M212.9 452.8L305.8 404.5M212.9 458.1L312.1 404M212.9 489.7L312.1 430.3M212.9 458.1L305.8 456.2M212.9 365.9L288 442.9M212.9 471.2L299.7 481.4M212.9 494.9L288 455.3M212.9 371.2L288 442.9M212.9 444.9L293.8 455.6M212.9 442.3L312.1 404M212.9 426.5L288 442.9M212.9 429.1L305.8 443.3M212.9 373.8L293.8 480.8M212.9 376.4L293.8 430.5M212.9 468.6L288 418.2M212.9 421.2L305.8 482.1M212.9 365.9L293.8 443.1M212.9 410.7L293.8 417.9M212.9 413.3L293.8 480.8" stroke="#b2abd2" stroke-opacity="0.2"/><path d="M212.9 368.5L299.7 430.4M212.9 402.8L305.8 404.5M212.9 397.5L305.8 482.1M212.9 381.7L312.1 469.7M212.9 434.4L305.8 456.2M212.9 408L305.8 443.3M212.9 444.9L288 430.6M212.9 413.3L288 430.6M212.9 468.6L288 405.8M212.9 447.5L312.1 443.4M212.9 487L312.1 482.8M212.9 434.4L312.1 404M212.9 455.4L293.8 430.5M212.9 444.9L312.1 417.1M212.9 387L299.7 481.4M212.9 473.9L305.8 430.4M212.9 442.3L288 430.6M212.9 484.4L288 418.2M212.9 394.9L312.1 430.3M212.9 516L288 430.6M212.9 513.4L299.7 430.4M212.9 415.9L299.7 417.7M212.9 379.1L305.8 482.1M212.9 437L293.8 468.2M212.9 444.9L312.1 430.3M212.9 423.8L288 467.7M212.9 394.9L312.1 469.7M212.9 489.7L312.1 430.3M212.9 371.2L293.8 468.2M212.9 371.2L299.7 468.7M212.9 408L299.7 417.7M212.9 426.5L312.1 482.8M212.9 484.4L305.8 456.2M212.9 497.6L305.8 482.1M212.9 363.3L312.1 417.1M212.9 394.9L288 430.6M212.9 400.1L312.1 404M212.9 437L299.7 481.4M212.9 360.6L305.8 417.4M212.9 513.4L293.8 405.4M212.9 513.4L312.1 469.7M212.9 376.4L288 480.1M212.9 431.7L288 430.6" stroke="#cecee5" stroke-opacity="0.2"/><path d="M212.9 365.9L312.1 404" stroke="#e08214" stroke-opacity="0.2"/><path d="M212.9 376.4L293.8 480.8M212.9 363.3L288 418.2M212.9 387L299.7 455.9" stroke="#8073ac" stroke-opacity="0.2"/><path d="M212.9 423.8L299.7 455.9M212.9 431.7L293.8 417.9M212.9 381.7L312.1 456.6M212.9 363.3L293.8 443.1" stroke="#e79028" stroke-opacity="0.2"/><path d="M212.9 473.9L312.1 404" stroke="#d57811" stroke-opacity="0.2"/><path d="M212.9 431.7L293.8 443.1M212.9 450.2L312.1 482.8M212.9 387L312.1 443.4M212.9 510.7L293.8 443.1M212.9 360.6L299.7 455.9M212.9 413.3L299.7 468.7M212.9 468.6L288 442.9M212.9 463.3L299.7 417.7M212.9 450.2L293.8 405.4M212.9 418.6L299.7 455.9M212.9 508.1L288 455.3M212.9 481.8L299.7 404.9M212.9 392.2L293.8 417.9M212.9 437L293.8 468.2M212.9 400.1L312.1 443.4M212.9 400.1L305.8 430.4M212.9 363.3L305.8 482.1M212.9 392.2L305.8 443.3M212.9 429.1L299.7 481.4M212.9 476.5L288 442.9M212.9 489.7L305.8 417.4M212.9 400.1L299.7 468.7M212.9 413.3L288 467.7M212.9 371.2L305.8 417.4M212.9 431.7L299.7 455.9M212.9 387L293.8 443.1M212.9 442.3L312.1 404M212.9 418.6L293.8 405.4M212.9 460.7L299.7 417.7M212.9 405.4L288 480.1M212.9 418.6L293.8 405.4M212.9 363.3L299.7 417.7M212.9 444.9L312.1 443.4M212.9 392.2L288 442.9M212.9 450.2L305.8 417.4M212.9 429.1L305.8 469.2M212.9 387L312.1 456.6M212.9 502.8L305.8 430.4M212.9 513.4L305.8 456.2" stroke="#fdc278" stroke-opacity="0.2"/><path d="M212.9 479.1L312.1 469.7M212.9 481.8L299.7 404.9M212.9 473.9L305.8 417.4M212.9 439.6L293.8 480.8M212.9 410.7L299.7 443.2M212.9 484.4L312.1 417.1M212.9 389.6L312.1 417.1M212.9 384.3L305.8 482.1M212.9 421.2L299.7 481.4M212.9 418.6L299.7 417.7M212.9 400.1L299.7 455.9M212.9 492.3L312.1 430.3M212.9 508.1L312.1 417.1M212.9 358L293.8 480.8M212.9 413.3L305.8 482.1M212.9 358L288 455.3M212.9 494.9L305.8 482.1M212.9 487L305.8 443.3M212.9 502.8L288 418.2M212.9 360.6L305.8 430.4M212.9 455.4L299.7 404.9M212.9 513.4L305.8 417.4M212.9 510.7L312.1 430.3M212.9 516L288 405.8M212.9 489.7L312.1 443.4" stroke="#fee0b6" stroke-opacity="0.2"/><path d="M212.9 384.3L305.8 417.4M212.9 447.5L288 418.2M212.9 400.1L288 405.8M212.9 360.6L312.1 430.3M212.9 389.6L293.8 405.4M212.9 502.8L312.1 456.6M212.9 421.2L288 455.3M212.9 489.7L288 455.3M212.9 513.4L293.8 443.1M212.9 508.1L312.1 456.6M212.9 463.3L299.7 455.9M212.9 505.5L305.8 469.2M212.9 460.7L305.8 456.2M212.9 455.4L288 418.2M212.9 363.3L305.8 456.2M212.9 400.1L312.1 482.8M212.9 363.3L312.1 430.3M212.9 484.4L293.8 455.6M212.9 516L312.1 469.7M212.9 394.9L305.8 469.2" stroke="#fdb863" stroke-opacity="0.2"/><path d="M212.9 473.9L305.8 456.2M212.9 423.8L299.7 455.9M212.9 434.4L312.1 469.7M212.9 471.2L305.8 482.1M212.9 505.5L288 442.9M212.9 497.6L293.8 480.8M212.9 405.4L293.8 455.6M212.9 487L299.7 481.4M212.9 405.4L299.7 443.2M212.9 502.8L312.1 443.4M212.9 426.5L288 418.2M212.9 429.1L293.8 443.1M212.9 471.2L288 430.6" stroke="#a69dc8" stroke-opacity="0.2"/><path d="M212.9 405.4L299.7 481.4M212.9 479.1L305.8 469.2M212.9 466L293.8 405.4M212.9 450.2L288 480.1M212.9 434.4L288 467.7M212.9 402.8L305.8 469.2M212.9 392.2L293.8 468.2M212.9 381.7L288 455.3M212.9 363.3L312.1 404M212.9 373.8L305.8 430.4M212.9 484.4L305.8 482.1M212.9 371.2L293.8 417.9M212.9 508.1L312.1 430.3M212.9 452.8L299.7 468.7M212.9 394.9L305.8 430.4M212.9 373.8L299.7 455.9M212.9 376.4L293.8 443.1M212.9 492.3L305.8 469.2M212.9 387L299.7 417.7M212.9 471.2L299.7 443.2M212.9 481.8L299.7 404.9M212.9 447.5L293.8 480.8M212.9 426.5L299.7 468.7M212.9 476.5L293.8 417.9M212.9 394.9L288 442.9M212.9 376.4L293.8 405.4M212.9 402.8L293.8 417.9M212.9 476.5L312.1 456.6M212.9 413.3L305.8 456.2M212.9 371.2L299.7 417.7M212.9 379.1L299.7 481.4M212.9 358L312.1 443.4M212.9 473.9L312.1 443.4M212.9 516L299.7 455.9M212.9 394.9L293.8 455.6M212.9 497.6L288 418.2M212.9 487L293.8 405.4M212.9 489.7L299.7 443.2M212.9 510.7L305.8 430.4M212.9 447.5L305.8 404.5M212.9 494.9L305.8 482.1M212.9 497.6L293.8 468.2M212.9 468.6L299.7 417.7M212.9 468.6L299.7 481.4" stroke="#fecc8c" stroke-opacity="0.2"/><path d="M212.9 371.2L293.8 405.4M212.9 394.9L288 467.7M212.9 481.8L299.7 404.9M212.9 447.5L288 467.7M212.9 476.5L293.8 405.4M212.9 508.1L293.8 455.6M212.9 516L312.1 456.6M212.9 389.6L299.7 468.7M212.9 468.6L288 442.9" stroke="#998fbf" stroke-opacity="0.2"/><path d="M212.9 381.7L288 442.9M212.9 516L312.1 482.8M212.9 500.2L288 455.3M212.9 358L288 467.7M212.9 489.7L299.7 481.4M212.9 497.6L299.7 455.9M212.9 505.5L288 430.6M212.9 500.2L288 405.8M212.9 400.1L305.8 430.4M212.9 371.2L293.8 405.4M212.9 410.7L305.8 430.4M212.9 442.3L299.7 468.7M212.9 437L293.8 455.6M212.9 421.2L288 430.6M212.9 408L312.1 469.7M212.9 442.3L305.8 443.3M212.9 429.1L299.7 443.2M212.9 365.9L312.1 456.6M212.9 371.2L305.8 443.3M212.9 384.3L299.7 417.7M212.9 365.9L305.8 456.2M212.9 502.8L305.8 482.1M212.9 371.2L293.8 455.6M212.9 442.3L288 455.3M212.9 494.9L299.7 404.9M212.9 513.4L299.7 443.2M212.9 452.8L293.8 455.6M212.9 360.6L288 418.2M212.9 455.4L293.8 430.5M212.9 494.9L293.8 480.8M212.9 447.5L288 430.6M212.9 392.2L299.7 468.7" stroke="#bcb7d8" stroke-opacity="0.2"/></g>
<g stroke-width="0.6" fill="none"><path d="M325.2 443.7L423.3 455.1M305.8 443.3L423.3 443M325.2 430.1L415.9 442.9M312.1 404L430.9 406.4M312.1 430.3L430.9 430.9M346.6 429.9L438.7 418.4" stroke="#6a4d9a" stroke-opacity="0.6"/><path d="M346.6 415.7L415.9 407.3M312.1 456.6L438.7 455.7" stroke="#d57811" stroke-opacity="0.6"/><path d="M339.2 458L438.7 468.1M346.6 415.7L430.9 418.7M325.2 443.7L415.9 431M305.8 456.2L430.9 455.4M318.5 443.6L430.9 455.4M346.6 472.6L430.9 455.4M318.5 456.9L408.8 454.5M312.1 469.7L430.9 455.4M339.2 430L408.8 431.1M325.2 416.6L415.9 419.1M312.1 417.1L423.3 431M325.2 443.7L415.9 431M318.5 430.2L430.9 443.1" stroke="#7560a3" stroke-opacity="0.6"/><path d="M332.1 430.1L438.7 418.4" stroke="#2d004b" stroke-opacity="0.6"/><path d="M325.2 443.7L408.8 431.1M346.6 415.7L415.9 431M339.2 471.9L430.9 467.6" stroke="#370a5a" stroke-opacity="0.6"/><path d="M346.6 472.6L408.8 466.2" stroke="#a69dc8" stroke-opacity="0.6"/><path d="M325.2 443.7L423.3 455.1M318.5 443.6L408.8 442.8M305.8 456.2L430.9 467.6M325.2 457.2L430.9 467.6M339.2 402L423.3 406.8M346.6 472.6L438.7 455.7" stroke="#be630a" stroke-opacity="0.6"/><path d="M332.1 457.6L415.9 442.9M332.1 471.4L438.7 455.7M325.2 443.7L423.3 455.1M332.1 471.4L430.9 467.6M339.2 444L408.8 454.5M312.1 417.1L423.3 418.9" stroke="#40146a" stroke-opacity="0.6"/><path d="M332.1 430.1L415.9 442.9M305.8 417.4L408.8 407.6M318.5 403.5L423.3 406.8M305.8 417.4L430.9 430.9M332.1 416.3L408.8 431.1M339.2 416L415.9 407.3M318.5 470.2L430.9 467.6M339.2 430L408.8 419.4" stroke="#5f3a91" stroke-opacity="0.6"/><path d="M332.1 471.4L408.8 454.5M346.6 472.6L438.7 468.1M346.6 415.7L423.3 418.9M318.5 443.6L415.9 442.9M325.2 443.7L415.9 442.9" stroke="#cecee5" stroke-opacity="0.6"/><path d="M332.1 402.5L415.9 407.3M332.1 457.6L438.7 443.2M305.8 430.4L438.7 430.8" stroke="#c5c2de" stroke-opacity="0.6"/><path d="M332.1 457.6L438.7 443.2M339.2 471.9L430.9 467.6" stroke="#a65107" stroke-opacity="0.6"/><path d="M346.6 472.6L415.9 454.8M332.1 457.6L438.7 455.7M332.1 443.8L438.7 430.8" stroke="#bcb7d8" stroke-opacity="0.6"/><path d="M305.8 404.5L430.9 406.4M339.2 458L423.3 455.1M332.1 402.5L438.7 406" stroke="#4a1d79" stroke-opacity="0.6"/><path d="M346.6 444.1L415.9 431M312.1 469.7L423.3 467.1M325.2 430.1L408.8 431.1M325.2 416.6L423.3 418.9M339.2 444L438.7 443.2M305.8 430.4L438.7 430.8M332.1 430.1L423.3 431M346.6 444.1L438.7 430.8" stroke="#8073ac" stroke-opacity="0.6"/><path d="M312.1 404L438.7 406M346.6 444.1L408.8 454.5" stroke="#b2abd2" stroke-opacity="0.6"/><path d="M339.2 430L415.9 442.9M339.2 471.9L415.9 466.7M346.6 444.1L423.3 455.1M312.1 404L430.9 406.4M346.6 472.6L423.3 455.1M318.5 403.5L430.9 406.4M305.8 430.4L423.3 418.9M325.2 403L423.3 406.8M332.1 443.8L438.7 443.2" stroke="#542788" stroke-opacity="0.6"/><path d="M305.8 443.3L423.3 431M305.8 417.4L430.9 430.9M332.1 416.3L430.9 418.7M325.2 416.6L438.7 406M325.2 443.7L438.7 455.7M346.6 472.6L423.3 455.1M318.5 416.9L423.3 431M332.1 471.4L430.9 467.6M312.1 456.6L423.3 443M312.1 443.4L430.9 430.9" stroke="#fdc278" stroke-opacity="0.6"/><path d="M318.5 443.6L438.7 443.2M339.2 444L415.9 454.8M318.5 456.9L415.9 454.8M346.6 415.7L430.9 418.7M332.1 471.4L415.9 466.7M318.5 430.2L423.3 431M346.6 458.3L438.7 443.2M312.1 443.4L438.7 455.7M332.1 430.1L423.3 418.9M318.5 456.9L415.9 442.9M332.1 471.4L430.9 467.6" stroke="#ee9d3c" stroke-opacity="0.6"/><path d="M332.1 443.8L415.9 442.9M318.5 456.9L408.8 442.8M339.2 402L408.8 419.4M312.1 469.7L430.9 455.4M305.8 443.3L430.9 430.9" stroke="#ca6d0d" stroke-opacity="0.6"/><path d="M305.8 430.4L415.9 419.1M312.1 417.1L430.9 418.7M339.2 471.9L415.9 454.8M312.1 456.6L438.7 455.7M339.2 458L408.8 454.5M339.2 444L430.9 430.9M339.2 471.9L438.7 468.1M312.1 469.7L430.9 455.4M332.1 430.1L438.7 418.4M325.2 443.7L415.9 442.9M346.6 458.3L415.9 466.7M346.6 444.1L423.3 431" stroke="#f6aa4f" stroke-opacity="0.6"/><path d="M305.8 469.2L415.9 466.7M339.2 416L408.8 431.1M325.2 416.6L415.9 431M332.1 471.4L408.8 454.5M346.6 415.7L423.3 418.9M318.5 403.5L438.7 406M325.2 457.2L415.9 442.9M325.2 470.8L438.7 455.7M325.2 403L438.7 406M332.1 430.1L415.9 431M305.8 456.2L415.9 442.9M305.8 443.3L415.9 442.9" stroke="#e79028" stroke-opacity="0.6"/><path d="M332.1 416.3L430.9 406.4M325.2 470.8L423.3 467.1M346.6 458.3L423.3 467.1M312.1 404L408.8 407.6" stroke="#fecc8c" stroke-opacity="0.6"/><path d="M332.1 471.4L415.9 466.7M318.5 456.9L408.8 442.8M346.6 429.9L408.8 431.1M339.2 416L438.7 418.4M332.1 457.6L408.8 442.8M332.1 430.1L430.9 418.7M312.1 430.3L415.9 442.9" stroke="#fdb863" stroke-opacity="0.6"/><path d="M305.8 456.2L408.8 454.5M305.8 456.2L430.9 467.6M339.2 430L423.3 431M318.5 430.2L438.7 443.2" stroke="#e08214" stroke-opacity="0.6"/><path d="M312.1 430.3L415.9 431M339.2 416L430.9 430.9M312.1 430.3L438.7 430.8" stroke="#b35806" stroke-opacity="0.6"/><path d="M318.5 416.9L430.9 418.7" stroke="#8c4207" stroke-opacity="0.6"/></g>
<g stroke-width="0.55" fill="none"><path d="M446.7 468.6L518.2 459.3M446.7 468.6L506.4 464.6M446.7 430.8L488 428.7M430.9 455.4L518.2 459.3M455 456.3L518.2 459.3M438.7 468.1L518.2 459.3" stroke="#fed6a1" stroke-opacity="0.6"/><path d="M430.9 443.1L488 445.3" stroke="#e0e1ee" stroke-opacity="0.6"/><path d="M455 430.7L525.3 428.3M455 456.3L495 458.6M446.7 405.6L495 415.7M455 443.5L525.3 445.7" stroke="#fee0b6" stroke-opacity="0.6"/><path d="M430.9 430.9L488 428.7M455 405.1L506.4 409.6M455 443.5L525.3 445.7" stroke="#c5c2de" stroke-opacity="0.6"/><path d="M430.9 430.9L525.3 428.3" stroke="#d8daeb" stroke-opacity="0.6"/><path d="M438.7 430.8L525.3 428.3M455 430.7L525.3 445.7" stroke="#faecd6" stroke-opacity="0.6"/><path d="M446.7 430.8L488 428.7M455 430.7L495 415.7M430.9 418.7L518.2 414.5M430.9 406.4L518.2 414.5" stroke="#fdc278" stroke-opacity="0.6"/><path d="M438.7 443.2L525.3 445.7M446.7 456L518.2 459.3M446.7 443.4L488 445.3" stroke="#f6aa4f" stroke-opacity="0.6"/><path d="M438.7 443.2L488 445.3" stroke="#fdb863" stroke-opacity="0.6"/><path d="M455 456.3L495 458.6M446.7 456L488 445.3" stroke="#cecee5" stroke-opacity="0.6"/><path d="M446.7 405.6L495 415.7M455 430.7L488 428.7M438.7 418.4L525.3 428.3M455 405.1L506.4 409.6" stroke="#fecc8c" stroke-opacity="0.6"/><path d="M455 417.9L495 415.7M438.7 468.1L506.4 464.6M455 417.9L518.2 414.5" stroke="#bcb7d8" stroke-opacity="0.6"/><path d="M446.7 456L518.2 459.3" stroke="#b2abd2" stroke-opacity="0.6"/><path d="M430.9 418.7L518.2 414.5M446.7 405.6L518.2 414.5M446.7 468.6L518.2 459.3M438.7 430.8L488 428.7M438.7 443.2L488 445.3" stroke="#fce6c6" stroke-opacity="0.6"/></g>
<rect x="286.8" y="379.8" width="2.4" height="2.4" fill="#8fc0dc"/>
<rect x="387.3" y="385.1" width="2.4" height="2.4" fill="#8fc0dc"/>
<rect x="292.5" y="379" width="2.5" height="2.5" fill="#8fc0dc"/>
<rect x="393.8" y="384.4" width="2.5" height="2.5" fill="#8fc0dc"/>
<rect x="298.4" y="378.1" width="2.6" height="2.6" fill="#8fc0dc"/>
<rect x="400.5" y="383.6" width="2.6" height="2.6" fill="#8fc0dc"/>
<rect x="304.4" y="377.2" width="2.7" height="2.7" fill="#8fc0dc"/>
<rect x="407.4" y="382.9" width="2.7" height="2.7" fill="#8fc0dc"/>
<rect x="310.7" y="376.3" width="2.8" height="2.8" fill="#8fc0dc"/>
<rect x="414.6" y="382.1" width="2.8" height="2.8" fill="#8fc0dc"/>
<rect x="317.1" y="375.4" width="2.8" height="2.8" fill="#8fc0dc"/>
<rect x="421.9" y="381.3" width="2.8" height="2.8" fill="#8fc0dc"/>
<rect x="323.8" y="374.5" width="2.9" height="2.9" fill="#8fc0dc"/>
<rect x="429.4" y="380.5" width="2.9" height="2.9" fill="#8fc0dc"/>
<rect x="330.6" y="373.5" width="3" height="3" fill="#8fc0dc"/>
<rect x="437.2" y="379.7" width="3" height="3" fill="#8fc0dc"/>
<rect x="337.7" y="372.4" width="3.1" height="3.1" fill="#8fc0dc"/>
<rect x="445.2" y="378.8" width="3.1" height="3.1" fill="#8fc0dc"/>
<rect x="345" y="371.4" width="3.2" height="3.2" fill="#8fc0dc"/>
<rect x="453.4" y="377.9" width="3.2" height="3.2" fill="#8fc0dc"/>
<rect x="286.8" y="392.2" width="2.4" height="2.4" fill="#8fc0dc"/>
<rect x="387.3" y="396.3" width="2.4" height="2.4" fill="#8fc0dc"/>
<rect x="292.5" y="391.5" width="2.5" height="2.5" fill="#8fc0dc"/>
<rect x="393.8" y="395.8" width="2.5" height="2.5" fill="#8fc0dc"/>
<rect x="298.4" y="390.9" width="2.6" height="2.6" fill="#8fc0dc"/>
<rect x="400.5" y="395.2" width="2.6" height="2.6" fill="#8fc0dc"/>
<rect x="304.4" y="390.2" width="2.7" height="2.7" fill="#8fc0dc"/>
<rect x="407.4" y="394.6" width="2.7" height="2.7" fill="#8fc0dc"/>
<rect x="310.7" y="389.5" width="2.8" height="2.8" fill="#8fc0dc"/>
<rect x="414.6" y="394" width="2.8" height="2.8" fill="#8fc0dc"/>
<rect x="317.1" y="388.8" width="2.8" height="2.8" fill="#8fc0dc"/>
<rect x="421.9" y="393.4" width="2.8" height="2.8" fill="#8fc0dc"/>
<rect x="323.8" y="388" width="2.9" height="2.9" fill="#8fc0dc"/>
<rect x="429.4" y="392.7" width="2.9" height="2.9" fill="#8fc0dc"/>
<rect x="330.6" y="387.2" width="3" height="3" fill="#8fc0dc"/>
<rect x="437.2" y="392.1" width="3" height="3" fill="#8fc0dc"/>
<rect x="337.7" y="386.4" width="3.1" height="3.1" fill="#8fc0dc"/>
<rect x="445.2" y="391.4" width="3.1" height="3.1" fill="#8fc0dc"/>
<rect x="345" y="385.6" width="3.2" height="3.2" fill="#8fc0dc"/>
<rect x="453.4" y="390.7" width="3.2" height="3.2" fill="#8fc0dc"/>
<rect x="286.8" y="404.6" width="2.4" height="2.4" fill="#8fc0dc"/>
<rect x="387.3" y="407.6" width="2.4" height="2.4" fill="#8fc0dc"/>
<rect x="292.5" y="404.1" width="2.5" height="2.5" fill="#8fc0dc"/>
<rect x="393.8" y="407.2" width="2.5" height="2.5" fill="#8fc0dc"/>
<rect x="298.4" y="403.6" width="2.6" height="2.6" fill="#8fc0dc"/>
<rect x="400.5" y="406.7" width="2.6" height="2.6" fill="#8fc0dc"/>
<rect x="304.4" y="403.1" width="2.7" height="2.7" fill="#8fc0dc"/>
<rect x="407.4" y="406.3" width="2.7" height="2.7" fill="#8fc0dc"/>
<rect x="310.7" y="402.6" width="2.8" height="2.8" fill="#8fc0dc"/>
<rect x="414.6" y="405.9" width="2.8" height="2.8" fill="#8fc0dc"/>
<rect x="317.1" y="402.1" width="2.8" height="2.8" fill="#8fc0dc"/>
<rect x="421.9" y="405.4" width="2.8" height="2.8" fill="#8fc0dc"/>
<rect x="323.8" y="401.6" width="2.9" height="2.9" fill="#8fc0dc"/>
<rect x="429.4" y="405" width="2.9" height="2.9" fill="#8fc0dc"/>
<rect x="330.6" y="401" width="3" height="3" fill="#8fc0dc"/>
<rect x="437.2" y="404.5" width="3" height="3" fill="#8fc0dc"/>
<rect x="337.7" y="400.4" width="3.1" height="3.1" fill="#8fc0dc"/>
<rect x="445.2" y="404" width="3.1" height="3.1" fill="#8fc0dc"/>
<rect x="345" y="399.8" width="3.2" height="3.2" fill="#8fc0dc"/>
<rect x="453.4" y="403.5" width="3.2" height="3.2" fill="#8fc0dc"/>
<rect x="286.8" y="417" width="2.4" height="2.4" fill="#8fc0dc"/>
<rect x="387.3" y="418.8" width="2.4" height="2.4" fill="#8fc0dc"/>
<rect x="292.5" y="416.7" width="2.5" height="2.5" fill="#8fc0dc"/>
<rect x="393.8" y="418.5" width="2.5" height="2.5" fill="#8fc0dc"/>
<rect x="298.4" y="416.4" width="2.6" height="2.6" fill="#8fc0dc"/>
<rect x="400.5" y="418.3" width="2.6" height="2.6" fill="#8fc0dc"/>
<rect x="304.4" y="416.1" width="2.7" height="2.7" fill="#8fc0dc"/>
<rect x="407.4" y="418" width="2.7" height="2.7" fill="#8fc0dc"/>
<rect x="310.7" y="415.8" width="2.8" height="2.8" fill="#8fc0dc"/>
<rect x="414.6" y="417.8" width="2.8" height="2.8" fill="#8fc0dc"/>
<rect x="317.1" y="415.4" width="2.8" height="2.8" fill="#8fc0dc"/>
<rect x="421.9" y="417.5" width="2.8" height="2.8" fill="#8fc0dc"/>
<rect x="323.8" y="415.1" width="2.9" height="2.9" fill="#8fc0dc"/>
<rect x="429.4" y="417.2" width="2.9" height="2.9" fill="#8fc0dc"/>
<rect x="330.6" y="414.8" width="3" height="3" fill="#8fc0dc"/>
<rect x="437.2" y="416.9" width="3" height="3" fill="#8fc0dc"/>
<rect x="337.7" y="414.4" width="3.1" height="3.1" fill="#8fc0dc"/>
<rect x="445.2" y="416.6" width="3.1" height="3.1" fill="#8fc0dc"/>
<rect x="345" y="414.1" width="3.2" height="3.2" fill="#8fc0dc"/>
<rect x="453.4" y="416.3" width="3.2" height="3.2" fill="#8fc0dc"/>
<rect x="286.8" y="429.4" width="2.4" height="2.4" fill="#8fc0dc"/>
<rect x="387.3" y="430" width="2.4" height="2.4" fill="#8fc0dc"/>
<rect x="292.5" y="429.2" width="2.5" height="2.5" fill="#8fc0dc"/>
<rect x="393.8" y="429.9" width="2.5" height="2.5" fill="#8fc0dc"/>
<rect x="298.4" y="429.1" width="2.6" height="2.6" fill="#8fc0dc"/>
<rect x="400.5" y="429.8" width="2.6" height="2.6" fill="#8fc0dc"/>
<rect x="304.4" y="429" width="2.7" height="2.7" fill="#8fc0dc"/>
<rect x="407.4" y="429.7" width="2.7" height="2.7" fill="#8fc0dc"/>
<rect x="310.7" y="428.9" width="2.8" height="2.8" fill="#8fc0dc"/>
<rect x="414.6" y="429.6" width="2.8" height="2.8" fill="#8fc0dc"/>
<rect x="317.1" y="428.8" width="2.8" height="2.8" fill="#8fc0dc"/>
<rect x="421.9" y="429.5" width="2.8" height="2.8" fill="#8fc0dc"/>
<rect x="323.8" y="428.7" width="2.9" height="2.9" fill="#8fc0dc"/>
<rect x="429.4" y="429.4" width="2.9" height="2.9" fill="#8fc0dc"/>
<rect x="330.6" y="428.5" width="3" height="3" fill="#8fc0dc"/>
<rect x="437.2" y="429.3" width="3" height="3" fill="#8fc0dc"/>
<rect x="337.7" y="428.4" width="3.1" height="3.1" fill="#8fc0dc"/>
<rect x="445.2" y="429.2" width="3.1" height="3.1" fill="#8fc0dc"/>
<rect x="345" y="428.3" width="3.2" height="3.2" fill="#8fc0dc"/>
<rect x="453.4" y="429.1" width="3.2" height="3.2" fill="#8fc0dc"/>
<rect x="286.8" y="441.7" width="2.4" height="2.4" fill="#8fc0dc"/>
<rect x="387.3" y="441.3" width="2.4" height="2.4" fill="#8fc0dc"/>
<rect x="292.5" y="441.8" width="2.5" height="2.5" fill="#8fc0dc"/>
<rect x="393.8" y="441.3" width="2.5" height="2.5" fill="#8fc0dc"/>
<rect x="298.4" y="441.9" width="2.6" height="2.6" fill="#8fc0dc"/>
<rect x="400.5" y="441.4" width="2.6" height="2.6" fill="#8fc0dc"/>
<rect x="304.4" y="442" width="2.7" height="2.7" fill="#8fc0dc"/>
<rect x="407.4" y="441.4" width="2.7" height="2.7" fill="#8fc0dc"/>
<rect x="310.7" y="442" width="2.8" height="2.8" fill="#8fc0dc"/>
<rect x="414.6" y="441.5" width="2.8" height="2.8" fill="#8fc0dc"/>
<rect x="317.1" y="442.1" width="2.8" height="2.8" fill="#8fc0dc"/>
<rect x="421.9" y="441.6" width="2.8" height="2.8" fill="#8fc0dc"/>
<rect x="323.8" y="442.2" width="2.9" height="2.9" fill="#8fc0dc"/>
<rect x="429.4" y="441.7" width="2.9" height="2.9" fill="#8fc0dc"/>
<rect x="330.6" y="442.3" width="3" height="3" fill="#8fc0dc"/>
<rect x="437.2" y="441.7" width="3" height="3" fill="#8fc0dc"/>
<rect x="337.7" y="442.4" width="3.1" height="3.1" fill="#8fc0dc"/>
<rect x="445.2" y="441.8" width="3.1" height="3.1" fill="#8fc0dc"/>
<rect x="345" y="442.5" width="3.2" height="3.2" fill="#8fc0dc"/>
<rect x="453.4" y="441.9" width="3.2" height="3.2" fill="#8fc0dc"/>
<rect x="286.8" y="454.1" width="2.4" height="2.4" fill="#8fc0dc"/>
<rect x="387.3" y="452.5" width="2.4" height="2.4" fill="#8fc0dc"/>
<rect x="292.5" y="454.4" width="2.5" height="2.5" fill="#8fc0dc"/>
<rect x="393.8" y="452.7" width="2.5" height="2.5" fill="#8fc0dc"/>
<rect x="298.4" y="454.6" width="2.6" height="2.6" fill="#8fc0dc"/>
<rect x="400.5" y="452.9" width="2.6" height="2.6" fill="#8fc0dc"/>
<rect x="304.4" y="454.9" width="2.7" height="2.7" fill="#8fc0dc"/>
<rect x="407.4" y="453.2" width="2.7" height="2.7" fill="#8fc0dc"/>
<rect x="310.7" y="455.2" width="2.8" height="2.8" fill="#8fc0dc"/>
<rect x="414.6" y="453.4" width="2.8" height="2.8" fill="#8fc0dc"/>
<rect x="317.1" y="455.5" width="2.8" height="2.8" fill="#8fc0dc"/>
<rect x="421.9" y="453.6" width="2.8" height="2.8" fill="#8fc0dc"/>
<rect x="323.8" y="455.8" width="2.9" height="2.9" fill="#8fc0dc"/>
<rect x="429.4" y="453.9" width="2.9" height="2.9" fill="#8fc0dc"/>
<rect x="330.6" y="456.1" width="3" height="3" fill="#8fc0dc"/>
<rect x="437.2" y="454.2" width="3" height="3" fill="#8fc0dc"/>
<rect x="337.7" y="456.4" width="3.1" height="3.1" fill="#8fc0dc"/>
<rect x="445.2" y="454.4" width="3.1" height="3.1" fill="#8fc0dc"/>
<rect x="345" y="456.7" width="3.2" height="3.2" fill="#8fc0dc"/>
<rect x="453.4" y="454.7" width="3.2" height="3.2" fill="#8fc0dc"/>
<rect x="286.8" y="466.5" width="2.4" height="2.4" fill="#8fc0dc"/>
<rect x="387.3" y="463.7" width="2.4" height="2.4" fill="#8fc0dc"/>
<rect x="292.5" y="467" width="2.5" height="2.5" fill="#8fc0dc"/>
<rect x="393.8" y="464.1" width="2.5" height="2.5" fill="#8fc0dc"/>
<rect x="298.4" y="467.4" width="2.6" height="2.6" fill="#8fc0dc"/>
<rect x="400.5" y="464.5" width="2.6" height="2.6" fill="#8fc0dc"/>
<rect x="304.4" y="467.9" width="2.7" height="2.7" fill="#8fc0dc"/>
<rect x="407.4" y="464.9" width="2.7" height="2.7" fill="#8fc0dc"/>
<rect x="310.7" y="468.3" width="2.8" height="2.8" fill="#8fc0dc"/>
<rect x="414.6" y="465.3" width="2.8" height="2.8" fill="#8fc0dc"/>
<rect x="317.1" y="468.8" width="2.8" height="2.8" fill="#8fc0dc"/>
<rect x="421.9" y="465.7" width="2.8" height="2.8" fill="#8fc0dc"/>
<rect x="323.8" y="469.3" width="2.9" height="2.9" fill="#8fc0dc"/>
<rect x="429.4" y="466.1" width="2.9" height="2.9" fill="#8fc0dc"/>
<rect x="330.6" y="469.9" width="3" height="3" fill="#8fc0dc"/>
<rect x="437.2" y="466.6" width="3" height="3" fill="#8fc0dc"/>
<rect x="337.7" y="470.4" width="3.1" height="3.1" fill="#8fc0dc"/>
<rect x="445.2" y="467" width="3.1" height="3.1" fill="#8fc0dc"/>
<rect x="345" y="471" width="3.2" height="3.2" fill="#8fc0dc"/>
<rect x="453.4" y="467.5" width="3.2" height="3.2" fill="#8fc0dc"/>
<rect x="286.8" y="478.9" width="2.4" height="2.4" fill="#8fc0dc"/>
<rect x="387.3" y="475" width="2.4" height="2.4" fill="#8fc0dc"/>
<rect x="292.5" y="479.5" width="2.5" height="2.5" fill="#8fc0dc"/>
<rect x="393.8" y="475.5" width="2.5" height="2.5" fill="#8fc0dc"/>
<rect x="298.4" y="480.2" width="2.6" height="2.6" fill="#8fc0dc"/>
<rect x="400.5" y="476" width="2.6" height="2.6" fill="#8fc0dc"/>
<rect x="304.4" y="480.8" width="2.7" height="2.7" fill="#8fc0dc"/>
<rect x="407.4" y="476.6" width="2.7" height="2.7" fill="#8fc0dc"/>
<rect x="310.7" y="481.5" width="2.8" height="2.8" fill="#8fc0dc"/>
<rect x="414.6" y="477.2" width="2.8" height="2.8" fill="#8fc0dc"/>
<rect x="317.1" y="482.2" width="2.8" height="2.8" fill="#8fc0dc"/>
<rect x="421.9" y="477.7" width="2.8" height="2.8" fill="#8fc0dc"/>
<rect x="323.8" y="482.9" width="2.9" height="2.9" fill="#8fc0dc"/>
<rect x="429.4" y="478.4" width="2.9" height="2.9" fill="#8fc0dc"/>
<rect x="330.6" y="483.6" width="3" height="3" fill="#8fc0dc"/>
<rect x="437.2" y="479" width="3" height="3" fill="#8fc0dc"/>
<rect x="337.7" y="484.4" width="3.1" height="3.1" fill="#8fc0dc"/>
<rect x="445.2" y="479.6" width="3.1" height="3.1" fill="#8fc0dc"/>
<rect x="345" y="485.2" width="3.2" height="3.2" fill="#8fc0dc"/>
<rect x="453.4" y="480.3" width="3.2" height="3.2" fill="#8fc0dc"/>
<rect x="286.8" y="491.3" width="2.4" height="2.4" fill="#8fc0dc"/>
<rect x="387.3" y="486.2" width="2.4" height="2.4" fill="#8fc0dc"/>
<rect x="292.5" y="492.1" width="2.5" height="2.5" fill="#8fc0dc"/>
<rect x="393.8" y="486.9" width="2.5" height="2.5" fill="#8fc0dc"/>
<rect x="298.4" y="492.9" width="2.6" height="2.6" fill="#8fc0dc"/>
<rect x="400.5" y="487.6" width="2.6" height="2.6" fill="#8fc0dc"/>
<rect x="304.4" y="493.7" width="2.7" height="2.7" fill="#8fc0dc"/>
<rect x="407.4" y="488.3" width="2.7" height="2.7" fill="#8fc0dc"/>
<rect x="310.7" y="494.6" width="2.8" height="2.8" fill="#8fc0dc"/>
<rect x="414.6" y="489" width="2.8" height="2.8" fill="#8fc0dc"/>
<rect x="317.1" y="495.5" width="2.8" height="2.8" fill="#8fc0dc"/>
<rect x="421.9" y="489.8" width="2.8" height="2.8" fill="#8fc0dc"/>
<rect x="323.8" y="496.4" width="2.9" height="2.9" fill="#8fc0dc"/>
<rect x="429.4" y="490.6" width="2.9" height="2.9" fill="#8fc0dc"/>
<rect x="330.6" y="497.4" width="3" height="3" fill="#8fc0dc"/>
<rect x="437.2" y="491.4" width="3" height="3" fill="#8fc0dc"/>
<rect x="337.7" y="498.4" width="3.1" height="3.1" fill="#8fc0dc"/>
<rect x="445.2" y="492.2" width="3.1" height="3.1" fill="#8fc0dc"/>
<rect x="345" y="499.4" width="3.2" height="3.2" fill="#8fc0dc"/>
<rect x="453.4" y="493.1" width="3.2" height="3.2" fill="#8fc0dc"/>
<rect x="505.1" y="408.3" width="2.6" height="2.6" fill="#8fc0dc"/>
<rect x="516.9" y="413.2" width="2.6" height="2.6" fill="#8fc0dc"/>
<rect x="524" y="427" width="2.6" height="2.6" fill="#8fc0dc"/>
<rect x="524" y="444.4" width="2.6" height="2.6" fill="#8fc0dc"/>
<rect x="516.9" y="458" width="2.6" height="2.6" fill="#8fc0dc"/>
<rect x="505.1" y="463.3" width="2.6" height="2.6" fill="#8fc0dc"/>
<rect x="493.7" y="457.3" width="2.6" height="2.6" fill="#8fc0dc"/>
<rect x="486.7" y="444" width="2.6" height="2.6" fill="#8fc0dc"/>
<rect x="486.7" y="427.4" width="2.6" height="2.6" fill="#8fc0dc"/>
<rect x="493.7" y="414.4" width="2.6" height="2.6" fill="#8fc0dc"/>
<polygon points="163,369.4 212.9,356.7 212.9,517.2 163,505.2" fill="#fbf3ec"/>
<polygon points="163,369.4 212.9,356.7 212.9,361.2 163,373.2" fill="#000000"/>
<polygon points="163,374.2 212.9,362.4 212.9,366.9 163,378" fill="#000000"/>
<polygon points="163,379.1 212.9,368.2 212.9,372.6 163,382.9" fill="#000000"/>
<polygon points="163,383.9 182.4,380 182.4,384.1 163,387.7" fill="#000000"/>
<polygon points="182.4,380 187.7,379 187.7,383.1 182.4,384.1" fill="#464646"/>
<polygon points="187.7,379 212.9,373.9 212.9,378.4 187.7,383.1" fill="#000000"/>
<polygon points="163,388.8 177.3,386.2 177.3,390.2 163,392.6" fill="#000000"/>
<polygon points="177.3,386.2 191.3,383.6 191.3,387.8 177.3,390.2" fill="#696969"/>
<polygon points="191.3,383.6 212.9,379.6 212.9,384.1 191.3,387.8" fill="#000000"/>
<polygon points="163,393.6 177.3,391.3 177.3,395.3 163,397.4" fill="#000000"/>
<polygon points="177.3,391.3 179,391 179,395 177.3,395.3" fill="#969696"/>
<polygon points="179,391 189.5,389.3 189.5,393.4 179,395" fill="#000000"/>
<polygon points="189.5,389.3 191.3,389 191.3,393.1 189.5,393.4" fill="#969696"/>
<polygon points="191.3,389 212.9,385.4 212.9,389.8 191.3,393.1" fill="#000000"/>
<polygon points="163,398.5 177.3,396.4 177.3,400.4 163,402.3" fill="#000000"/>
<polygon points="177.3,396.4 179,396.1 179,400.1 177.3,400.4" fill="#969696"/>
<polygon points="179,396.1 189.5,394.6 189.5,398.7 179,400.1" fill="#000000"/>
<polygon points="189.5,394.6 191.3,394.3 191.3,398.5 189.5,398.7" fill="#969696"/>
<polygon points="191.3,394.3 212.9,391.1 212.9,395.6 191.3,398.5" fill="#000000"/>
<polygon points="163,403.3 177.3,401.5 177.3,405.5 163,407.1" fill="#000000"/>
<polygon points="177.3,401.5 179,401.3 179,405.3 177.3,405.5" fill="#969696"/>
<polygon points="179,401.3 189.5,399.9 189.5,404 179,405.3" fill="#000000"/>
<polygon points="189.5,399.9 191.3,399.7 191.3,403.8 189.5,404" fill="#969696"/>
<polygon points="191.3,399.7 212.9,396.8 212.9,401.3 191.3,403.8" fill="#000000"/>
<polygon points="163,408.2 177.3,406.6 177.3,410.6 163,412" fill="#000000"/>
<polygon points="177.3,406.6 179,406.4 179,410.4 177.3,410.6" fill="#969696"/>
<polygon points="179,406.4 189.5,405.2 189.5,409.4 179,410.4" fill="#000000"/>
<polygon points="189.5,405.2 191.3,405 191.3,409.2 189.5,409.4" fill="#969696"/>
<polygon points="191.3,405 212.9,402.6 212.9,407 191.3,409.2" fill="#000000"/>
<polygon points="163,413 164.5,412.9 164.5,416.7 163,416.8" fill="#141414"/>
<polygon points="164.5,412.9 177.3,411.7 177.3,415.7 164.5,416.7" fill="#505050"/>
<polygon points="177.3,411.7 179,411.5 179,415.5 177.3,415.7" fill="#8c8c8c"/>
<polygon points="179,411.5 189.5,410.5 189.5,414.7 179,415.5" fill="#2d2d2d"/>
<polygon points="189.5,410.5 191.3,410.4 191.3,414.5 189.5,414.7" fill="#828282"/>
<polygon points="191.3,410.4 193.1,410.2 193.1,414.4 191.3,414.5" fill="#323232"/>
<polygon points="193.1,410.2 195,410 195,414.2 193.1,414.4" fill="#aaaaaa"/>
<polygon points="195,410 196.9,409.8 196.9,414.1 195,414.2" fill="#ebebeb"/>
<polygon points="196.9,409.8 204.7,409.1 204.7,413.4 196.9,414.1" fill="#787878"/>
<polygon points="204.7,409.1 212.9,408.3 212.9,412.8 204.7,413.4" fill="#000000"/>
<polygon points="163,417.9 164.5,417.8 164.5,421.6 163,421.7" fill="#3c3c3c"/>
<polygon points="164.5,417.8 167.6,417.5 167.6,421.4 164.5,421.6" fill="#cbcbcb"/>
<polygon points="167.6,417.5 169.2,417.4 169.2,421.3 167.6,421.4" fill="#c5c5c5"/>
<polygon points="169.2,417.4 174,417 174,421 169.2,421.3" fill="#bfbfbf"/>
<polygon points="174,417 177.3,416.8 177.3,420.8 174,421" fill="#c8c8c8"/>
<polygon points="177.3,416.8 179,416.7 179,420.7 177.3,420.8" fill="#969696"/>
<polygon points="179,416.7 182.4,416.4 182.4,420.4 179,420.7" fill="#c4c4c4"/>
<polygon points="182.4,416.4 185.9,416.1 185.9,420.2 182.4,420.4" fill="#bebebe"/>
<polygon points="185.9,416.1 189.5,415.8 189.5,420 185.9,420.2" fill="#c8c8c8"/>
<polygon points="189.5,415.8 191.3,415.7 191.3,419.9 189.5,420" fill="#a0a0a0"/>
<polygon points="191.3,415.7 195,415.4 195,419.6 191.3,419.9" fill="#c4c4c4"/>
<polygon points="195,415.4 198.8,415.1 198.8,419.4 195,419.6" fill="#bebebe"/>
<polygon points="198.8,415.1 204.7,414.7 204.7,419 198.8,419.4" fill="#c8c8c8"/>
<polygon points="204.7,414.7 206.7,414.5 206.7,418.9 204.7,419" fill="#afafaf"/>
<polygon points="206.7,414.5 212.9,414 212.9,418.5 206.7,418.9" fill="#000000"/>
<polygon points="163,422.8 164.5,422.7 164.5,426.5 163,426.5" fill="#3c3c3c"/>
<polygon points="164.5,422.7 166,422.6 166,426.4 164.5,426.5" fill="#c8c8c8"/>
<polygon points="166,422.6 172.4,422.2 172.4,426.1 166,426.4" fill="#c2c2c2"/>
<polygon points="172.4,422.2 177.3,421.9 177.3,425.9 172.4,426.1" fill="#cacaca"/>
<polygon points="177.3,421.9 184.1,421.5 184.1,425.6 177.3,425.9" fill="#c2c2c2"/>
<polygon points="184.1,421.5 189.5,421.2 189.5,425.3 184.1,425.6" fill="#cacaca"/>
<polygon points="189.5,421.2 196.9,420.7 196.9,425 189.5,425.3" fill="#c2c2c2"/>
<polygon points="196.9,420.7 202.7,420.4 202.7,424.7 196.9,425" fill="#cacaca"/>
<polygon points="202.7,420.4 204.7,420.2 204.7,424.6 202.7,424.7" fill="#c2c2c2"/>
<polygon points="204.7,420.2 206.7,420.1 206.7,424.5 204.7,424.6" fill="#afafaf"/>
<polygon points="206.7,420.1 212.9,419.8 212.9,424.2 206.7,424.5" fill="#000000"/>
<polygon points="163,427.6 164.5,427.5 164.5,431.3 163,431.4" fill="#3c3c3c"/>
<polygon points="164.5,427.5 169.2,427.3 169.2,431.2 164.5,431.3" fill="#c0c0c0"/>
<polygon points="169.2,427.3 175.6,427.1 175.6,431 169.2,431.2" fill="#c7c7c7"/>
<polygon points="175.6,427.1 180.7,426.9 180.7,430.9 175.6,431" fill="#bfbfbf"/>
<polygon points="180.7,426.9 187.7,426.6 187.7,430.7 180.7,430.9" fill="#c7c7c7"/>
<polygon points="187.7,426.6 193.1,426.3 193.1,430.5 187.7,430.7" fill="#bfbfbf"/>
<polygon points="193.1,426.3 200.7,426 200.7,430.3 193.1,430.5" fill="#c7c7c7"/>
<polygon points="200.7,426 204.7,425.8 204.7,430.2 200.7,430.3" fill="#bfbfbf"/>
<polygon points="204.7,425.8 206.7,425.7 206.7,430.1 204.7,430.2" fill="#afafaf"/>
<polygon points="206.7,425.7 212.9,425.5 212.9,430 206.7,430.1" fill="#000000"/>
<polygon points="163,432.4 164.5,432.4 164.5,436.2 163,436.2" fill="#3c3c3c"/>
<polygon points="164.5,432.4 167.6,432.3 167.6,436.2 164.5,436.2" fill="#bebebe"/>
<polygon points="167.6,432.3 172.4,432.2 172.4,436.1 167.6,436.2" fill="#c9c9c9"/>
<polygon points="172.4,432.2 179,432.1 179,436.1 172.4,436.1" fill="#c2c2c2"/>
<polygon points="179,432.1 184.1,431.9 184.1,436 179,436.1" fill="#c9c9c9"/>
<polygon points="184.1,431.9 191.3,431.8 191.3,435.9 184.1,436" fill="#c2c2c2"/>
<polygon points="191.3,431.8 196.9,431.6 196.9,435.9 191.3,435.9" fill="#c9c9c9"/>
<polygon points="196.9,431.6 204.7,431.4 204.7,435.8 196.9,435.9" fill="#c2c2c2"/>
<polygon points="204.7,431.4 206.7,431.4 206.7,435.8 204.7,435.8" fill="#afafaf"/>
<polygon points="206.7,431.4 212.9,431.2 212.9,435.7 206.7,435.8" fill="#000000"/>
<polygon points="163,437.3 164.5,437.3 164.5,441.1 163,441.1" fill="#3c3c3c"/>
<polygon points="164.5,437.3 170.8,437.2 170.8,441.1 164.5,441.1" fill="#c6c6c6"/>
<polygon points="170.8,437.2 175.6,437.2 175.6,441.2 170.8,441.1" fill="#c0c0c0"/>
<polygon points="175.6,437.2 182.4,437.2 182.4,441.2 175.6,441.2" fill="#c6c6c6"/>
<polygon points="182.4,437.2 187.7,437.1 187.7,441.3 182.4,441.2" fill="#c0c0c0"/>
<polygon points="187.7,437.1 195,437.1 195,441.3 187.7,441.3" fill="#c6c6c6"/>
<polygon points="195,437.1 200.7,437 200.7,441.3 195,441.3" fill="#c0c0c0"/>
<polygon points="200.7,437 206.7,437 206.7,441.4 200.7,441.3" fill="#dedede"/>
<polygon points="206.7,437 208.7,437 208.7,441.4 206.7,441.4" fill="#8c8c8c"/>
<polygon points="208.7,437 212.9,436.9 212.9,441.4 208.7,441.4" fill="#000000"/>
<polygon points="163,442.1 164.5,442.2 164.5,446 163,445.9" fill="#3c3c3c"/>
<polygon points="164.5,442.2 167.6,442.2 167.6,446 164.5,446" fill="#cbcbcb"/>
<polygon points="167.6,442.2 174,442.3 174,446.2 167.6,446" fill="#c3c3c3"/>
<polygon points="174,442.3 179,442.3 179,446.3 174,446.2" fill="#c9c9c9"/>
<polygon points="179,442.3 185.9,442.4 185.9,446.5 179,446.3" fill="#c3c3c3"/>
<polygon points="185.9,442.4 191.3,442.5 191.3,446.6 185.9,446.5" fill="#c9c9c9"/>
<polygon points="191.3,442.5 198.8,442.5 198.8,446.8 191.3,446.6" fill="#c3c3c3"/>
<polygon points="198.8,442.5 200.7,442.6 200.7,446.9 198.8,446.8" fill="#c9c9c9"/>
<polygon points="200.7,442.6 206.7,442.6 206.7,447 200.7,446.9" fill="#dedede"/>
<polygon points="206.7,442.6 208.7,442.6 208.7,447.1 206.7,447" fill="#8c8c8c"/>
<polygon points="208.7,442.6 212.9,442.7 212.9,447.2 208.7,447.1" fill="#000000"/>
<polygon points="163,447 164.5,447 164.5,450.8 163,450.8" fill="#3c3c3c"/>
<polygon points="164.5,447 166,447.1 166,450.9 164.5,450.8" fill="#c7c7c7"/>
<polygon points="166,447.1 170.8,447.2 170.8,451.1 166,450.9" fill="#c0c0c0"/>
<polygon points="170.8,447.2 177.3,447.4 177.3,451.4 170.8,451.1" fill="#c6c6c6"/>
<polygon points="177.3,447.4 182.4,447.5 182.4,451.6 177.3,451.4" fill="#c0c0c0"/>
<polygon points="182.4,447.5 189.5,447.7 189.5,451.9 182.4,451.6" fill="#c6c6c6"/>
<polygon points="189.5,447.7 195,447.9 195,452.1 189.5,451.9" fill="#c0c0c0"/>
<polygon points="195,447.9 200.7,448.1 200.7,452.4 195,452.1" fill="#c6c6c6"/>
<polygon points="200.7,448.1 206.7,448.2 206.7,452.6 200.7,452.4" fill="#dedede"/>
<polygon points="206.7,448.2 208.7,448.3 208.7,452.7 206.7,452.6" fill="#8c8c8c"/>
<polygon points="208.7,448.3 212.9,448.4 212.9,452.9 208.7,452.7" fill="#000000"/>
<polygon points="163,451.8 164.5,451.9 164.5,455.7 163,455.6" fill="#3c3c3c"/>
<polygon points="164.5,451.9 169.2,452.1 169.2,456 164.5,455.7" fill="#bfbfbf"/>
<polygon points="169.2,452.1 175.6,452.4 175.6,456.4 169.2,456" fill="#c8c8c8"/>
<polygon points="175.6,452.4 180.7,452.7 180.7,456.7 175.6,456.4" fill="#bfbfbf"/>
<polygon points="180.7,452.7 187.7,453 187.7,457.1 180.7,456.7" fill="#c8c8c8"/>
<polygon points="187.7,453 193.1,453.2 193.1,457.4 187.7,457.1" fill="#bebebe"/>
<polygon points="193.1,453.2 200.7,453.6 200.7,457.9 193.1,457.4" fill="#c8c8c8"/>
<polygon points="200.7,453.6 206.7,453.9 206.7,458.2 200.7,457.9" fill="#dedede"/>
<polygon points="206.7,453.9 208.7,454 208.7,458.4 206.7,458.2" fill="#8c8c8c"/>
<polygon points="208.7,454 212.9,454.1 212.9,458.6 208.7,458.4" fill="#000000"/>
<polygon points="163,456.7 164.5,456.8 164.5,460.6 163,460.5" fill="#3c3c3c"/>
<polygon points="164.5,456.8 166,456.9 166,460.7 164.5,460.6" fill="#bfbfbf"/>
<polygon points="166,456.9 169.2,457.1 169.2,461 166,460.7" fill="#c5c5c5"/>
<polygon points="169.2,457.1 172.4,457.3 172.4,461.2 169.2,461" fill="#cbcbcb"/>
<polygon points="172.4,457.3 179,457.7 179,461.7 172.4,461.2" fill="#c1c1c1"/>
<polygon points="179,457.7 184.1,458 184.1,462.1 179,461.7" fill="#cacaca"/>
<polygon points="184.1,458 191.3,458.5 191.3,462.7 184.1,462.1" fill="#c1c1c1"/>
<polygon points="191.3,458.5 196.9,458.9 196.9,463.1 191.3,462.7" fill="#cacaca"/>
<polygon points="196.9,458.9 202.7,459.2 202.7,463.6 196.9,463.1" fill="#c1c1c1"/>
<polygon points="202.7,459.2 204.7,459.4 204.7,463.7 202.7,463.6" fill="#969696"/>
<polygon points="204.7,459.4 206.7,459.5 206.7,463.9 204.7,463.7" fill="#191919"/>
<polygon points="206.7,459.5 212.9,459.9 212.9,464.3 206.7,463.9" fill="#000000"/>
<polygon points="163,461.5 164.5,461.7 164.5,465.5 163,465.3" fill="#3c3c3c"/>
<polygon points="164.5,461.7 170.8,462.2 170.8,466.1 164.5,465.5" fill="#c8c8c8"/>
<polygon points="170.8,462.2 175.6,462.6 175.6,466.5 170.8,466.1" fill="#bfbfbf"/>
<polygon points="175.6,462.6 182.4,463.1 182.4,467.2 175.6,466.5" fill="#c8c8c8"/>
<polygon points="182.4,463.1 187.7,463.6 187.7,467.7 182.4,467.2" fill="#bfbfbf"/>
<polygon points="187.7,463.6 195,464.2 195,468.4 187.7,467.7" fill="#c8c8c8"/>
<polygon points="195,464.2 200.7,464.6 200.7,468.9 195,468.4" fill="#bfbfbf"/>
<polygon points="200.7,464.6 202.7,464.8 202.7,469.1 200.7,468.9" fill="#c8c8c8"/>
<polygon points="202.7,464.8 204.7,464.9 204.7,469.3 202.7,469.1" fill="#969696"/>
<polygon points="204.7,464.9 206.7,465.1 206.7,469.5 204.7,469.3" fill="#191919"/>
<polygon points="206.7,465.1 212.9,465.6 212.9,470.1 206.7,469.5" fill="#000000"/>
<polygon points="163,466.4 164.5,466.6 164.5,470.4 163,470.2" fill="#3c3c3c"/>
<polygon points="164.5,466.6 167.6,466.9 167.6,470.7 164.5,470.4" fill="#cbcbcb"/>
<polygon points="167.6,466.9 174,467.5 174,471.4 167.6,470.7" fill="#c2c2c2"/>
<polygon points="174,467.5 179,468 179,472 174,471.4" fill="#cacaca"/>
<polygon points="179,468 185.9,468.7 185.9,472.8 179,472" fill="#c2c2c2"/>
<polygon points="185.9,468.7 191.3,469.2 191.3,473.4 185.9,472.8" fill="#cacaca"/>
<polygon points="191.3,469.2 198.8,469.9 198.8,474.2 191.3,473.4" fill="#c1c1c1"/>
<polygon points="198.8,469.9 202.7,470.3 202.7,474.7 198.8,474.2" fill="#cacaca"/>
<polygon points="202.7,470.3 204.7,470.5 204.7,474.9 202.7,474.7" fill="#969696"/>
<polygon points="204.7,470.5 206.7,470.7 206.7,475.1 204.7,474.9" fill="#191919"/>
<polygon points="206.7,470.7 212.9,471.3 212.9,475.8 206.7,475.1" fill="#000000"/>
<polygon points="163,471.2 164.5,471.4 164.5,475.2 163,475" fill="#3c3c3c"/>
<polygon points="164.5,471.4 167.6,471.8 167.6,475.6 164.5,475.2" fill="#afafaf"/>
<polygon points="167.6,471.8 169.2,472 169.2,475.8 167.6,475.6" fill="#505050"/>
<polygon points="169.2,472 170.8,472.2 170.8,476 169.2,475.8" fill="#c1c1c1"/>
<polygon points="170.8,472.2 177.3,472.9 177.3,476.9 170.8,476" fill="#c7c7c7"/>
<polygon points="177.3,472.9 182.4,473.5 182.4,477.6 177.3,476.9" fill="#bfbfbf"/>
<polygon points="182.4,473.5 189.5,474.3 189.5,478.5 182.4,477.6" fill="#c7c7c7"/>
<polygon points="189.5,474.3 195,475 195,479.2 189.5,478.5" fill="#bfbfbf"/>
<polygon points="195,475 202.7,475.9 202.7,480.2 195,479.2" fill="#c7c7c7"/>
<polygon points="202.7,475.9 204.7,476.1 204.7,480.5 202.7,480.2" fill="#969696"/>
<polygon points="204.7,476.1 206.7,476.4 206.7,480.7 204.7,480.5" fill="#191919"/>
<polygon points="206.7,476.4 212.9,477.1 212.9,481.5 206.7,480.7" fill="#000000"/>
<polygon points="163,476.1 164.5,476.3 164.5,480.1 163,479.9" fill="#3c3c3c"/>
<polygon points="164.5,476.3 167.6,476.7 167.6,480.6 164.5,480.1" fill="#afafaf"/>
<polygon points="167.6,476.7 169.2,476.9 169.2,480.8 167.6,480.6" fill="#505050"/>
<polygon points="169.2,476.9 174,477.6 174,481.5 169.2,480.8" fill="#c9c9c9"/>
<polygon points="174,477.6 180.7,478.5 180.7,482.5 174,481.5" fill="#c2c2c2"/>
<polygon points="180.7,478.5 185.9,479.2 185.9,483.3 180.7,482.5" fill="#cacaca"/>
<polygon points="185.9,479.2 193.1,480.1 193.1,484.3 185.9,483.3" fill="#c2c2c2"/>
<polygon points="193.1,480.1 198.8,480.9 198.8,485.2 193.1,484.3" fill="#cacaca"/>
<polygon points="198.8,480.9 202.7,481.4 202.7,485.8 198.8,485.2" fill="#c2c2c2"/>
<polygon points="202.7,481.4 204.7,481.7 204.7,486.1 202.7,485.8" fill="#969696"/>
<polygon points="204.7,481.7 206.7,482 206.7,486.4 204.7,486.1" fill="#191919"/>
<polygon points="206.7,482 212.9,482.8 212.9,487.3 206.7,486.4" fill="#000000"/>
<polygon points="163,480.9 164.5,481.2 164.5,485 163,484.7" fill="#282828"/>
<polygon points="164.5,481.2 167.6,481.6 167.6,485.5 164.5,485" fill="#a0a0a0"/>
<polygon points="167.6,481.6 202.7,487 202.7,491.3 167.6,485.5" fill="#e8e8e8"/>
<polygon points="202.7,487 204.7,487.3 204.7,491.6 202.7,491.3" fill="#bebebe"/>
<polygon points="204.7,487.3 212.9,488.5 212.9,493 204.7,491.6" fill="#000000"/>
<polygon points="163,485.8 164.5,486.1 164.5,489.9 163,489.6" fill="#0f0f0f"/>
<polygon points="164.5,486.1 170.8,487.1 170.8,491 164.5,489.9" fill="#505050"/>
<polygon points="170.8,487.1 177.3,488.2 177.3,492.2 170.8,491" fill="#565656"/>
<polygon points="177.3,488.2 184.1,489.4 184.1,493.5 177.3,492.2" fill="#5c5c5c"/>
<polygon points="184.1,489.4 191.3,490.6 191.3,494.8 184.1,493.5" fill="#636363"/>
<polygon points="191.3,490.6 198.8,491.9 198.8,496.2 191.3,494.8" fill="#696969"/>
<polygon points="198.8,491.9 204.7,492.9 204.7,497.2 198.8,496.2" fill="#6f6f6f"/>
<polygon points="204.7,492.9 212.9,494.3 212.9,498.7 204.7,497.2" fill="#000000"/>
<polygon points="163,490.6 212.9,500 212.9,504.5 163,494.4" fill="#000000"/>
<polygon points="163,495.5 212.9,505.7 212.9,510.2 163,499.3" fill="#000000"/>
<polygon points="163,500.4 212.9,511.5 212.9,515.9 163,504.1" fill="#000000"/>
<path d="M164.5 369L164.5 505.6M166 368.6L166 505.9M167.6 368.2L167.6 506.3M169.2 367.8L169.2 506.7M170.8 367.4L170.8 507.1M172.4 367L172.4 507.4M174 366.6L174 507.8M175.6 366.2L175.6 508.2M177.3 365.8L177.3 508.6M179 365.3L179 509M180.7 364.9L180.7 509.4M182.4 364.5L182.4 509.9M184.1 364L184.1 510.3M185.9 363.6L185.9 510.7M187.7 363.1L187.7 511.1M189.5 362.7L189.5 511.6M191.3 362.2L191.3 512M193.1 361.7L193.1 512.4M195 361.3L195 512.9M196.9 360.8L196.9 513.3M198.8 360.3L198.8 513.8M200.7 359.8L200.7 514.3M202.7 359.3L202.7 514.7M204.7 358.8L204.7 515.2M206.7 358.3L206.7 515.7M208.7 357.8L208.7 516.2M210.8 357.2L210.8 516.7" stroke="#fbf3ec" stroke-opacity="0.25" stroke-width="0.35"/>
<line x1="218.8" y1="367.3" x2="341.6" y2="367.3" stroke="#111" stroke-width="1.1" stroke-dasharray="1.1,1.1"/><path d="M213.8 367.3L219.8 365L218.3 367.3L219.8 369.6Z" fill="#000"/><path d="M346.6 367.3L340.6 365L342.1 367.3L340.6 369.6Z" fill="#000"/>
<text x="272.6" y="363.5" font-size="13.5" font-style="italic">t</text><text x="278.8" y="358.7" font-size="9.5">ls</text><text x="278.6" y="366.8" font-size="9.5">1</text>
<line x1="355.4" y1="374.2" x2="452.4" y2="374.2" stroke="#111" stroke-width="1.1" stroke-dasharray="1.1,1.1"/><path d="M350.4 374.2L356.4 371.9L354.9 374.2L356.4 376.5Z" fill="#000"/><path d="M457.4 374.2L451.4 371.9L452.9 374.2L451.4 376.5Z" fill="#000"/>
<text x="394.8" y="370.4" font-size="13.5" font-style="italic">t</text><text x="401" y="365.6" font-size="9.5">ls</text><text x="400.8" y="373.7" font-size="9.5">2</text>
<line x1="463.6" y1="390.8" x2="521.6" y2="390.8" stroke="#111" stroke-width="1.1" stroke-dasharray="1.1,1.1"/><path d="M458.6 390.8L464.6 388.5L463.1 390.8L464.6 393.1Z" fill="#000"/><path d="M526.6 390.8L520.6 388.5L522.1 390.8L520.6 393.1Z" fill="#000"/>
<text x="485" y="386" font-size="13.5" font-style="italic">t</text><text x="491.2" y="381.2" font-size="9.5">ls</text><text x="491" y="389.3" font-size="9.5">3</text>
<line x1="13.1" y1="526.4" x2="685" y2="526.4" stroke="#a0a0a0" stroke-width="1" stroke-dasharray="3.9,3.92"/>
<path d="M65.7 539.4V652.1M108.4 539.4V652.1M151 539.4V652.1M55.5 559.3H193.7M55.5 595.5H193.7M55.5 631.6H193.7" stroke="#c2c2c2" stroke-width="0.85" fill="none"/>
<path d="M65.7 658.6V771.4M108.4 658.6V771.4M151 658.6V771.4M55.5 669.8H193.7M55.5 705.5H193.7M55.5 740.9H193.7" stroke="#c2c2c2" stroke-width="0.85" fill="none"/>
<path d="M65.7 777.5V890.3M108.4 777.5V890.3M151 777.5V890.3M55.5 791.5H193.7M55.5 829H193.7M55.5 866.2H193.7" stroke="#c2c2c2" stroke-width="0.85" fill="none"/>
<path d="M292.2 539.4V652.1M334.7 539.4V652.1M377.3 539.4V652.1M282 545.3H419.8M282 581.1H419.8M282 616.8H419.8" stroke="#c2c2c2" stroke-width="0.85" fill="none"/>
<path d="M292.2 658.6V771.4M334.7 658.6V771.4M377.3 658.6V771.4M282 672.2H419.8M282 705.4H419.8M282 739.4H419.8" stroke="#c2c2c2" stroke-width="0.85" fill="none"/>
<path d="M292.2 777.5V890.3M334.7 777.5V890.3M377.3 777.5V890.3M282 801.4H419.8M282 835.7H419.8M282 870.8H419.8" stroke="#c2c2c2" stroke-width="0.85" fill="none"/>
<path d="M518.4 539.4V652.1M561.1 539.4V652.1M603.7 539.4V652.1M508.2 556.5H646.3M508.2 591.6H646.3M508.2 627.3H646.3" stroke="#c2c2c2" stroke-width="0.85" fill="none"/>
<path d="M518.4 658.6V771.4M561.1 658.6V771.4M603.7 658.6V771.4M508.2 674.5H646.3M508.2 709.8H646.3M508.2 744.7H646.3" stroke="#c2c2c2" stroke-width="0.85" fill="none"/>
<path d="M518.4 777.5V890.3M561.1 777.5V890.3M603.7 777.5V890.3M508.2 809H646.3M508.2 848.2H646.3M508.2 887.5H646.3" stroke="#c2c2c2" stroke-width="0.85" fill="none"/>
<path d="M64.5 571.6H98M64.5 570.1v3M98 570.1v3M81.5 566.3V577.3M80 566.3h3M80 577.3h3M97.3 566V573.5M95.8 566h3M95.8 573.5h3M126 565.3H150M126 563.8v3M150 563.8v3M138.6 561V569.5M137.1 561h3M137.1 569.5h3M155 557.9H167M155 556.4v3M167 556.4v3M163 554V561.5M161.5 554h3M161.5 561.5h3M168.9 547.5V556M167.4 547.5h3M167.4 556h3" stroke="#ff7f0e" stroke-opacity="0.5" stroke-width="0.8" fill="none"/>
<polyline points="81.5,571.6 97.3,569.9 111.1,568.4 138.6,565.3 163,557.9 167.2,555.1 168.9,551.9 169.3,548.3" stroke="#ff7f0e" stroke-width="1.5" fill="none" stroke-linejoin="round"/>
<path d="M78.3 578.4H101.6M78.3 576.9v3M101.6 576.9v3M89.9 573V583.3M88.4 573h3M88.4 583.3h3M100 568.4H125M100 566.9v3M125 566.9v3M111.1 563.2V574.2M109.6 563.2h3M109.6 574.2h3M128 558.7H150.3M128 557.2v3M150.3 557.2v3M143.9 554.5V562.5M142.4 554.5h3M142.4 562.5h3M146 552H165M146 550.5v3M165 550.5v3M155.5 549V555M154 549h3M154 555h3M166.1 544.5V549.5M164.6 544.5h3M164.6 549.5h3" stroke="#9467bd" stroke-opacity="0.5" stroke-width="0.8" fill="none"/>
<polyline points="89.9,578.4 111.1,568.4 143.9,558.7 166.1,547.1" stroke="#9467bd" stroke-width="1.15" fill="none" stroke-linejoin="round"/>
<path d="M79.3 646.1H135M79.3 644.6v3M135 644.6v3M188.4 639.5V644.5M186.9 639.5h3M186.9 644.5h3M190 640V644.5M188.5 640h3M188.5 644.5h3" stroke="#2ca02c" stroke-opacity="0.5" stroke-width="0.8" fill="none"/>
<polyline points="106.9,646.1 135.4,645.1 151.3,644.7 165.1,644 177.8,643 188.4,641.9" stroke="#2ca02c" stroke-width="1.45" fill="none" stroke-linejoin="round"/>
<path d="M81 705.2H107M81 703.7v3M107 703.7v3M94.2 699.5V710.5M92.7 699.5h3M92.7 710.5h3M106 692.7H142M106 691.2v3M142 691.2v3M124.9 688V697.5M123.4 688h3M123.4 697.5h3M111 688.9H146M111 687.4v3M146 687.4v3M128 685V693M126.5 685h3M126.5 693h3M131 676.8H159M131 675.3v3M159 675.3v3M145.6 673V681M144.1 673h3M144.1 681h3M163 664.5V671.5M161.5 664.5h3M161.5 671.5h3" stroke="#9467bd" stroke-opacity="0.5" stroke-width="0.8" fill="none"/>
<polyline points="94.2,705.2 124.9,692.7 128,688.9 145.6,676.8 163,668.1" stroke="#9467bd" stroke-width="1.15" fill="none" stroke-linejoin="round"/>
<path d="M62 739.7H95M62 738.2v3M95 738.2v3M78.3 736.5V742.5M76.8 736.5h3M76.8 742.5h3M116 734.6H137M116 733.1v3M137 733.1v3M127 730V739M125.5 730h3M125.5 739h3M128 727.4H150M128 725.9v3M150 725.9v3M139.7 723V731.5M138.2 723h3M138.2 731.5h3M153 715.3H161M153 713.8v3M161 713.8v3M157.7 711V720M156.2 711h3M156.2 720h3M163.4 694.5V708M161.9 694.5h3M161.9 708h3" stroke="#ff7f0e" stroke-opacity="0.5" stroke-width="0.8" fill="none"/>
<polyline points="78.3,739.7 94.2,738.2 116.4,735.4 127,734.6 139.7,727.4 157.7,715.3 163.4,701.6" stroke="#ff7f0e" stroke-width="1.5" fill="none" stroke-linejoin="round"/>
<path d="M118 764.7H141M118 763.2v3M141 763.2v3M145 761.9H186M145 760.4v3M186 760.4v3M165.1 758V764M163.6 758h3M163.6 764h3M186.2 753V758M184.7 753h3M184.7 758h3" stroke="#2ca02c" stroke-opacity="0.5" stroke-width="0.8" fill="none"/>
<polyline points="130.1,764.7 140.7,764 165.1,761.9 186.2,755.5" stroke="#2ca02c" stroke-width="1.45" fill="none" stroke-linejoin="round"/>
<polygon points="145,762 165,759 186,755.5 186,763 165,763.5 145,764" fill="#2ca02c" fill-opacity="0.2"/>
<path d="M59 851.2H73.5M59 849.7v3M73.5 849.7v3M66.6 846.5V856M65.1 846.5h3M65.1 856h3M129 832.2H139.5M129 830.7v3M139.5 830.7v3M134.4 826V838M132.9 826h3M132.9 838h3M146 810V826M144.5 810h3M144.5 826h3M145.5 808.9H150M145.5 807.4v3M150 807.4v3M147.7 803V815M146.2 803h3M146.2 815h3M148.1 792V808M146.6 792h3M146.6 808h3M148.1 785V798M146.6 785h3M146.6 798h3" stroke="#9467bd" stroke-opacity="0.5" stroke-width="0.8" fill="none"/>
<polyline points="66.6,851.2 134.4,832.2 146,816.9 147.7,808.9 148.1,800.4 148.1,791.9" stroke="#9467bd" stroke-width="1.15" fill="none" stroke-linejoin="round"/>
<path d="M77 879.8H100M77 878.3v3M100 878.3v3M88.9 875V885M87.4 875h3M87.4 885h3M148.1 865V875.5M146.6 865h3M146.6 875.5h3M159.8 861V871M158.3 861h3M158.3 871h3M161.5 851V860M160 851h3M160 860h3" stroke="#ff7f0e" stroke-opacity="0.5" stroke-width="0.8" fill="none"/>
<polyline points="88.9,879.8 148.1,870.3 159.8,866 161.3,859.7 161.5,854.4" stroke="#ff7f0e" stroke-width="1.5" fill="none" stroke-linejoin="round"/>
<path d="M117 864.3H134M117 862.8v3M134 862.8v3M132.3 860V868.5M130.8 860h3M130.8 868.5h3M178 853V863M176.5 853h3M176.5 863h3M184.1 851V861M182.6 851h3M182.6 861h3M185 853V862M183.5 853h3M183.5 862h3" stroke="#2ca02c" stroke-opacity="0.5" stroke-width="0.8" fill="none"/>
<polyline points="132.3,864.3 160.8,860.1 184.1,856.5" stroke="#2ca02c" stroke-width="1.45" fill="none" stroke-linejoin="round"/>
<path d="M291 629.2H325M291 627.7v3M325 627.7v3M307.5 619V637M306 619h3M306 637h3M352 614.4H377M352 612.9v3M377 612.9v3M364.7 601V628M363.2 601h3M363.2 628h3M385 589H393M385 587.5v3M393 587.5v3M389.7 578V600M388.2 578h3M388.2 600h3M394.7 565V583M393.2 565h3M393.2 583h3M395.6 546V564M394.1 546h3M394.1 564h3" stroke="#ff7f0e" stroke-opacity="0.5" stroke-width="0.8" fill="none"/>
<polyline points="307.5,629.2 337.2,621.4 364.7,614.4 389.7,589 394.7,573.1 395.6,555.1" stroke="#ff7f0e" stroke-width="1.5" fill="none" stroke-linejoin="round"/>
<path d="M304 637H329M304 635.5v3M329 635.5v3M316.4 630V645M314.9 630h3M314.9 645h3M322 621.8H352M322 620.3v3M352 620.3v3M336.7 608V633M335.2 608h3M335.2 633h3M353 596.4H385M353 594.9v3M385 594.9v3M368.9 582V606M367.4 582h3M367.4 606h3M382.7 569V595M381.2 569h3M381.2 595h3M393.3 556V570M391.8 556h3M391.8 570h3" stroke="#9467bd" stroke-opacity="0.5" stroke-width="0.8" fill="none"/>
<polyline points="316.4,637 336.7,621.8 368.9,596.4 382.7,582.6 393.3,562.5" stroke="#9467bd" stroke-width="1.15" fill="none" stroke-linejoin="round"/>
<path d="M306 626H361M306 624.5v3M361 624.5v3M332.9 611V641M331.4 611h3M331.4 641h3M364 609.5H392M364 608v3M392 608v3M377.4 594V625M375.9 594h3M375.9 625h3M397 586.4H414M397 584.9v3M414 584.9v3M406 575V598M404.5 575h3M404.5 598h3M404 569H416M404 567.5v3M416 567.5v3M410 561V577M408.5 561h3M408.5 577h3M415.5 545V557M414 545h3M414 557h3" stroke="#2ca02c" stroke-opacity="0.5" stroke-width="0.8" fill="none"/>
<polyline points="332.9,626 364.7,614.4 377.4,609.5 406,586.4 415.5,549.8" stroke="#2ca02c" stroke-width="1.45" fill="none" stroke-linejoin="round"/>
<path d="M397.5 553C404 546 409 541 415.5 540.9H430" stroke="#a8a8a8" stroke-width="1" fill="none"/>
<path d="M289 762.5H320M289 761v3M320 761v3M304.3 759.5V765.5M302.8 759.5h3M302.8 765.5h3M343 750.7H363M343 749.2v3M363 749.2v3M353 746V755M351.5 746h3M351.5 755h3M351 738.6H377M351 737.1v3M377 737.1v3M365.7 732V748M364.2 732h3M364.2 748h3M382 713.2H386M382 711.7v3M386 711.7v3M383.7 700V727M382.2 700h3M382.2 727h3M390.1 663V692M388.6 663h3M388.6 692h3" stroke="#ff7f0e" stroke-opacity="0.5" stroke-width="0.8" fill="none"/>
<polyline points="304.3,762.5 353,750.7 365.7,738.6 383.7,713.2 390.1,678.3" stroke="#ff7f0e" stroke-width="1.5" fill="none" stroke-linejoin="round"/>
<path d="M308 749.8H333M308 748.3v3M333 748.3v3M320.6 745V754M319.1 745h3M319.1 754h3M334 740.7H371M334 739.2v3M371 739.2v3M350.9 735V745M349.4 735h3M349.4 745h3M358 725.9H386M358 724.4v3M386 724.4v3M372.1 721V730M370.6 721h3M370.6 730h3M389.7 697V708M388.2 697h3M388.2 708h3" stroke="#9467bd" stroke-opacity="0.5" stroke-width="0.8" fill="none"/>
<polyline points="320.6,749.8 350.9,740.7 372.1,725.9 389.7,702.6" stroke="#9467bd" stroke-width="1.15" fill="none" stroke-linejoin="round"/>
<path d="M345 756.6H368M345 755.1v3M368 755.1v3M356.2 753V760M354.7 753h3M354.7 760h3M371 746H412M371 744.5v3M412 744.5v3M391.1 737V752M389.6 737h3M389.6 752h3M390 719.6H413M390 718.1v3M413 718.1v3M401.7 706V731M400.2 706h3M400.2 731h3M412.9 671V699M411.4 671h3M411.4 699h3" stroke="#2ca02c" stroke-opacity="0.5" stroke-width="0.8" fill="none"/>
<polyline points="356.2,756.6 391.1,746 391.8,740.7 401.7,719.6 412.9,684.6" stroke="#2ca02c" stroke-width="1.45" fill="none" stroke-linejoin="round"/>
<path d="M285 846.5H300M285 845v3M300 845v3M292.7 821.5V871M291.2 821.5h3M291.2 871h3M361.1 816V849M359.6 816h3M359.6 849h3M371 814.2H377M371 812.7v3M377 812.7v3M373.1 791V840M371.6 791h3M371.6 840h3M374.6 782V797M373.1 782h3M373.1 797h3" stroke="#9467bd" stroke-opacity="0.5" stroke-width="0.8" fill="none"/>
<polyline points="292.7,846.5 361.1,833.2 373.1,814.2 374.2,803.6 374.6,789.8" stroke="#9467bd" stroke-width="1.15" fill="none" stroke-linejoin="round"/>
<path d="M303 866.7H327M303 865.2v3M327 865.2v3M314.9 851V882M313.4 851h3M313.4 882h3M374.2 838V878M372.7 838h3M372.7 878h3M387.5 815V863M386 815h3M386 863h3" stroke="#ff7f0e" stroke-opacity="0.5" stroke-width="0.8" fill="none"/>
<polyline points="314.9,866.7 374.2,857.6 385.8,848 387.5,838.5 388,832.2" stroke="#ff7f0e" stroke-width="1.5" fill="none" stroke-linejoin="round"/>
<path d="M343 874.5H373M343 873v3M373 873v3M358.7 864V885M357.2 864h3M357.2 885h3M406 831V858M404.5 831h3M404.5 858h3M411.2 816V855M409.7 816h3M409.7 855h3" stroke="#2ca02c" stroke-opacity="0.5" stroke-width="0.8" fill="none"/>
<polyline points="358.7,874.5 406,843.8 410.2,840.6 411.2,833.8" stroke="#2ca02c" stroke-width="1.45" fill="none" stroke-linejoin="round"/>
<path d="M425 822.6H407C400 822.6 395 827 391 831.5" stroke="#a8a8a8" stroke-width="1" fill="none"/><path d="M389.5 833.2l1.2-4.2 2.8 2.4z" fill="#999"/>
<path d="M518 637.7H549M518 636.2v3M549 636.2v3M534.6 632.5V643M533.1 632.5h3M533.1 643h3M580 633.4H597M580 631.9v3M597 631.9v3M589.7 630V637M588.2 630h3M588.2 637h3M609.8 618V630M608.3 618h3M608.3 630h3M616.1 610V628M614.6 610h3M614.6 628h3M621.4 544.5V612M619.9 544.5h3M619.9 612h3" stroke="#ff7f0e" stroke-opacity="0.5" stroke-width="0.8" fill="none"/>
<polyline points="534.6,637.7 589.7,633.4 609.8,623.9 616.1,619.7 620.4,609.1 621.4,578.4" stroke="#ff7f0e" stroke-width="1.5" fill="none" stroke-linejoin="round"/>
<path d="M530 644H555M530 642.5v3M555 642.5v3M542 640V648M540.5 640h3M540.5 648h3M583 634.1H600M583 632.6v3M600 632.6v3M591.8 630V638M590.3 630h3M590.3 638h3M598 627.1H610M598 625.6v3M610 625.6v3M603.4 622V632M601.9 622h3M601.9 632h3M619.3 590V625M617.8 590h3M617.8 625h3" stroke="#9467bd" stroke-opacity="0.5" stroke-width="0.8" fill="none"/>
<polyline points="542,644 568.5,638.7 591.8,634.1 603.4,627.1 616.1,617.6 619.3,608" stroke="#9467bd" stroke-width="1.15" fill="none" stroke-linejoin="round"/>
<path d="M531 640.8H587M531 639.3v3M587 639.3v3M559 636V647M557.5 636h3M557.5 647h3M603.4 622V643M601.9 622h3M601.9 643h3M630 627.1H643M630 625.6v3M643 625.6v3M632 615V635M630.5 615h3M630.5 635h3M630 610.1H643M630 608.6v3M643 608.6v3M637.3 591V620M635.8 591h3M635.8 620h3M641.5 584V615M640 584h3M640 615h3" stroke="#2ca02c" stroke-opacity="0.5" stroke-width="0.8" fill="none"/>
<polyline points="559,640.8 603.4,632 632,627.1 637.3,610.1 641.5,599.6" stroke="#2ca02c" stroke-width="1.45" fill="none" stroke-linejoin="round"/>
<path d="M515 758.1H543M515 756.6v3M543 756.6v3M530.4 756V760M528.9 756h3M528.9 760h3M568 746H590M568 744.5v3M590 744.5v3M579.1 740V752M577.6 740h3M577.6 752h3M582 737.6H603M582 736.1v3M603 736.1v3M591.8 726V748M590.3 726h3M590.3 748h3M604 724.9H615M604 723.4v3M615 723.4v3M609.8 707V744M608.3 707h3M608.3 744h3M616.1 663V721M614.6 663h3M614.6 721h3" stroke="#ff7f0e" stroke-opacity="0.5" stroke-width="0.8" fill="none"/>
<polyline points="530.4,758.1 579.1,746 591.8,737.6 609.8,724.9 616.1,698.4" stroke="#ff7f0e" stroke-width="1.5" fill="none" stroke-linejoin="round"/>
<path d="M530 757.7H547M530 756.2v3M547 756.2v3M533.6 755V760M532.1 755h3M532.1 760h3M575 752.8H590M575 751.3v3M590 751.3v3M579.1 749V757M577.6 749h3M577.6 757h3M583 747.5H610M583 746v3M610 746v3M598.1 737V759M596.6 737h3M596.6 759h3M615.5 715V750M614 715h3M614 750h3" stroke="#9467bd" stroke-opacity="0.5" stroke-width="0.8" fill="none"/>
<polyline points="533.6,757.7 560,754.5 579.1,752.8 598.1,747.5 615.5,732.3" stroke="#9467bd" stroke-width="1.15" fill="none" stroke-linejoin="round"/>
<path d="M582.3 740V766M580.8 740h3M580.8 766h3M618.3 738V758M616.8 738h3M616.8 758h3M616 730.1H638M616 728.6v3M638 728.6v3M627.8 709V751M626.3 709h3M626.3 751h3M638.8 700V736M637.3 700h3M637.3 736h3M618 747.5H642M618 746v3M642 746v3" stroke="#2ca02c" stroke-opacity="0.5" stroke-width="0.8" fill="none"/>
<polyline points="582.3,752.8 598.1,750.7 618.3,747.5 627.8,730.1 638.8,718.5" stroke="#2ca02c" stroke-width="1.45" fill="none" stroke-linejoin="round"/>
<path d="M511 884H526M511 882.5v3M526 882.5v3M512.4 882V886M510.9 882h3M510.9 886h3M587.6 868V885M586.1 868h3M586.1 885h3M599.2 860V881M597.7 860h3M597.7 881h3M601.3 782.5V800M599.8 782.5h3M599.8 800h3M601 814V826M599.5 814h3M599.5 826h3" stroke="#9467bd" stroke-opacity="0.5" stroke-width="0.8" fill="none"/>
<polyline points="512.4,884 587.6,876.6 599.2,867.1 600.7,849.1 601.3,791.9" stroke="#9467bd" stroke-width="1.15" fill="none" stroke-linejoin="round"/>
<path d="M529 878.7H556M529 877.2v3M556 877.2v3M542 874V884M540.5 874h3M540.5 884h3M600.3 866V877M598.8 866h3M598.8 877h3M613 822V857M611.5 822h3M611.5 857h3M614.4 785V805M612.9 785h3M612.9 805h3" stroke="#ff7f0e" stroke-opacity="0.5" stroke-width="0.8" fill="none"/>
<polyline points="542,878.7 585.4,873.4 600.3,872.4 613,840.6 614.4,793" stroke="#ff7f0e" stroke-width="1.5" fill="none" stroke-linejoin="round"/>
<path d="M569 872.4H600M569 870.9v3M600 870.9v3M585.4 862V882M583.9 862h3M583.9 882h3M632 848V876M630.5 848h3M630.5 876h3M637.3 812V863M635.8 812h3M635.8 863h3" stroke="#2ca02c" stroke-opacity="0.5" stroke-width="0.8" fill="none"/>
<polyline points="585.4,872.4 602.4,868.1 632,861.8 636.2,854.4 637.3,824.7" stroke="#2ca02c" stroke-width="1.45" fill="none" stroke-linejoin="round"/>
<rect x="55.5" y="539.4" width="138.2" height="112.7" fill="none" stroke="#404040" stroke-width="0.9"/>
<text x="50" y="563.2" font-size="10.25" text-anchor="end">60</text>
<text x="50" y="599.4" font-size="10.25" text-anchor="end">40</text>
<text x="50" y="635.5" font-size="10.25" text-anchor="end">20</text>
<path d="M52 559.3H55.5M52 595.5H55.5M52 631.6H55.5" stroke="#404040" stroke-width="0.8" fill="none"/>
<rect x="55.5" y="658.6" width="138.2" height="112.8" fill="none" stroke="#404040" stroke-width="0.9"/>
<text x="50" y="673.7" font-size="10.25" text-anchor="end">60</text>
<text x="50" y="709.4" font-size="10.25" text-anchor="end">40</text>
<text x="50" y="744.8" font-size="10.25" text-anchor="end">20</text>
<path d="M52 669.8H55.5M52 705.5H55.5M52 740.9H55.5" stroke="#404040" stroke-width="0.8" fill="none"/>
<rect x="55.5" y="777.5" width="138.2" height="112.8" fill="none" stroke="#404040" stroke-width="0.9"/>
<text x="50" y="795.4" font-size="10.25" text-anchor="end">2.0</text>
<text x="50" y="832.9" font-size="10.25" text-anchor="end">1.5</text>
<text x="50" y="870.1" font-size="10.25" text-anchor="end">1.0</text>
<text x="65.7" y="903.2" font-size="10.25" text-anchor="middle">0.4</text>
<text x="108.4" y="903.2" font-size="10.25" text-anchor="middle">0.6</text>
<text x="151" y="903.2" font-size="10.25" text-anchor="middle">0.8</text>
<text x="193.7" y="903.2" font-size="10.25" text-anchor="middle">1.0</text>
<path d="M52 791.5H55.5M52 829H55.5M52 866.2H55.5M65.7 890.3V893.8M108.4 890.3V893.8M151 890.3V893.8M193.7 890.3V893.8" stroke="#404040" stroke-width="0.8" fill="none"/>
<rect x="282" y="539.4" width="137.8" height="112.7" fill="none" stroke="#404040" stroke-width="0.9"/>
<text x="276.5" y="549.2" font-size="10.25" text-anchor="end">20</text>
<text x="276.5" y="585" font-size="10.25" text-anchor="end">15</text>
<text x="276.5" y="620.7" font-size="10.25" text-anchor="end">10</text>
<path d="M278.5 545.3H282M278.5 581.1H282M278.5 616.8H282" stroke="#404040" stroke-width="0.8" fill="none"/>
<rect x="282" y="658.6" width="137.8" height="112.8" fill="none" stroke="#404040" stroke-width="0.9"/>
<text x="276.5" y="676.1" font-size="10.25" text-anchor="end">15</text>
<text x="276.5" y="709.3" font-size="10.25" text-anchor="end">10</text>
<text x="276.5" y="743.3" font-size="10.25" text-anchor="end">5</text>
<path d="M278.5 672.2H282M278.5 705.4H282M278.5 739.4H282" stroke="#404040" stroke-width="0.8" fill="none"/>
<rect x="282" y="777.5" width="137.8" height="112.8" fill="none" stroke="#404040" stroke-width="0.9"/>
<text x="276.5" y="805.3" font-size="10.25" text-anchor="end">0.45</text>
<text x="276.5" y="839.6" font-size="10.25" text-anchor="end">0.40</text>
<text x="276.5" y="874.7" font-size="10.25" text-anchor="end">0.35</text>
<text x="292.2" y="903.2" font-size="10.25" text-anchor="middle">0.4</text>
<text x="334.7" y="903.2" font-size="10.25" text-anchor="middle">0.6</text>
<text x="377.3" y="903.2" font-size="10.25" text-anchor="middle">0.8</text>
<text x="419.8" y="903.2" font-size="10.25" text-anchor="middle">1.0</text>
<path d="M278.5 801.4H282M278.5 835.7H282M278.5 870.8H282M292.2 890.3V893.8M334.7 890.3V893.8M377.3 890.3V893.8M419.8 890.3V893.8" stroke="#404040" stroke-width="0.8" fill="none"/>
<rect x="508.2" y="539.4" width="138.1" height="112.7" fill="none" stroke="#404040" stroke-width="0.9"/>
<text x="502.7" y="560.4" font-size="10.25" text-anchor="end">1.5</text>
<text x="502.7" y="595.5" font-size="10.25" text-anchor="end">1.0</text>
<text x="502.7" y="631.2" font-size="10.25" text-anchor="end">0.5</text>
<path d="M504.7 556.5H508.2M504.7 591.6H508.2M504.7 627.3H508.2" stroke="#404040" stroke-width="0.8" fill="none"/>
<rect x="508.2" y="658.6" width="138.1" height="112.8" fill="none" stroke="#404040" stroke-width="0.9"/>
<text x="502.7" y="678.4" font-size="10.25" text-anchor="end">1.5</text>
<text x="502.7" y="713.7" font-size="10.25" text-anchor="end">1.0</text>
<text x="502.7" y="748.6" font-size="10.25" text-anchor="end">0.5</text>
<path d="M504.7 674.5H508.2M504.7 709.8H508.2M504.7 744.7H508.2" stroke="#404040" stroke-width="0.8" fill="none"/>
<rect x="508.2" y="777.5" width="138.1" height="112.8" fill="none" stroke="#404040" stroke-width="0.9"/>
<text x="502.7" y="812.9" font-size="10.25" text-anchor="end">0.3</text>
<text x="502.7" y="852.1" font-size="10.25" text-anchor="end">0.2</text>
<text x="502.7" y="891.4" font-size="10.25" text-anchor="end">0.1</text>
<text x="518.4" y="903.2" font-size="10.25" text-anchor="middle">0.4</text>
<text x="561.1" y="903.2" font-size="10.25" text-anchor="middle">0.6</text>
<text x="603.7" y="903.2" font-size="10.25" text-anchor="middle">0.8</text>
<text x="646.3" y="903.2" font-size="10.25" text-anchor="middle">1.0</text>
<path d="M504.7 809H508.2M504.7 848.2H508.2M504.7 887.5H508.2M518.4 890.3V893.8M561.1 890.3V893.8M603.7 890.3V893.8M646.3 890.3V893.8" stroke="#404040" stroke-width="0.8" fill="none"/>
<rect x="513" y="544.5" width="103.6" height="41.9" rx="2" fill="#fff" fill-opacity="0.8" stroke="#d0d0d0" stroke-width="0.8"/>
<line x1="516" y1="551" x2="534.6" y2="551" stroke="#2ca02c" stroke-width="1.3"/>
<text x="542" y="554.3" font-size="9">MNIST</text>
<line x1="516" y1="564.6" x2="534.6" y2="564.6" stroke="#ff7f0e" stroke-width="1.3"/>
<text x="542" y="567.9" font-size="9">Fashion-MNIST</text>
<line x1="516" y1="578.2" x2="534.6" y2="578.2" stroke="#9467bd" stroke-width="1.3"/>
<text x="542" y="581.5" font-size="9">Kuzushiji-MNIST</text>
<text transform="translate(8.2 728.6) rotate(-90)" font-size="10.3" text-anchor="middle">Normalized thickness</text>
<g transform="translate(32.7 596.5) rotate(-90)">
<text x="-52" y="0" font-size="10" xml:space="preserve">Conventional ONN <tspan font-style="italic">t</tspan></text>
<text x="47.3" y="2.4" font-size="7.6">1</text>
</g>
<g transform="translate(31.5 714.8) rotate(-90)">
<text x="-48.7" y="0" font-size="10" xml:space="preserve">Row sparse ONN <tspan font-style="italic">t</tspan></text>
<text x="43.1" y="-3.7" font-size="7.4">rs</text>
<text x="42.2" y="2.8" font-size="7.4">1</text>
</g>
<g transform="translate(31.5 834.2) rotate(-90)">
<text x="-50.8" y="0" font-size="10" xml:space="preserve">Local sparse ONN <tspan font-style="italic">t</tspan></text>
<text x="46.1" y="-3.7" font-size="7.4">ls</text>
<text x="45.2" y="2.8" font-size="7.4">1</text>
</g>
<g transform="translate(259 595.8) rotate(-90)">
<text x="-4.5" y="0" font-size="10" xml:space="preserve"><tspan font-style="italic">t</tspan></text>
<text x="-0.3" y="2.4" font-size="7.6">2</text>
</g>
<g transform="translate(259 715) rotate(-90)">
<text x="-5.5" y="0" font-size="10" xml:space="preserve"><tspan font-style="italic">t</tspan></text>
<text x="-0.1" y="-3.7" font-size="7.4">rs</text>
<text x="-1" y="2.8" font-size="7.4">2</text>
</g>
<g transform="translate(247.3 834.5) rotate(-90)">
<text x="-5.1" y="0" font-size="10" xml:space="preserve"><tspan font-style="italic">t</tspan></text>
<text x="0.4" y="-3.7" font-size="7.4">ls</text>
<text x="-0.5" y="2.8" font-size="7.4">2</text>
</g>
<g transform="translate(482 585) rotate(-90)">
<text x="-4.5" y="0" font-size="10" xml:space="preserve"><tspan font-style="italic">t</tspan></text>
<text x="-0.3" y="2.4" font-size="7.6">3</text>
</g>
<g transform="translate(482 710.6) rotate(-90)">
<text x="-5.5" y="0" font-size="10" xml:space="preserve"><tspan font-style="italic">t</tspan></text>
<text x="-0.1" y="-3.7" font-size="7.4">rs</text>
<text x="-1" y="2.8" font-size="7.4">3</text>
</g>
<g transform="translate(482 828.2) rotate(-90)">
<text x="-5.1" y="0" font-size="10" xml:space="preserve"><tspan font-style="italic">t</tspan></text>
<text x="0.4" y="-3.7" font-size="7.4">ls</text>
<text x="-0.5" y="2.8" font-size="7.4">3</text>
</g>
<text x="124.6" y="915.8" font-size="10" text-anchor="middle">Test accuracy</text>
<text x="350.9" y="915.8" font-size="10" text-anchor="middle">Test accuracy</text>
<text x="577.2" y="915.8" font-size="10" text-anchor="middle">Test accuracy</text>
<text x="6" y="544" font-family="Liberation Sans, sans-serif" font-weight="bold" font-size="16">d</text>
<text x="245.3" y="543.2" font-family="Liberation Sans, sans-serif" font-weight="bold" font-size="16">e</text>
<text x="474.8" y="543.2" font-family="Liberation Sans, sans-serif" font-weight="bold" font-size="16">f</text>
<polygon points="205.1,539.8 227,539.8 227,841.9 232,841.9 215.9,852 199.9,841.9 205.1,841.9" fill="#fdca9f"/>
<polygon points="432.2,540.8 453.2,540.8 453.2,812.6 458.5,812.6 442.7,822 426.9,812.6 432.2,812.6" fill="#fdca9f"/>
<polygon points="658.7,579.3 679,579.3 679,783.9 685,783.9 669.2,792.6 653.5,783.9 658.7,783.9" fill="#fdca9f"/>
<g transform="translate(213.8 693.4) rotate(90)"><text x="0" y="0" font-size="9.6" text-anchor="middle"><tspan font-style="italic">t</tspan><tspan font-size="6.8" dy="1.8">1</tspan><tspan dy="-1.8"> reduced by a factor of 58.1, accuracy compromised by 3.6%</tspan></text></g>
<g transform="translate(440.5 678.9) rotate(90)"><text x="0" y="0" font-size="9.6" text-anchor="middle"><tspan font-style="italic">t</tspan><tspan font-size="6.8" dy="1.8">2</tspan><tspan dy="-1.8"> reduced by a factor of 46.3</tspan></text></g>
<g transform="translate(666.5 683.5) rotate(90)"><text x="0" y="0" font-size="9.6" text-anchor="middle"><tspan font-style="italic">t</tspan><tspan font-size="6.8" dy="1.8">3</tspan><tspan dy="-1.8"> reduced by a factor of 3.5</tspan></text></g>
<path d="M169.5 549.8H201" stroke="#c4c4c4" stroke-width="1.3"/><path d="M205 549.8l-4.5-2v4z" fill="#b8b8b8"/>
<path d="M200 842.7H180C174 842.7 168 849 164.5 853" stroke="#a8a8a8" stroke-width="1" fill="none"/><path d="M163 855l1-4.3 3 2.2z" fill="#999"/>
<path d="M430 540.9l-4.5-2v4z" fill="#b8b8b8"/>
<path d="M623 579H654" stroke="#c4c4c4" stroke-width="1.3"/><path d="M658.5 579l-4.5-2v4z" fill="#b8b8b8"/>
<path d="M653 793.6H621" stroke="#c4c4c4" stroke-width="1.3"/><path d="M617 793.6l4.5-2v4z" fill="#b8b8b8"/>
</svg></body></html>
